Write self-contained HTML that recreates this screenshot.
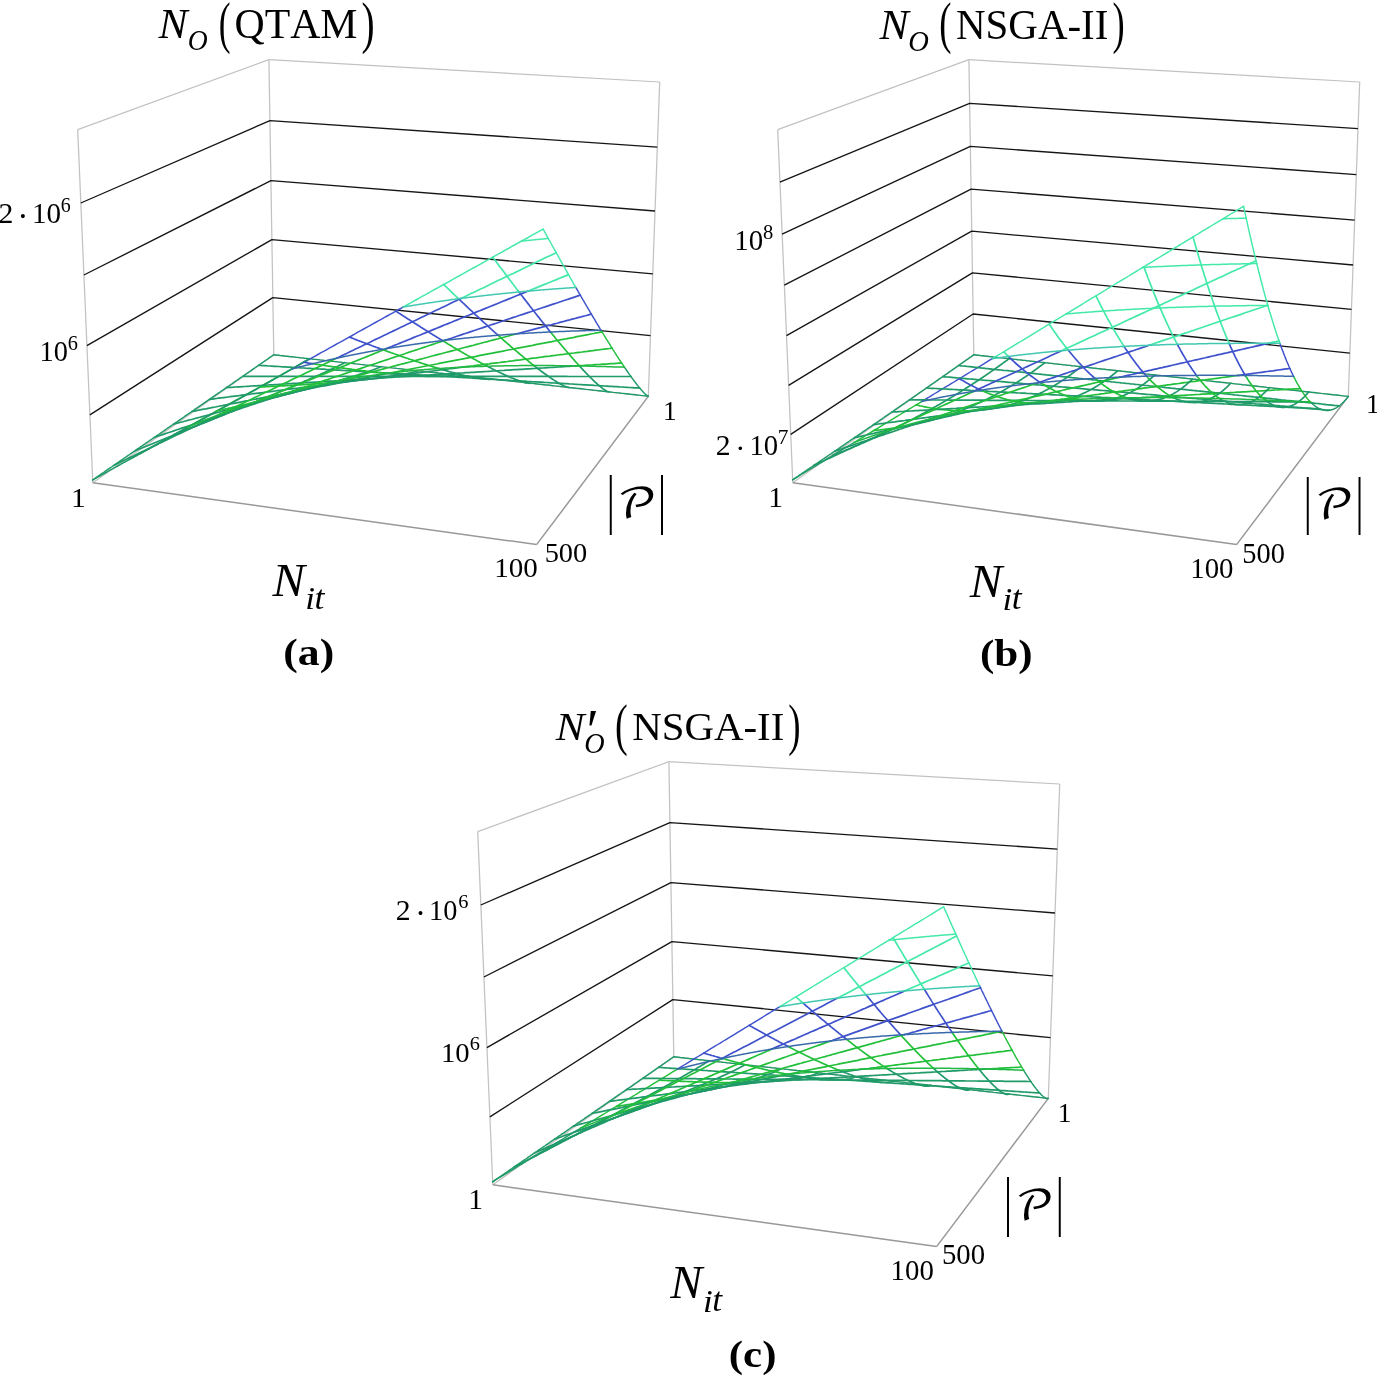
<!DOCTYPE html>
<html><head><meta charset="utf-8"><title>Figure</title><style>html,body{margin:0;padding:0;background:#fff}svg{display:block}text{font-kerning:none}</style></head><body>
<svg width="1377" height="1378" viewBox="0 0 1377 1378">
<rect width="1377" height="1378" fill="#fff"/>
<g id="pa">
<line x1="92.8" y1="482.8" x2="77.7" y2="129.6" stroke="#c2c2c2" stroke-width="1.25"/>
<line x1="273.8" y1="354.8" x2="268.9" y2="59.7" stroke="#c2c2c2" stroke-width="1.25"/>
<line x1="648.3" y1="396.4" x2="659.7" y2="82.0" stroke="#c2c2c2" stroke-width="1.25"/>
<line x1="77.7" y1="129.6" x2="268.9" y2="59.7" stroke="#c2c2c2" stroke-width="1.25"/>
<line x1="268.9" y1="59.7" x2="659.7" y2="82.0" stroke="#c2c2c2" stroke-width="1.25"/>
<line x1="92.8" y1="482.8" x2="273.8" y2="354.8" stroke="#c2c2c2" stroke-width="1.25"/>
<line x1="273.8" y1="354.8" x2="648.3" y2="396.4" stroke="#c2c2c2" stroke-width="1.25"/>
<line x1="92.8" y1="482.8" x2="536.6" y2="544.6" stroke="#989898" stroke-width="1.5"/>
<line x1="536.6" y1="544.6" x2="648.3" y2="396.4" stroke="#989898" stroke-width="1.5"/>
<polyline points="89.9,414.9 272.8,297.6 650.5,335.7" fill="none" stroke="#151515" stroke-width="1.35" stroke-linejoin="round"/>
<polyline points="86.9,345.6 271.9,239.6 652.8,273.9" fill="none" stroke="#151515" stroke-width="1.35" stroke-linejoin="round"/>
<polyline points="83.9,275.0 270.9,180.6 655.0,211.0" fill="none" stroke="#151515" stroke-width="1.35" stroke-linejoin="round"/>
<polyline points="80.8,203.0 269.9,120.6 657.3,147.1" fill="none" stroke="#151515" stroke-width="1.35" stroke-linejoin="round"/>
<polyline points="273.8,354.8 276.0,355.0 278.2,355.2 280.4,355.5 282.6,355.7 284.8,356.0 287.0,356.2 289.2,356.5 291.4,356.7 293.6,356.9 295.8,357.2 298.0,357.4 300.2,357.7 302.4,357.9 304.6,358.2 306.9,358.4 309.1,358.7 311.3,358.9 313.5,359.2 315.7,359.4 318.0,359.6 320.2,359.9 322.4,360.1 324.6,360.4 326.9,360.6 329.1,360.9 331.3,361.1 333.6,361.4 335.8,361.6 338.1,361.9 340.3,362.1 342.6,362.4 344.8,362.6 347.0,362.9 349.3,363.1 351.6,363.4 353.8,363.6 356.1,363.9 358.3,364.1 360.6,364.4 362.8,364.6 365.1,364.9 367.4,365.1 369.6,365.4 371.9,365.6 374.2,365.9 376.5,366.1 378.7,366.4 381.0,366.6 383.3,366.9 385.6,367.1 387.8,367.4 390.1,367.6 392.4,367.9 394.7,368.1 397.0,368.4 399.3,368.6 401.6,368.9 403.9,369.2 406.2,369.4 408.5,369.7 410.8,369.9 413.1,370.2 415.4,370.4 417.7,370.7 420.0,370.9 422.3,371.2 424.6,371.4 426.9,371.7 429.2,372.0 431.6,372.2 433.9,372.5 436.2,372.7 438.5,373.0 440.9,373.2 443.2,373.5 445.5,373.8 447.8,374.0 450.2,374.3 452.5,374.5 454.8,374.8 457.2,375.0 459.5,375.3 461.9,375.6 464.2,375.8 466.6,376.1 468.9,376.3 471.3,376.6 473.6,376.9 476.0,377.1 478.3,377.4 480.7,377.7 483.1,377.9 485.4,378.2 487.8,378.4 490.1,378.7 492.5,379.0 494.9,379.2 497.3,379.5 499.6,379.7 502.0,380.0 504.4,380.3 506.8,380.5 509.2,380.8 511.5,381.1 513.9,381.3 516.3,381.6 518.7,381.9 521.1,382.1 523.5,382.4 525.9,382.7 528.3,382.9 530.7,383.2 533.1,383.4 535.5,383.7 537.9,384.0 540.3,384.2 542.7,384.5 545.1,384.8 547.5,385.0 550.0,385.3 552.4,385.6 554.8,385.9 557.2,386.1 559.7,386.4 562.1,386.7 564.5,386.9 566.9,387.2 569.4,387.5 571.8,387.7 574.3,388.0 576.7,388.3 579.1,388.5 581.6,388.8 584.0,389.1 586.5,389.4 588.9,389.6 591.4,389.9 593.8,390.2 596.3,390.4 598.7,390.7 601.2,391.0 603.7,391.3 606.1,391.5 608.6,391.8 611.1,392.1 613.5,392.4 616.0,392.6 618.5,392.9 621.0,393.2 623.4,393.4 625.9,393.7 628.4,394.0 630.9,394.3 633.4,394.5 635.9,394.8 638.4,395.1 640.9,395.4 643.4,395.6 645.9,395.9 648.4,396.2" fill="none" stroke="#1f9a68" stroke-width="1.45" stroke-linecap="round" stroke-linejoin="round"/>
<polyline points="92.6,480.0 95.1,478.6 97.6,477.2 100.1,475.8 102.6,474.4 105.1,473.0 107.6,471.6 110.1,470.2 112.6,468.8 115.2,467.4 117.7,466.0 120.2,464.6 122.7,463.2 125.3,461.8 127.8,460.4 130.3,459.0 132.9,457.6 135.4,456.1 138.0,454.7 140.5,453.3 143.1,451.9 145.6,450.5 148.2,449.0 150.8,447.6 153.4,446.2 155.9,444.7 158.5,443.3 161.1,441.8 163.7,440.4 166.3,439.0 168.9,437.5 171.5,436.1 174.1,434.6 176.7,433.2 179.3,431.7 181.9,430.3 184.5,428.8 187.2,427.3 187.4,427.2" fill="none" stroke="#1f9a68" stroke-width="1.45" stroke-linecap="round" stroke-linejoin="round"/>
<polyline points="187.4,427.2 189.8,425.9 192.4,424.4 195.0,422.9 197.7,421.5 200.3,420.0 203.0,418.5 205.6,417.1 208.3,415.6 210.9,414.1 213.6,412.6 216.3,411.1 219.0,409.6 221.6,408.1 224.3,406.7 227.0,405.2 229.7,403.7 232.4,402.2 235.1,400.7 237.8,399.2 240.5,397.6 243.2,396.1 245.9,394.6 248.6,393.1 251.3,391.6 254.1,390.1 256.8,388.6 259.5,387.0 262.3,385.5 265.0,384.0 267.7,382.5 270.5,380.9 273.3,379.4 276.0,377.9 278.8,376.3 281.5,374.8 284.3,373.2 287.1,371.7 289.9,370.1 292.1,368.9" fill="none" stroke="#22c03a" stroke-width="1.45" stroke-linecap="round" stroke-linejoin="round"/>
<polyline points="292.1,368.9 292.7,368.6 295.4,367.0 298.2,365.5 301.0,363.9 303.8,362.4 306.6,360.8 309.5,359.2 312.3,357.7 315.1,356.1 317.9,354.5 320.7,352.9 323.6,351.4 326.4,349.8 329.3,348.2 332.1,346.6 335.0,345.0 337.8,343.4 340.7,341.9 343.5,340.3 346.4,338.7 349.3,337.1 352.2,335.5 355.0,333.9 357.9,332.2 360.8,330.6 363.7,329.0 366.6,327.4 369.5,325.8 372.4,324.2 375.4,322.5 378.3,320.9 381.2,319.3 384.1,317.7 387.1,316.0 390.0,314.4 392.9,312.8 395.9,311.1 398.8,309.5 401.8,307.8 403.2,307.0" fill="none" stroke="#3f52cc" stroke-width="1.45" stroke-linecap="round" stroke-linejoin="round"/>
<polyline points="403.2,307.0 404.8,306.2 407.7,304.5 410.7,302.9 413.7,301.2 416.7,299.5 419.6,297.9 422.6,296.2 425.6,294.6 428.6,292.9 431.6,291.2 434.6,289.5 437.7,287.9 440.7,286.2 443.7,284.5 446.7,282.8 449.8,281.1 452.8,279.4 455.8,277.7 458.9,276.0 461.9,274.3 465.0,272.6 468.1,270.9 471.1,269.2 474.2,267.5 477.3,265.8 480.4,264.1 483.5,262.3 486.6,260.6 489.7,258.9 492.8,257.2 495.9,255.4 499.0,253.7 502.1,252.0 505.2,250.2 508.4,248.5 511.5,246.7 514.6,245.0 517.8,243.2 520.9,241.5 521.5,241.1" fill="none" stroke="#43e9a9" stroke-width="1.45" stroke-linecap="round" stroke-linejoin="round"/>
<polyline points="521.5,241.1 524.1,239.7 527.3,238.0 530.4,236.2 533.6,234.4 536.8,232.7 539.9,230.9 543.1,229.1" fill="none" stroke="#43e9a9" stroke-width="1.45" stroke-linecap="round" stroke-linejoin="round"/>
<polyline points="273.8,354.8 272.9,355.4 271.9,356.1 271.0,356.7 270.0,357.4 269.1,358.0 268.1,358.7 267.2,359.4 266.2,360.0 265.3,360.7 264.3,361.3 263.4,362.0 262.4,362.7 261.4,363.3 260.5,364.0 259.5,364.7 258.5,365.3 257.6,366.0 256.6,366.7 255.6,367.4 254.6,368.0 253.7,368.7 252.7,369.4 251.7,370.1 250.7,370.8 249.7,371.5 248.7,372.1 247.7,372.8 246.8,373.5 245.8,374.2 244.8,374.9 243.8,375.6 242.7,376.3 241.7,377.0 240.7,377.7 239.7,378.4 238.7,379.1 237.7,379.8 236.7,380.5 235.7,381.2 234.6,381.9 233.6,382.6 232.6,383.3 231.6,384.0 230.5,384.7 229.5,385.5 228.5,386.2 227.4,386.9 226.4,387.6 225.3,388.3 224.3,389.1 223.2,389.8 222.2,390.5 221.1,391.2 220.1,392.0 219.0,392.7 218.0,393.4 216.9,394.2 215.8,394.9 214.8,395.6 213.7,396.4 212.6,397.1 211.6,397.9 210.5,398.6 209.4,399.4 208.3,400.1 207.2,400.8 206.1,401.6 205.1,402.4 204.0,403.1 202.9,403.9 201.8,404.6 200.7,405.4 199.6,406.1 198.5,406.9 197.4,407.7 196.2,408.4 195.1,409.2 194.0,410.0 192.9,410.8 191.8,411.5 190.7,412.3 189.5,413.1 188.4,413.9 187.3,414.6 186.1,415.4 185.0,416.2 183.9,417.0 182.7,417.8 181.6,418.6 180.4,419.4 179.3,420.2 178.1,421.0 177.0,421.8 175.8,422.6 174.6,423.4 173.5,424.2 172.3,425.0 171.1,425.8 170.0,426.6 168.8,427.4 167.6,428.2 166.4,429.0 165.3,429.8 164.1,430.7 162.9,431.5 161.7,432.3 160.5,433.1 159.3,434.0 158.1,434.8 156.9,435.6 155.7,436.5 154.5,437.3 153.2,438.1 152.0,439.0 150.8,439.8 149.6,440.7 148.4,441.5 147.1,442.4 145.9,443.2 144.7,444.1 143.4,444.9 142.2,445.8 140.9,446.6 139.7,447.5 138.5,448.4 137.2,449.2 135.9,450.1 134.7,451.0 133.4,451.8 132.2,452.7 130.9,453.6 129.6,454.5 128.3,455.3 127.1,456.2 125.8,457.1 124.5,458.0 123.2,458.9 121.9,459.8 120.6,460.7 119.3,461.6 118.0,462.5 116.7,463.4 115.4,464.3 114.1,465.2 112.8,466.1 111.5,467.0 110.1,467.9 108.8,468.8 107.5,469.7 106.2,470.6 104.8,471.6 103.5,472.5 102.1,473.4 100.8,474.3 99.4,475.3 98.1,476.2 96.7,477.1 95.4,478.1 94.0,479.0 92.6,480.0" fill="none" stroke="#1f9a68" stroke-width="1.45" stroke-linecap="round" stroke-linejoin="round"/>
<polyline points="648.4,396.2 647.8,396.0 647.3,395.7 646.8,395.3 646.2,394.9 645.7,394.4 645.2,394.0 644.6,393.4 644.1,392.9 643.6,392.4 643.0,391.8 642.5,391.2 641.9,390.6 641.4,390.0 640.9,389.4 640.3,388.7 639.8,388.1 639.2,387.4 638.7,386.8 638.1,386.1 637.6,385.4 637.0,384.7 636.5,384.0 635.9,383.3 635.4,382.5 634.8,381.8 634.3,381.1 633.7,380.3 633.2,379.6 632.6,378.8 632.0,378.0 631.5,377.3 630.9,376.5 630.4,375.7 629.8,374.9 629.2,374.1 628.7,373.3 628.1,372.5 627.5,371.6 626.9,370.8 626.4,370.0 625.8,369.1 625.2,368.3 624.6,367.4 624.5,367.2" fill="none" stroke="#1f9a68" stroke-width="1.45" stroke-linecap="round" stroke-linejoin="round"/>
<polyline points="624.5,367.2 624.0,366.6 623.5,365.7 622.9,364.8 622.3,363.9 621.7,363.1 621.1,362.2 620.5,361.3 619.9,360.4 619.3,359.5 618.7,358.6 618.1,357.6 617.5,356.7 616.9,355.8 616.3,354.8 615.7,353.9 615.1,353.0 614.5,352.0 613.9,351.0 613.3,350.1 612.7,349.1 612.1,348.1 611.4,347.2 610.8,346.2 610.2,345.2 609.6,344.2 609.0,343.2 608.3,342.2 607.7,341.2 607.1,340.2 606.4,339.1 605.8,338.1 605.2,337.1 604.5,336.0 603.9,335.0 603.3,333.9 602.6,332.9 602.0,331.8 601.3,330.8 601.0,330.2" fill="none" stroke="#22c03a" stroke-width="1.45" stroke-linecap="round" stroke-linejoin="round"/>
<polyline points="601.0,330.2 600.7,329.7 600.0,328.6 599.4,327.5 598.7,326.5 598.1,325.4 597.4,324.3 596.7,323.2 596.1,322.1 595.4,321.0 594.8,319.8 594.1,318.7 593.4,317.6 592.7,316.5 592.1,315.3 591.4,314.2 590.7,313.0 590.0,311.9 589.3,310.7 588.7,309.5 588.0,308.4 587.3,307.2 586.6,306.0 585.9,304.8 585.2,303.6 584.5,302.4 583.8,301.2 583.1,300.0 582.4,298.8 581.7,297.6 581.0,296.4 580.3,295.1 579.5,293.9 578.8,292.6 578.1,291.4 577.4,290.1 576.7,288.9 575.9,287.6 575.8,287.4" fill="none" stroke="#3f52cc" stroke-width="1.45" stroke-linecap="round" stroke-linejoin="round"/>
<polyline points="575.8,287.4 575.2,286.3 574.5,285.1 573.7,283.8 573.0,282.5 572.3,281.2 571.5,279.9 570.8,278.6 570.0,277.3 569.3,276.0 568.5,274.6 567.8,273.3 567.0,272.0 566.3,270.6 565.5,269.3 564.8,267.9 564.0,266.6 563.2,265.2 562.4,263.9 561.7,262.5 560.9,261.1 560.1,259.7 559.3,258.3 558.6,256.9 557.8,255.5 557.0,254.1 556.2,252.7 555.4,251.2 554.6,249.8 553.8,248.4 553.0,246.9 552.2,245.5 551.4,244.0 550.6,242.6 549.8,241.1 548.9,239.6 548.3,238.4" fill="none" stroke="#43e9a9" stroke-width="1.45" stroke-linecap="round" stroke-linejoin="round"/>
<polyline points="548.3,238.4 548.1,238.1 547.3,236.7 546.5,235.2 545.6,233.7 544.8,232.2 544.0,230.6 543.1,229.1" fill="none" stroke="#43e9a9" stroke-width="1.45" stroke-linecap="round" stroke-linejoin="round"/>
<polyline points="258.5,365.3 260.8,365.5 263.0,365.6 265.2,365.7 267.4,365.9 269.7,366.0 271.9,366.1 274.1,366.3 276.4,366.4 278.6,366.5 280.8,366.7 283.1,366.8 285.3,366.9 287.6,367.1 289.8,367.2 292.1,367.3 294.3,367.5 296.6,367.6 298.8,367.7 301.1,367.9 303.3,368.0 305.6,368.2 307.9,368.3 310.1,368.4 312.4,368.6 314.7,368.7 316.9,368.8 319.2,369.0 321.5,369.1 323.7,369.2 326.0,369.4 328.3,369.5 330.6,369.6 332.9,369.8 335.1,369.9 337.4,370.1 339.7,370.2 342.0,370.3 344.3,370.5 346.6,370.6 348.9,370.7 351.2,370.9 353.5,371.0 355.8,371.1 358.1,371.3 360.4,371.4 362.7,371.6 365.0,371.7 367.3,371.8 369.7,372.0 372.0,372.1 374.3,372.3 376.6,372.4 378.9,372.5 381.3,372.7 383.6,372.8 385.9,372.9 388.3,373.1 390.6,373.2 392.9,373.4 395.3,373.5 397.6,373.6 399.9,373.8 402.3,373.9 404.6,374.1 407.0,374.2 409.3,374.3 411.7,374.5 414.0,374.6 416.4,374.8 418.7,374.9 421.1,375.0 423.5,375.2 425.8,375.3 428.2,375.5 430.6,375.6 432.9,375.7 435.3,375.9 437.7,376.0 440.1,376.2 442.4,376.3 444.8,376.5 447.2,376.6 449.6,376.7 452.0,376.9 454.4,377.0 456.8,377.2 459.1,377.3 461.5,377.5 463.9,377.6 466.3,377.7 468.7,377.9 471.1,378.0 473.6,378.2 476.0,378.3 478.4,378.5 480.8,378.6 483.2,378.7 485.6,378.9 488.0,379.0 490.5,379.2 492.9,379.3 495.3,379.5 497.7,379.6 500.2,379.8 502.6,379.9 505.0,380.1 507.5,380.2 509.9,380.3 512.3,380.5 514.8,380.6 517.2,380.8 519.7,380.9 522.1,381.1 524.6,381.2 527.0,381.4 529.5,381.5 531.9,381.7 534.4,381.8 536.9,381.9 539.3,382.1 541.8,382.2 544.3,382.4 546.7,382.5 549.2,382.7 551.7,382.8 554.2,383.0 556.7,383.1 559.1,383.3 561.6,383.4 564.1,383.6 566.6,383.7 569.1,383.9 571.6,384.0 574.1,384.2 576.6,384.3 579.1,384.5 581.6,384.6 584.1,384.8 586.6,384.9 589.1,385.1 591.6,385.2 594.1,385.4 596.6,385.5 599.2,385.7 601.7,385.8 604.2,386.0 606.7,386.1 609.3,386.3 611.8,386.4 614.3,386.6 616.9,386.7 619.4,386.9 621.9,387.0 624.5,387.2 627.0,387.3 629.6,387.5 632.1,387.6 634.7,387.8 637.2,387.9 639.8,388.1" fill="none" stroke="#1f9a68" stroke-width="1.7" stroke-linecap="round" stroke-linejoin="round"/>
<polyline points="309.1,358.7 308.2,359.2 307.3,359.8 306.3,360.4 305.4,360.9 304.5,361.5 303.6,362.0 302.7,362.6 301.8,363.1 300.8,363.7 299.9,364.2 299.0,364.7 298.1,365.3 297.1,365.8 296.2,366.4 295.3,366.9 294.3,367.5 293.4,368.0 292.4,368.6 291.5,369.1 290.5,369.7 289.6,370.2 288.6,370.8 287.7,371.3 286.7,371.9 285.8,372.4 284.8,373.0 283.9,373.5 282.9,374.1 281.9,374.6 281.0,375.2 280.0,375.7 279.0,376.3 278.0,376.9 277.1,377.4 276.1,378.0 275.1,378.5 274.1,379.1 273.1,379.7 272.1,380.2 271.2,380.8 270.2,381.4 269.2,381.9 268.2,382.5 267.2,383.1 266.2,383.6 265.2,384.2 264.2,384.8 263.1,385.3 262.1,385.9 261.1,386.5 260.1,387.0 259.1,387.6 258.1,388.2 257.0,388.8 256.0,389.4 255.0,389.9 254.0,390.5 252.9,391.1 251.9,391.7 250.8,392.3 249.8,392.8 248.8,393.4 247.7,394.0 246.7,394.6 245.6,395.2 244.6,395.8 243.5,396.4 242.5,397.0 241.4,397.6 240.3,398.2 239.3,398.8 238.2,399.4 237.1,400.0 236.0,400.6 235.0,401.2 233.9,401.8 232.8,402.4 231.7,403.0 230.6,403.6 229.5,404.2 228.5,404.8 227.4,405.4 226.3,406.0 225.2,406.6 224.1,407.2 223.0,407.9 221.8,408.5 220.7,409.1 219.6,409.7 218.5,410.3 217.4,411.0 216.3,411.6 215.1,412.2 214.0,412.8 212.9,413.5 211.8,414.1 210.6,414.7 209.5,415.4 208.3,416.0 207.2,416.6 206.0,417.3 204.9,417.9 203.7,418.5 202.6,419.2 201.4,419.8 200.3,420.5 199.1,421.1 197.9,421.8 196.8,422.4 195.6,423.1 194.4,423.7 193.2,424.4 192.0,425.0 190.9,425.7 189.7,426.3 188.5,427.0 187.3,427.6 186.1,428.3 184.9,429.0 183.7,429.6 182.5,430.3 181.3,431.0 180.1,431.6 178.8,432.3 177.6,433.0 176.4,433.6 175.2,434.3 173.9,435.0 172.7,435.7 171.5,436.4 170.2,437.0 169.0,437.7 167.8,438.4 166.5,439.1 165.3,439.8 164.0,440.5 162.7,441.2 161.5,441.9 160.2,442.6 158.9,443.3 157.7,444.0 156.4,444.7 155.1,445.4 153.8,446.1 152.6,446.8 151.3,447.5 150.0,448.2 148.7,448.9 147.4,449.6 146.1,450.3 144.8,451.0 143.5,451.8 142.2,452.5 140.8,453.2 139.5,453.9 138.2,454.6 136.9,455.4 135.5,456.1 134.2,456.8 132.9,457.6" fill="none" stroke="#1f9a68" stroke-width="1.7" stroke-linecap="round" stroke-linejoin="round"/>
<polyline points="242.7,376.3 245.0,376.3 247.3,376.3 249.5,376.3 251.8,376.3 254.0,376.3 256.3,376.3 258.6,376.3 260.8,376.3 263.1,376.3 265.4,376.3 267.6,376.3 269.9,376.3 272.2,376.3 274.5,376.3 276.7,376.3 279.0,376.3 281.3,376.3 283.6,376.3 285.9,376.3 288.2,376.3 290.5,376.3 292.8,376.3 295.1,376.3 297.3,376.3 299.7,376.3 302.0,376.3 304.3,376.3 306.6,376.3 308.9,376.3 311.2,376.3 313.5,376.3 315.8,376.3 318.1,376.3 320.5,376.3 322.8,376.3 325.1,376.3 327.4,376.3 329.8,376.3 332.1,376.3 334.4,376.3 336.8,376.3 339.1,376.3 341.4,376.3 343.8,376.3 346.1,376.3 348.5,376.3 350.8,376.3 353.2,376.3 355.5,376.3 357.9,376.3 360.2,376.3 362.6,376.3 364.9,376.3 367.3,376.3 369.7,376.4 372.0,376.4 374.4,376.4 376.8,376.4 379.2,376.4 381.5,376.4 383.9,376.4 386.3,376.4 388.7,376.4 391.1,376.4 393.5,376.4 395.8,376.4 398.2,376.4 400.6,376.4 403.0,376.4 405.4,376.4 407.8,376.4 410.2,376.4 412.6,376.4 415.0,376.4 417.5,376.4 419.9,376.4 422.3,376.4 424.7,376.4 427.1,376.4 429.5,376.4 432.0,376.4 434.4,376.4 436.8,376.4 439.2,376.4 441.7,376.4 444.1,376.4 446.6,376.4 449.0,376.4 451.4,376.4 453.9,376.4 456.3,376.4 458.8,376.4 461.2,376.4 463.7,376.4 466.1,376.4 468.6,376.4 471.1,376.4 473.5,376.4 476.0,376.4 478.5,376.4 480.9,376.4 483.4,376.4 485.9,376.4 488.3,376.4 490.8,376.4 493.3,376.4 495.8,376.4 498.3,376.4 500.8,376.4 503.3,376.4 505.8,376.4 508.2,376.4 510.7,376.4 513.2,376.4 515.8,376.4 518.3,376.4 520.8,376.4 523.3,376.4 525.8,376.4 528.3,376.4 530.8,376.4 533.3,376.4 535.9,376.4 538.4,376.4 540.9,376.4 543.4,376.4 546.0,376.4 548.5,376.4 551.0,376.4 553.6,376.4 556.1,376.4 558.7,376.4 561.2,376.4 563.8,376.4 566.3,376.4 568.9,376.5 571.4,376.5 574.0,376.5 576.6,376.5 579.1,376.5 581.7,376.5 584.3,376.5 586.8,376.5 589.4,376.5 592.0,376.5 594.6,376.5 597.1,376.5 599.7,376.5 602.3,376.5 604.9,376.5 607.5,376.5 610.1,376.5 612.7,376.5 615.3,376.5 617.9,376.5 620.5,376.5 623.1,376.5 625.7,376.5 628.3,376.5 630.9,376.5" fill="none" stroke="#1f9a68" stroke-width="1.7" stroke-linecap="round" stroke-linejoin="round"/>
<polyline points="344.8,362.6 343.9,363.1 343.1,363.6 342.2,364.0 341.3,364.5 340.4,364.9 339.5,365.4 338.6,365.8 337.8,366.2 336.9,366.7 336.0,367.1 335.1,367.5 334.2,368.0 333.3,368.4 332.4,368.8 331.5,369.2 330.6,369.6 329.7,370.1 328.8,370.5 327.9,370.9 326.9,371.3 326.0,371.7 325.1,372.2 324.2,372.6 323.3,373.0 322.3,373.4 321.4,373.8 320.5,374.2 319.6,374.7 318.6,375.1 317.7,375.5 316.8,375.9 315.8,376.3 314.9,376.7 313.9,377.2 313.0,377.6 312.0,378.0 311.1,378.4 310.1,378.8 309.2,379.2 308.2,379.7 307.3,380.1 306.3,380.5 305.3,380.9 304.4,381.3 303.4,381.8 302.4,382.2 301.5,382.6 300.5,383.0 299.5,383.4 298.5,383.9 297.5,384.3 296.6,384.7 295.6,385.1 294.6,385.5 293.6,386.0 292.6,386.4 291.6,386.8 290.6,387.2 289.6,387.7 288.6,388.1 287.6,388.5 286.6,388.9 285.6,389.4 284.6,389.8 283.5,390.2 282.5,390.6 281.5,391.1 280.5,391.5 279.5,391.9 278.4,392.4 277.4,392.8 276.4,393.2 275.3,393.7 274.3,394.1 273.2,394.5 272.2,395.0 271.1,395.4 270.1,395.8 269.0,396.3 268.0,396.7 266.9,397.2 265.9,397.6 264.8,398.0 263.7,398.5 262.7,398.9 261.6,399.4 260.5,399.8 259.5,400.3 258.4,400.7 257.3,401.1 256.2,401.6 255.1,402.0 254.0,402.5 252.9,402.9 251.8,403.4 250.7,403.8 249.6,404.3 248.5,404.7 247.4,405.2 246.3,405.6 245.2,406.1 244.1,406.5 243.0,407.0 241.9,407.5 240.7,407.9 239.6,408.4 238.5,408.8 237.3,409.3 236.2,409.8 235.1,410.2 233.9,410.7 232.8,411.1 231.6,411.6 230.5,412.1 229.3,412.5 228.2,413.0 227.0,413.5 225.8,414.0 224.7,414.4 223.5,414.9 222.3,415.4 221.2,415.8 220.0,416.3 218.8,416.8 217.6,417.3 216.4,417.7 215.2,418.2 214.0,418.7 212.8,419.2 211.6,419.7 210.4,420.1 209.2,420.6 208.0,421.1 206.8,421.6 205.6,422.1 204.4,422.6 203.2,423.1 201.9,423.6 200.7,424.0 199.5,424.5 198.2,425.0 197.0,425.5 195.7,426.0 194.5,426.5 193.2,427.0 192.0,427.5 190.7,428.0 189.5,428.5 188.2,429.0 186.9,429.5 185.7,430.0 184.4,430.5 183.1,431.0 181.8,431.5 180.6,432.1 179.3,432.6 178.0,433.1 176.7,433.6 175.4,434.1 174.1,434.6" fill="none" stroke="#1f9a68" stroke-width="1.7" stroke-linecap="round" stroke-linejoin="round"/>
<polyline points="226.4,387.6 228.7,387.5 230.9,387.3 233.2,387.2 235.5,387.0 237.8,386.9 240.1,386.8 242.4,386.6 244.7,386.5 247.0,386.3 249.3,386.2 251.6,386.0 253.9,385.9 256.2,385.8 258.5,385.6 260.8,385.5 263.1,385.3 265.5,385.2 267.8,385.0 270.1,384.9 272.4,384.8 274.8,384.6 277.1,384.5 279.4,384.3 281.7,384.2 284.1,384.0 286.4,383.9 288.8,383.7 291.1,383.6 293.4,383.4 295.8,383.3 298.1,383.2 300.5,383.0 302.8,382.9 305.2,382.7 307.6,382.6 309.9,382.4 312.3,382.3 314.6,382.1 317.0,382.0 319.4,381.8 321.8,381.7 324.1,381.5 326.5,381.4 328.9,381.2 331.3,381.1 333.6,381.0 336.0,380.8 338.4,380.7 340.8,380.5 343.2,380.4 345.6,380.2 348.0,380.1 350.4,379.9 352.8,379.8 355.2,379.6 357.6,379.5 360.0,379.3 362.4,379.2 364.8,379.0 367.3,378.9 369.7,378.7 372.1,378.6 374.5,378.4 377.0,378.3 379.4,378.1 381.8,378.0 384.3,377.8 386.7,377.7 389.1,377.5 391.6,377.4 394.0,377.2 396.5,377.0 398.9,376.9 401.4,376.7 403.8,376.6 406.3,376.4 408.7,376.3 411.2,376.1 413.6,376.0 416.1,375.8 418.6,375.7 421.1,375.5 423.5,375.4 426.0,375.2 428.5,375.1 431.0,374.9 433.4,374.8 435.9,374.6 438.4,374.4 440.9,374.3 443.4,374.1 445.9,374.0 448.4,373.8 450.9,373.7 453.4,373.5 455.9,373.4 458.4,373.2 460.9,373.0 463.4,372.9 465.9,372.7 468.5,372.6 471.0,372.4 473.5,372.3 476.0,372.1 478.6,371.9 481.1,371.8 483.6,371.6 486.2,371.5 488.7,371.3 491.2,371.2 493.8,371.0 496.3,370.8 498.9,370.7 501.4,370.5 504.0,370.4 506.5,370.2 509.1,370.1 511.7,369.9 514.2,369.7 516.8,369.6 519.4,369.4 521.9,369.3 524.5,369.1 527.1,368.9 529.7,368.8 532.3,368.6 534.8,368.5 537.4,368.3 540.0,368.1 542.6,368.0 545.2,367.8 547.8,367.6 550.4,367.5 553.0,367.3 555.6,367.2 558.2,367.0 560.9,366.8 563.5,366.7 566.1,366.5 568.7,366.4 571.3,366.2 574.0,366.0 575.6,365.9" fill="none" stroke="#1f9a68" stroke-width="1.7" stroke-linecap="round" stroke-linejoin="round"/>
<polyline points="575.6,365.9 576.6,365.9 579.2,365.7 581.9,365.5 584.5,365.4 587.1,365.2 589.8,365.0 592.4,364.9 595.1,364.7 597.7,364.5 600.4,364.4 603.0,364.2 605.7,364.1 608.4,363.9 611.0,363.7 613.7,363.6 616.4,363.4 619.0,363.2 621.7,363.1" fill="none" stroke="#22c03a" stroke-width="1.7" stroke-linecap="round" stroke-linejoin="round"/>
<polyline points="381.0,366.6 380.2,367.0 379.3,367.4 378.5,367.8 377.6,368.1 376.8,368.4 375.9,368.8 375.1,369.1 374.2,369.4 373.4,369.7 372.5,370.0 371.7,370.3 370.8,370.6 369.9,370.9 369.1,371.2 368.2,371.5 367.3,371.8 366.5,372.1 365.6,372.4 364.7,372.7 363.9,373.0 363.0,373.3 362.1,373.6 361.2,373.8 360.3,374.1 359.4,374.4 358.5,374.7 357.7,375.0 356.8,375.2 355.9,375.5 355.0,375.8 354.1,376.1 353.2,376.3 352.3,376.6 351.4,376.9 350.4,377.2 349.5,377.4 348.6,377.7 347.7,378.0 346.8,378.2 345.9,378.5 344.9,378.8 344.0,379.0 343.1,379.3 342.2,379.6 341.2,379.9 340.3,380.1 339.4,380.4 338.4,380.7 337.5,380.9 336.5,381.2 335.6,381.5 334.6,381.7 333.7,382.0 332.7,382.2 331.8,382.5 330.8,382.8 329.9,383.0 328.9,383.3 327.9,383.6 327.0,383.8 326.0,384.1 325.0,384.4 324.1,384.6 323.1,384.9 322.1,385.2 321.1,385.4 320.1,385.7 319.2,385.9 318.2,386.2 317.2,386.5 316.2,386.7 315.2,387.0 314.2,387.3 313.2,387.5 312.2,387.8 311.2,388.1 310.2,388.3 309.2,388.6 308.1,388.9 307.1,389.1 306.1,389.4 305.1,389.6 304.1,389.9 303.0,390.2 302.0,390.4 301.0,390.7 299.9,391.0 298.9,391.2 297.8,391.5 296.8,391.8 295.8,392.0 294.7,392.3 293.7,392.6 292.6,392.8 291.5,393.1 290.5,393.4 289.4,393.6 288.4,393.9 287.3,394.2 286.2,394.4 285.1,394.7 284.1,395.0 283.0,395.2 281.9,395.5 280.8,395.8 279.7,396.1 278.6,396.3 277.5,396.6 276.4,396.9 275.3,397.1 274.2,397.4 273.1,397.7 272.0,397.9 270.9,398.2 269.8,398.5 268.7,398.8 267.6,399.0 266.4,399.3 265.3,399.6 264.2,399.9 263.0,400.1 261.9,400.4 260.8,400.7 259.6,401.0 258.5,401.2 257.3,401.5 256.2,401.8 255.7,401.9" fill="none" stroke="#1f9a68" stroke-width="1.7" stroke-linecap="round" stroke-linejoin="round"/>
<polyline points="255.7,401.9 255.0,402.1 253.9,402.3 252.7,402.6 251.5,402.9 250.4,403.2 249.2,403.4 248.0,403.7 246.8,404.0 245.7,404.3 244.5,404.6 243.3,404.8 242.1,405.1 240.9,405.4 239.7,405.7 238.5,406.0 237.3,406.2 236.1,406.5 234.9,406.8 233.7,407.1 232.4,407.4 231.2,407.7 230.0,408.0 228.8,408.2 227.5,408.5 226.3,408.8 225.1,409.1 223.8,409.4 222.6,409.7 221.3,410.0 220.1,410.3 218.8,410.5 217.5,410.8 216.3,411.1" fill="none" stroke="#22c03a" stroke-width="1.7" stroke-linecap="round" stroke-linejoin="round"/>
<polyline points="209.4,399.4 211.7,399.1 214.0,398.8 216.3,398.5 218.7,398.2 221.0,397.9 223.3,397.6 225.6,397.3 228.0,397.0 230.3,396.7 232.6,396.4 235.0,396.1 237.3,395.8 239.6,395.5 242.0,395.2 244.3,394.9 246.7,394.6 249.0,394.3 251.4,394.0 253.7,393.7 256.1,393.4 258.4,393.1 260.8,392.8 263.2,392.5 265.5,392.2 267.9,391.9 270.3,391.6 272.6,391.3 275.0,391.0 277.4,390.7 279.8,390.4 282.2,390.1 284.6,389.8 286.9,389.5 289.3,389.2 291.7,388.9 294.1,388.6 296.5,388.3 298.9,388.0 301.3,387.7 303.7,387.4 306.2,387.0 308.6,386.7 311.0,386.4 313.4,386.1 315.8,385.8 318.2,385.5 320.7,385.2 323.1,384.9 325.5,384.6 327.9,384.3 330.4,384.0 332.8,383.7 335.3,383.3 337.7,383.0 340.1,382.7 342.6,382.4 345.0,382.1 347.5,381.8 350.0,381.5 352.4,381.2 354.9,380.9 357.3,380.5 359.8,380.2 362.3,379.9 364.7,379.6 367.2,379.3 369.7,379.0 372.2,378.7 374.6,378.3 377.1,378.0 379.6,377.7 382.1,377.4 384.6,377.1 387.1,376.8 389.6,376.4 392.1,376.1 394.6,375.8 397.1,375.5 399.6,375.2 402.1,374.8 404.6,374.5 407.1,374.2 409.7,373.9 412.2,373.6 414.7,373.2 417.2,372.9 419.8,372.6 422.3,372.3 424.8,372.0 427.4,371.6 429.9,371.3 432.5,371.0 435.0,370.7 437.6,370.3 440.1,370.0 442.7,369.7 445.2,369.4 447.8,369.0 450.3,368.7 452.9,368.4 455.5,368.1 458.0,367.7 460.6,367.4 462.3,367.2" fill="none" stroke="#1f9a68" stroke-width="1.7" stroke-linecap="round" stroke-linejoin="round"/>
<polyline points="462.3,367.2 463.2,367.1 465.8,366.7 468.4,366.4 470.9,366.1 473.5,365.8 476.1,365.4 478.7,365.1 481.3,364.8 483.9,364.4 486.5,364.1 489.1,363.8 491.7,363.4 494.3,363.1 496.9,362.8 499.6,362.5 502.2,362.1 504.8,361.8 507.4,361.5 510.0,361.1 512.7,360.8 515.3,360.4 517.9,360.1 520.6,359.8 523.2,359.4 525.9,359.1 528.5,358.8 531.2,358.4 533.8,358.1 536.5,357.8 539.1,357.4 541.8,357.1 544.5,356.7 547.1,356.4 549.8,356.1 552.5,355.7 555.2,355.4 557.8,355.0 560.5,354.7 563.2,354.4 565.9,354.0 568.6,353.7 571.3,353.3 574.0,353.0 576.7,352.6 579.4,352.3 582.1,352.0 584.8,351.6 587.5,351.3 590.2,350.9 592.9,350.6 595.7,350.2 598.4,349.9 601.1,349.5 603.9,349.2 606.6,348.8 609.3,348.5 612.1,348.1" fill="none" stroke="#22c03a" stroke-width="1.7" stroke-linecap="round" stroke-linejoin="round"/>
<polyline points="417.7,370.7 416.9,371.0 416.1,371.3 415.3,371.5 414.5,371.8 413.7,372.0 412.8,372.2 412.0,372.4 411.2,372.6 410.4,372.8 409.6,373.0 408.8,373.2 407.9,373.4 407.1,373.6 406.3,373.7 405.5,373.9 404.6,374.1 403.8,374.2 403.0,374.4 402.1,374.5 401.3,374.7 400.4,374.8 399.6,375.0 398.8,375.1 397.9,375.3 397.1,375.4 396.2,375.6 395.4,375.7 394.5,375.8 393.6,376.0 392.8,376.1 391.9,376.2 391.1,376.4 390.2,376.5 389.3,376.6 388.5,376.7 387.6,376.9 386.7,377.0 385.8,377.1 385.0,377.2 384.1,377.3 383.2,377.5 382.3,377.6 381.4,377.7 380.5,377.8 379.6,377.9 378.8,378.0 377.9,378.2 377.0,378.3 376.1,378.4 375.2,378.5 374.2,378.6 373.3,378.7 372.4,378.8 371.5,378.9 370.6,379.0 369.7,379.1 368.8,379.2 367.8,379.3 366.9,379.4 366.0,379.5 365.1,379.6 364.1,379.7 363.2,379.8 362.3,379.9 361.3,380.0 360.4,380.1 359.4,380.2 358.5,380.3 357.6,380.4 356.6,380.5 355.6,380.6 354.7,380.7 353.7,380.8 352.8,380.8 351.8,380.9 350.8,381.0 349.9,381.1 348.9,381.2 347.9,381.3 347.0,381.4 346.0,381.5 345.0,381.6 344.0,381.6 343.0,381.7 342.0,381.8 341.0,381.9 340.1,382.0 339.1,382.1 338.1,382.1 337.1,382.2 336.0,382.3 335.0,382.4 334.0,382.5 333.0,382.6 332.0,382.6 331.0,382.7 330.0,382.8 328.9,382.9 328.3,382.9" fill="none" stroke="#1f9a68" stroke-width="1.7" stroke-linecap="round" stroke-linejoin="round"/>
<polyline points="328.3,382.9 327.9,382.9 326.9,383.0 325.8,383.1 324.8,383.2 323.8,383.3 322.7,383.3 321.7,383.4 320.6,383.5 319.6,383.6 318.5,383.6 317.5,383.7 316.4,383.8 315.4,383.9 314.3,383.9 313.2,384.0 312.2,384.1 311.1,384.1 310.0,384.2 308.9,384.3 307.9,384.4 306.8,384.4 305.7,384.5 304.6,384.6 303.5,384.6 302.4,384.7 301.3,384.8 300.2,384.8 299.1,384.9 298.0,385.0 296.9,385.0 295.8,385.1 294.6,385.2 293.5,385.2 292.4,385.3 291.3,385.4 290.1,385.4 289.0,385.5 287.9,385.6 286.7,385.6 285.6,385.7 284.4,385.8 283.3,385.8 282.1,385.9 281.0,386.0 279.8,386.0 278.6,386.1 277.5,386.1 276.3,386.2 275.1,386.3 273.9,386.3 272.8,386.4 271.6,386.5 270.4,386.5 269.2,386.6 268.0,386.6 266.8,386.7 265.6,386.7 264.4,386.8 263.2,386.9 262.0,386.9 260.7,387.0 259.5,387.0" fill="none" stroke="#22c03a" stroke-width="1.7" stroke-linecap="round" stroke-linejoin="round"/>
<polyline points="191.8,411.5 194.1,411.1 196.5,410.6 198.8,410.2 201.2,409.7 203.5,409.2 205.9,408.8 208.2,408.3 210.6,407.9 212.9,407.4 215.3,407.0 217.7,406.5 220.0,406.0 222.4,405.6 224.8,405.1 227.2,404.7 229.5,404.2 231.9,403.7 234.3,403.3 236.7,402.8 239.1,402.3 241.5,401.9 243.9,401.4 246.3,400.9 248.7,400.5 251.1,400.0 253.5,399.5 255.9,399.1 258.3,398.6 260.7,398.1 263.1,397.7 265.6,397.2 268.0,396.7 270.4,396.2 272.8,395.8 275.3,395.3 277.7,394.8 280.1,394.4 282.6,393.9 285.0,393.4 287.5,392.9 289.9,392.5 292.4,392.0 294.8,391.5 297.3,391.0 299.7,390.6 302.2,390.1 304.7,389.6 307.1,389.1 309.6,388.6 312.1,388.2 314.5,387.7 317.0,387.2 319.5,386.7 322.0,386.2 324.5,385.8 326.9,385.3 329.4,384.8 331.9,384.3 334.4,383.8 336.9,383.3 339.4,382.8 341.9,382.4 344.4,381.9 347.0,381.4 349.5,380.9 352.0,380.4 354.5,379.9 357.0,379.4 359.6,378.9 362.1,378.4 364.6,377.9 367.1,377.5 369.7,377.0 372.2,376.5 374.8,376.0 377.3,375.5 379.9,375.0 382.4,374.5 385.0,374.0 387.5,373.5 389.7,373.1" fill="none" stroke="#1f9a68" stroke-width="1.7" stroke-linecap="round" stroke-linejoin="round"/>
<polyline points="389.7,373.1 390.1,373.0 392.6,372.5 395.2,372.0 397.8,371.5 400.3,371.0 402.9,370.5 405.5,370.0 408.1,369.5 410.7,369.0 413.3,368.5 415.8,368.0 418.4,367.5 421.0,367.0 423.6,366.5 426.2,366.0 428.8,365.5 431.4,365.0 434.0,364.5 436.7,364.0 439.3,363.4 441.9,362.9 444.5,362.4 447.1,361.9 449.8,361.4 452.4,360.9 455.0,360.4 457.7,359.9 460.3,359.4 463.0,358.8 465.6,358.3 468.3,357.8 470.9,357.3 473.6,356.8 476.2,356.3 478.9,355.7 481.6,355.2 484.2,354.7 486.9,354.2 489.6,353.7 492.2,353.2 494.9,352.6 497.6,352.1 500.3,351.6 503.0,351.1 505.7,350.5 508.4,350.0 511.1,349.5 513.8,349.0 516.5,348.4 519.2,347.9 521.9,347.4 524.6,346.9 527.3,346.3 530.1,345.8 532.8,345.3 535.5,344.7 538.2,344.2 541.0,343.7 543.7,343.2 546.5,342.6 549.2,342.1 552.0,341.6 554.7,341.0 557.5,340.5 560.2,339.9 563.0,339.4 565.7,338.9 568.5,338.3 571.3,337.8 574.1,337.3 576.8,336.7 579.6,336.2 582.4,335.6 585.2,335.1 588.0,334.6 590.8,334.0 593.6,333.5 596.4,332.9 599.2,332.4 602.0,331.8" fill="none" stroke="#22c03a" stroke-width="1.7" stroke-linecap="round" stroke-linejoin="round"/>
<polyline points="454.8,374.8 454.1,375.0 453.3,375.2 452.6,375.4 451.8,375.5 451.0,375.6 450.2,375.7 449.5,375.8 448.7,375.9 447.9,376.0 447.1,376.0 446.4,376.1 445.6,376.2 444.8,376.2 444.0,376.2 443.2,376.3 442.4,376.3 441.6,376.3 440.9,376.4 440.1,376.4 439.3,376.4 438.5,376.4 437.7,376.4 436.9,376.4 436.1,376.4 435.2,376.4 434.4,376.4 433.6,376.4 432.8,376.4 432.0,376.4 431.2,376.4 430.4,376.4 429.5,376.4 428.7,376.4 427.9,376.3 427.1,376.3 426.2,376.3 425.4,376.3 424.6,376.2 423.7,376.2 422.9,376.2 422.1,376.1 421.2,376.1 420.4,376.1 419.5,376.0 418.7,376.0 417.8,375.9 417.0,375.9 416.1,375.8 415.3,375.8 414.4,375.7 413.5,375.7 412.7,375.6 411.8,375.6 410.9,375.5 410.1,375.4 409.2,375.4 408.3,375.3 407.4,375.3 406.6,375.2 405.7,375.1 404.8,375.1 403.9,375.0 403.0,374.9 402.1,374.8 401.2,374.8 400.3,374.7 399.4,374.6 398.5,374.5 397.6,374.5 396.7,374.4 395.8,374.3 394.9,374.2 394.0,374.1 393.1,374.0 392.1,374.0 391.2,373.9 390.3,373.8 389.4,373.7 388.5,373.6 387.5,373.5 386.8,373.4" fill="none" stroke="#1f9a68" stroke-width="1.7" stroke-linecap="round" stroke-linejoin="round"/>
<polyline points="386.8,373.4 386.6,373.4 385.7,373.3 384.7,373.2 383.8,373.1 382.8,373.0 381.9,372.9 380.9,372.8 380.0,372.7 379.0,372.6 378.1,372.5 377.1,372.4 376.1,372.3 375.2,372.2 374.2,372.1 373.2,372.0 372.3,371.8 371.3,371.7 370.3,371.6 369.3,371.5 368.4,371.4 367.4,371.3 366.4,371.1 365.4,371.0 364.4,370.9 363.4,370.8 362.4,370.7 361.4,370.5 360.4,370.4 359.4,370.3 358.4,370.2 357.4,370.0 356.3,369.9 355.3,369.8 354.3,369.6 353.3,369.5 352.2,369.4 351.2,369.2 350.2,369.1 349.1,368.9 348.1,368.8 347.0,368.7 346.0,368.5 344.9,368.4 343.9,368.2 342.8,368.1 341.8,368.0 340.7,367.8 339.7,367.7 338.6,367.5 337.5,367.4 336.4,367.2 335.4,367.1 334.3,366.9 333.2,366.8 332.1,366.6 331.0,366.4 329.9,366.3 328.8,366.1 327.7,366.0 326.6,365.8 325.5,365.6 324.4,365.5 323.3,365.3 322.2,365.2 321.1,365.0 319.9,364.8 318.8,364.6 317.7,364.5 316.5,364.3 315.4,364.1 314.3,364.0 313.1,363.8 312.7,363.7" fill="none" stroke="#22c03a" stroke-width="1.7" stroke-linecap="round" stroke-linejoin="round"/>
<polyline points="312.7,363.7 312.0,363.6 310.8,363.4 309.7,363.3 308.5,363.1 307.3,362.9 306.2,362.7 305.0,362.5 303.8,362.4" fill="none" stroke="#3f52cc" stroke-width="1.7" stroke-linecap="round" stroke-linejoin="round"/>
<polyline points="173.5,424.2 175.9,423.5 178.2,422.9 180.6,422.3 183.0,421.7 185.4,421.0 187.7,420.4 190.1,419.8 192.5,419.2 194.9,418.5 197.3,417.9 199.7,417.3 202.1,416.6 204.5,416.0 206.9,415.4 209.3,414.7 211.8,414.1 214.2,413.5 216.6,412.8 219.0,412.2 221.4,411.5 223.9,410.9 226.3,410.3 228.7,409.6 231.2,409.0 233.6,408.3 236.0,407.7 238.5,407.1 240.9,406.4 243.4,405.8 245.8,405.1 248.3,404.5 250.7,403.8 253.2,403.2 255.7,402.5 258.1,401.9 260.6,401.2 263.1,400.6 265.6,399.9 268.0,399.3 270.5,398.6 273.0,398.0 275.5,397.3 278.0,396.7 280.5,396.0 283.0,395.3 285.5,394.7 288.0,394.0 290.5,393.4 293.0,392.7 295.5,392.0 298.0,391.4 300.5,390.7 303.1,390.1 305.6,389.4 308.1,388.7 310.6,388.1 313.2,387.4 315.7,386.7 318.2,386.1 320.8,385.4 323.3,384.7 325.9,384.1 328.4,383.4 331.0,382.7 333.5,382.0 336.0,381.4" fill="none" stroke="#1f9a68" stroke-width="1.7" stroke-linecap="round" stroke-linejoin="round"/>
<polyline points="336.0,381.4 336.1,381.4 338.7,380.7 341.2,380.0 343.8,379.3 346.4,378.7 348.9,378.0 351.5,377.3 354.1,376.6 356.7,375.9 359.3,375.3 361.9,374.6 364.5,373.9 367.1,373.2 369.7,372.5 372.3,371.8 374.9,371.2 377.5,370.5 380.1,369.8 382.7,369.1 385.3,368.4 388.0,367.7 390.6,367.0 393.2,366.3 395.9,365.6 398.5,364.9 401.1,364.2 403.8,363.6 406.4,362.9 409.1,362.2 411.7,361.5 414.4,360.8 417.0,360.1 419.7,359.4 422.4,358.7 425.0,358.0 427.7,357.3 430.4,356.5 433.1,355.8 435.7,355.1 438.4,354.4 441.1,353.7 443.8,353.0 446.5,352.3 449.2,351.6 451.9,350.9 454.6,350.2 457.3,349.5 460.0,348.7 462.7,348.0 465.5,347.3 468.2,346.6 470.9,345.9 473.6,345.2 476.4,344.4 479.1,343.7 481.8,343.0 484.6,342.3 487.3,341.6 490.1,340.8 492.8,340.1 495.6,339.4 498.3,338.7 501.1,337.9 503.9,337.2 506.6,336.5 509.4,335.7 512.2,335.0 515.0,334.3 516.4,333.9" fill="none" stroke="#22c03a" stroke-width="1.7" stroke-linecap="round" stroke-linejoin="round"/>
<polyline points="516.4,333.9 517.8,333.5 520.5,332.8 523.3,332.1 526.1,331.3 528.9,330.6 531.7,329.9 534.5,329.1 537.3,328.4 540.2,327.7 543.0,326.9 545.8,326.2 548.6,325.4 551.4,324.7 554.3,323.9 557.1,323.2 559.9,322.4 562.8,321.7 565.6,320.9 568.5,320.2 571.3,319.4 574.2,318.7 577.0,317.9 579.9,317.2 582.8,316.4 585.6,315.7 588.5,314.9 591.4,314.2" fill="none" stroke="#3f52cc" stroke-width="1.7" stroke-linecap="round" stroke-linejoin="round"/>
<polyline points="492.5,379.0 491.8,379.1 491.1,379.2 490.3,379.3 489.6,379.3 488.9,379.3 488.2,379.3 487.4,379.2 486.7,379.2 486.0,379.2 485.2,379.1 484.5,379.0 483.8,379.0 483.0,378.9 482.3,378.8 481.5,378.7 480.8,378.6 480.0,378.5 479.3,378.4 478.5,378.3 477.8,378.2 477.0,378.0 476.3,377.9 475.5,377.8 474.8,377.6 474.0,377.5 473.2,377.3 472.5,377.2 471.7,377.0 470.9,376.9 470.1,376.7 469.4,376.6 468.6,376.4 467.8,376.2 467.0,376.1 466.3,375.9 465.5,375.7 464.7,375.5 463.9,375.3 463.1,375.2 462.3,375.0 461.5,374.8 460.7,374.6 459.9,374.4 459.1,374.2 458.3,374.0 457.5,373.8 456.7,373.6 455.9,373.4 455.1,373.1 454.3,372.9 453.5,372.7 452.6,372.5 451.8,372.3 451.0,372.0 450.2,371.8 449.3,371.6 448.5,371.4 447.7,371.1 446.9,370.9 446.0,370.7 445.2,370.4 444.3,370.2 443.5,369.9 442.7,369.7 441.8,369.4 441.0,369.2 440.1,368.9 439.3,368.7 438.8,368.5" fill="none" stroke="#1f9a68" stroke-width="1.7" stroke-linecap="round" stroke-linejoin="round"/>
<polyline points="438.8,368.5 438.4,368.4 437.5,368.2 436.7,367.9 435.8,367.6 435.0,367.4 434.1,367.1 433.2,366.8 432.3,366.6 431.5,366.3 430.6,366.0 429.7,365.8 428.8,365.5 427.9,365.2 427.1,364.9 426.2,364.6 425.3,364.3 424.4,364.1 423.5,363.8 422.6,363.5 421.7,363.2 420.8,362.9 419.9,362.6 419.0,362.3 418.1,362.0 417.1,361.7 416.2,361.4 415.3,361.1 414.4,360.8 413.4,360.4 412.5,360.1 411.6,359.8 410.7,359.5 409.7,359.2 408.8,358.9 407.8,358.5 406.9,358.2 406.0,357.9 405.0,357.6 404.0,357.2 403.1,356.9 402.1,356.6 401.2,356.2 400.2,355.9 399.2,355.6 398.3,355.2 397.3,354.9 396.3,354.5 395.4,354.2 394.4,353.8 393.4,353.5 392.4,353.1 391.4,352.8 390.4,352.4 389.4,352.1 388.4,351.7 387.4,351.4 386.4,351.0 385.4,350.6 384.4,350.3 383.4,349.9 382.4,349.5 382.0,349.4" fill="none" stroke="#22c03a" stroke-width="1.7" stroke-linecap="round" stroke-linejoin="round"/>
<polyline points="382.0,349.4 381.4,349.1 380.3,348.8 379.3,348.4 378.3,348.0 377.2,347.6 376.2,347.3 375.2,346.9 374.1,346.5 373.1,346.1 372.0,345.7 371.0,345.3 369.9,344.9 368.9,344.5 367.8,344.1 366.8,343.7 365.7,343.3 364.6,342.9 363.5,342.5 362.5,342.1 361.4,341.7 360.3,341.3 359.2,340.9 358.1,340.5 357.0,340.0 355.9,339.6 354.8,339.2 353.7,338.8 352.6,338.3 351.5,337.9 350.4,337.5 349.3,337.1" fill="none" stroke="#3f52cc" stroke-width="1.7" stroke-linecap="round" stroke-linejoin="round"/>
<polyline points="154.5,437.3 156.9,436.5 159.3,435.7 161.7,434.9 164.1,434.1 166.5,433.3 168.9,432.5 171.3,431.7 173.8,430.9 176.2,430.0 178.6,429.2 181.0,428.4 183.5,427.6 185.9,426.8 188.3,426.0 190.8,425.2 193.2,424.4 195.7,423.5 198.1,422.7 200.6,421.9 203.0,421.1 205.5,420.3 208.0,419.4 210.4,418.6 212.9,417.8 215.4,417.0 217.9,416.1 220.3,415.3 222.8,414.5 225.3,413.6 227.8,412.8 230.3,412.0 232.8,411.1 235.3,410.3 237.8,409.5 240.3,408.6 242.8,407.8 245.3,407.0 247.8,406.1 250.3,405.3 252.9,404.4 255.4,403.6 257.9,402.8 260.4,401.9 263.0,401.1 265.5,400.2 268.0,399.4 270.6,398.5 273.1,397.7 275.7,396.8 278.2,396.0 280.8,395.1 283.3,394.3 285.9,393.4 288.5,392.6 291.0,391.7 292.3,391.3" fill="none" stroke="#1f9a68" stroke-width="1.7" stroke-linecap="round" stroke-linejoin="round"/>
<polyline points="292.3,391.3 293.6,390.8 296.2,390.0 298.8,389.1 301.3,388.3 303.9,387.4 306.5,386.5 309.1,385.7 311.7,384.8 314.3,383.9 316.9,383.1 319.5,382.2 322.1,381.3 324.7,380.4 327.3,379.6 330.0,378.7 332.6,377.8 335.2,376.9 337.8,376.1 340.5,375.2 343.1,374.3 345.7,373.4 348.4,372.5 351.0,371.7 353.7,370.8 356.3,369.9 359.0,369.0 361.7,368.1 364.3,367.2 367.0,366.3 369.6,365.4 372.3,364.6 375.0,363.7 377.7,362.8 380.4,361.9 383.0,361.0 385.7,360.1 388.4,359.2 391.1,358.3 393.8,357.4 396.5,356.5 399.2,355.6 402.0,354.7 404.7,353.8 407.4,352.8 410.1,351.9 412.8,351.0 415.6,350.1 418.3,349.2 421.0,348.3 423.8,347.4 426.5,346.5 429.3,345.5 432.0,344.6 434.8,343.7 437.5,342.8 440.3,341.9 443.1,340.9 444.7,340.4" fill="none" stroke="#22c03a" stroke-width="1.7" stroke-linecap="round" stroke-linejoin="round"/>
<polyline points="444.7,340.4 445.8,340.0 448.6,339.1 451.4,338.2 454.2,337.2 456.9,336.3 459.7,335.4 462.5,334.4 465.3,333.5 468.1,332.6 470.9,331.6 473.7,330.7 476.5,329.8 479.4,328.8 482.2,327.9 485.0,326.9 487.8,326.0 490.6,325.0 493.5,324.1 496.3,323.2 499.2,322.2 502.0,321.3 504.8,320.3 507.7,319.3 510.6,318.4 513.4,317.4 516.3,316.5 519.1,315.5 522.0,314.6 524.9,313.6 527.8,312.6 530.7,311.7 533.5,310.7 536.4,309.8 539.3,308.8 542.2,307.8 545.1,306.9 548.0,305.9 550.9,304.9 553.9,303.9 556.8,303.0 559.7,302.0 562.6,301.0 565.5,300.0 568.5,299.1 571.4,298.1 574.4,297.1 577.3,296.1 580.3,295.1" fill="none" stroke="#3f52cc" stroke-width="1.7" stroke-linecap="round" stroke-linejoin="round"/>
<polyline points="530.7,383.2 530.0,383.3 529.3,383.2 528.6,383.2 528.0,383.1 527.3,383.0 526.6,382.9 525.9,382.7 525.2,382.6 524.5,382.4 523.9,382.2 523.2,382.0 522.5,381.8 521.8,381.6 521.1,381.4 520.4,381.2 519.7,380.9 519.0,380.7 518.3,380.4 517.6,380.2 516.9,379.9 516.2,379.7 515.4,379.4 514.7,379.1 514.0,378.8 513.3,378.5 512.6,378.3 511.9,378.0 511.1,377.7 510.4,377.4 509.7,377.0 509.0,376.7 508.2,376.4 507.5,376.1 506.8,375.8 506.1,375.4 505.3,375.1 504.6,374.8 503.8,374.4 503.1,374.1 502.4,373.7 501.6,373.4 500.9,373.0 500.1,372.7 499.4,372.3 498.6,372.0 497.9,371.6 497.1,371.2 496.3,370.8 495.6,370.5 494.8,370.1 494.0,369.7 493.3,369.3 492.5,368.9 491.7,368.5 491.0,368.1 490.2,367.7 489.4,367.3 488.6,366.9 487.8,366.5 487.3,366.2" fill="none" stroke="#1f9a68" stroke-width="1.7" stroke-linecap="round" stroke-linejoin="round"/>
<polyline points="487.3,366.2 487.1,366.1 486.3,365.7 485.5,365.3 484.7,364.9 483.9,364.4 483.1,364.0 482.3,363.6 481.5,363.2 480.7,362.7 479.9,362.3 479.1,361.8 478.3,361.4 477.5,361.0 476.7,360.5 475.9,360.1 475.0,359.6 474.2,359.2 473.4,358.7 472.6,358.2 471.7,357.8 470.9,357.3 470.1,356.8 469.2,356.4 468.4,355.9 467.6,355.4 466.7,354.9 465.9,354.4 465.0,354.0 464.2,353.5 463.3,353.0 462.5,352.5 461.6,352.0 460.8,351.5 459.9,351.0 459.0,350.5 458.2,350.0 457.3,349.5 456.4,348.9 455.6,348.4 454.7,347.9 453.8,347.4 452.9,346.9 452.0,346.3 451.2,345.8 450.3,345.3 449.4,344.7 448.5,344.2 447.6,343.7 446.7,343.1 445.8,342.6 444.9,342.0 444.0,341.5 443.1,340.9 442.6,340.6" fill="none" stroke="#22c03a" stroke-width="1.7" stroke-linecap="round" stroke-linejoin="round"/>
<polyline points="442.6,340.6 442.1,340.4 441.2,339.8 440.3,339.3 439.4,338.7 438.5,338.1 437.5,337.6 436.6,337.0 435.7,336.4 434.7,335.8 433.8,335.3 432.9,334.7 431.9,334.1 431.0,333.5 430.0,332.9 429.1,332.3 428.1,331.7 427.2,331.1 426.2,330.5 425.2,329.9 424.3,329.3 423.3,328.7 422.3,328.1 421.3,327.5 420.4,326.8 419.4,326.2 418.4,325.6 417.4,325.0 416.4,324.3 415.4,323.7 414.4,323.1 413.4,322.4 412.4,321.8 411.4,321.1 410.4,320.5 409.4,319.8 408.4,319.2 407.3,318.5 406.3,317.9 405.3,317.2 404.3,316.5 403.2,315.9 402.2,315.2 401.1,314.5 400.1,313.8 399.0,313.2 398.0,312.5 396.9,311.8 395.9,311.1" fill="none" stroke="#3f52cc" stroke-width="1.7" stroke-linecap="round" stroke-linejoin="round"/>
<polyline points="134.7,451.0 137.1,450.0 139.5,449.0 142.0,448.0 144.4,447.0 146.9,446.0 149.3,445.0 151.8,444.0 154.2,443.0 156.7,442.0 159.1,441.0 161.6,440.0 164.1,439.0 166.5,438.0 169.0,437.0 171.5,436.0 173.9,435.0 176.4,434.0 178.9,433.0 181.4,432.0 183.9,431.0 186.4,429.9 188.9,428.9 191.4,427.9 193.9,426.9 196.4,425.9 198.9,424.9 201.4,423.8 203.9,422.8 206.5,421.8 209.0,420.8 211.5,419.7 214.0,418.7 216.6,417.7 219.1,416.6 221.7,415.6 224.2,414.6 226.8,413.5 229.3,412.5 231.9,411.5 234.4,410.4 237.0,409.4 239.5,408.3 242.1,407.3 244.7,406.3 247.3,405.2 249.8,404.2 252.4,403.1 254.3,402.3" fill="none" stroke="#1f9a68" stroke-width="1.7" stroke-linecap="round" stroke-linejoin="round"/>
<polyline points="254.3,402.3 255.0,402.1 257.6,401.0 260.2,399.9 262.8,398.9 265.4,397.8 268.0,396.8 270.6,395.7 273.2,394.7 275.8,393.6 278.4,392.5 281.1,391.5 283.7,390.4 286.3,389.3 289.0,388.3 291.6,387.2 294.2,386.1 296.9,385.0 299.5,384.0 302.2,382.9 304.8,381.8 307.5,380.7 310.1,379.7 312.8,378.6 315.5,377.5 318.1,376.4 320.8,375.3 323.5,374.2 326.2,373.1 328.9,372.0 331.6,370.9 334.3,369.9 337.0,368.8 339.7,367.7 342.4,366.6 345.1,365.5 347.8,364.4 350.5,363.3 353.2,362.1 355.9,361.0 358.7,359.9 361.4,358.8 364.1,357.7 366.9,356.6 369.6,355.5 372.4,354.4 375.1,353.2 377.9,352.1 380.6,351.0 383.4,349.9 386.2,348.8 386.4,348.6" fill="none" stroke="#22c03a" stroke-width="1.7" stroke-linecap="round" stroke-linejoin="round"/>
<polyline points="386.4,348.6 388.9,347.6 391.7,346.5 394.5,345.4 397.3,344.3 400.0,343.1 402.8,342.0 405.6,340.9 408.4,339.7 411.2,338.6 414.0,337.4 416.8,336.3 419.7,335.2 422.5,334.0 425.3,332.9 428.1,331.7 430.9,330.6 433.8,329.4 436.6,328.3 439.5,327.1 442.3,325.9 445.1,324.8 448.0,323.6 450.9,322.5 453.7,321.3 456.6,320.1 459.4,319.0 462.3,317.8 465.2,316.6 468.1,315.5 471.0,314.3 473.9,313.1 476.7,311.9 479.6,310.8 482.5,309.6 485.5,308.4 488.4,307.2 491.3,306.0 494.2,304.9 497.1,303.7 500.0,302.5 503.0,301.3 505.9,300.1 508.9,298.9 511.8,297.7 514.7,296.5 517.7,295.3 520.7,294.1 523.6,292.9 526.6,291.7 527.9,291.1" fill="none" stroke="#3f52cc" stroke-width="1.7" stroke-linecap="round" stroke-linejoin="round"/>
<polyline points="527.9,291.1 529.5,290.5 532.5,289.3 535.5,288.1 538.5,286.9 541.5,285.6 544.5,284.4 547.5,283.2 550.5,282.0 553.5,280.8 556.5,279.6 559.5,278.3 562.5,277.1 565.5,275.9 568.5,274.6" fill="none" stroke="#43e9a9" stroke-width="1.7" stroke-linecap="round" stroke-linejoin="round"/>
<polyline points="569.4,387.5 568.7,387.5 568.1,387.3 567.5,387.2 566.8,387.0 566.2,386.8 565.6,386.5 564.9,386.2 564.3,386.0 563.7,385.7 563.0,385.4 562.4,385.0 561.7,384.7 561.1,384.4 560.4,384.0 559.8,383.6 559.1,383.3 558.5,382.9 557.8,382.5 557.2,382.1 556.5,381.7 555.9,381.3 555.2,380.9 554.5,380.5 553.9,380.1 553.2,379.6 552.5,379.2 551.9,378.7 551.2,378.3 550.5,377.8 549.9,377.4 549.2,376.9 548.5,376.4 547.8,376.0 547.2,375.5 546.5,375.0 545.8,374.5 545.1,374.0 544.4,373.5 543.7,373.0 543.0,372.5 542.3,372.0 541.6,371.5 540.9,371.0 540.3,370.4 539.6,369.9 538.8,369.4 538.1,368.8 537.4,368.3 536.7,367.7 536.0,367.2 535.3,366.6 534.6,366.1 533.9,365.6" fill="none" stroke="#1f9a68" stroke-width="1.7" stroke-linecap="round" stroke-linejoin="round"/>
<polyline points="533.9,365.6 533.9,365.5 533.2,365.0 532.4,364.4 531.7,363.8 531.0,363.2 530.3,362.7 529.5,362.1 528.8,361.5 528.1,360.9 527.3,360.3 526.6,359.7 525.9,359.1 525.1,358.5 524.4,357.9 523.6,357.3 522.9,356.7 522.2,356.0 521.4,355.4 520.6,354.8 519.9,354.2 519.1,353.5 518.4,352.9 517.6,352.2 516.9,351.6 516.1,350.9 515.3,350.3 514.6,349.6 513.8,349.0 513.0,348.3 512.2,347.6 511.4,347.0 510.7,346.3 509.9,345.6 509.1,344.9 508.3,344.3 507.5,343.6 506.7,342.9 505.9,342.2 505.1,341.5 504.3,340.8 503.5,340.1 502.7,339.4 501.9,338.6 501.1,337.9 500.3,337.2 499.5,336.5 498.7,335.8 498.1,335.2" fill="none" stroke="#22c03a" stroke-width="1.7" stroke-linecap="round" stroke-linejoin="round"/>
<polyline points="498.1,335.2 497.8,335.0 497.0,334.3 496.2,333.6 495.4,332.8 494.5,332.1 493.7,331.3 492.9,330.6 492.0,329.8 491.2,329.1 490.4,328.3 489.5,327.5 488.7,326.8 487.8,326.0 487.0,325.2 486.1,324.4 485.3,323.6 484.4,322.9 483.5,322.1 482.7,321.3 481.8,320.5 480.9,319.7 480.0,318.9 479.2,318.1 478.3,317.2 477.4,316.4 476.5,315.6 475.6,314.8 474.7,314.0 473.9,313.1 473.0,312.3 472.1,311.4 471.2,310.6 470.3,309.8 469.3,308.9 468.4,308.1 467.5,307.2 466.6,306.3 465.7,305.5 464.8,304.6 463.8,303.7 462.9,302.9 462.0,302.0 461.0,301.1 460.1,300.2 459.2,299.3 458.6,298.7" fill="none" stroke="#3f52cc" stroke-width="1.7" stroke-linecap="round" stroke-linejoin="round"/>
<polyline points="458.6,298.7 458.2,298.4 457.3,297.5 456.3,296.6 455.4,295.7 454.4,294.8 453.5,293.9 452.5,292.9 451.5,292.0 450.6,291.1 449.6,290.2 448.6,289.2 447.6,288.3 446.7,287.3 445.7,286.4 444.7,285.4 443.7,284.5" fill="none" stroke="#43e9a9" stroke-width="1.7" stroke-linecap="round" stroke-linejoin="round"/>
<polyline points="114.1,465.2 116.6,464.0 119.0,462.8 121.5,461.6 123.9,460.4 126.4,459.2 128.9,458.0 131.4,456.9 133.9,455.7 136.3,454.5 138.8,453.3 141.3,452.1 143.8,450.9 146.3,449.7 148.8,448.5 151.3,447.3 153.8,446.1 156.4,444.9 158.9,443.6 161.4,442.4 163.9,441.2 166.5,440.0 169.0,438.8 171.5,437.6 174.1,436.3 176.6,435.1 179.1,433.9 181.7,432.7 184.2,431.4 186.8,430.2 189.4,429.0 191.9,427.8 194.5,426.5 197.1,425.3 199.6,424.0 202.2,422.8 204.8,421.6 207.4,420.3 210.0,419.1 212.6,417.8 215.2,416.6 217.8,415.3 219.8,414.3" fill="none" stroke="#1f9a68" stroke-width="1.7" stroke-linecap="round" stroke-linejoin="round"/>
<polyline points="219.8,414.3 220.4,414.1 223.0,412.8 225.6,411.6 228.2,410.3 230.8,409.1 233.5,407.8 236.1,406.5 238.7,405.3 241.3,404.0 244.0,402.7 246.6,401.5 249.3,400.2 251.9,398.9 254.6,397.6 257.2,396.4 259.9,395.1 262.6,393.8 265.2,392.5 267.9,391.2 270.6,390.0 273.3,388.7 275.9,387.4 278.6,386.1 281.3,384.8 284.0,383.5 286.7,382.2 289.4,380.9 292.1,379.6 294.8,378.3 297.6,377.0 300.3,375.7 303.0,374.4 305.7,373.1 308.5,371.7 311.2,370.4 313.9,369.1 316.7,367.8 319.4,366.5 322.2,365.2 324.9,363.8 327.7,362.5 330.5,361.2 333.2,359.8 336.0,358.5 336.6,358.2" fill="none" stroke="#22c03a" stroke-width="1.7" stroke-linecap="round" stroke-linejoin="round"/>
<polyline points="336.6,358.2 338.8,357.2 341.6,355.8 344.3,354.5 347.1,353.2 349.9,351.8 352.7,350.5 355.5,349.1 358.3,347.8 361.1,346.4 363.9,345.1 366.8,343.7 369.6,342.4 372.4,341.0 375.2,339.6 378.1,338.3 380.9,336.9 383.7,335.6 386.6,334.2 389.4,332.8 392.3,331.4 395.2,330.1 398.0,328.7 400.9,327.3 403.8,325.9 406.6,324.6 409.5,323.2 412.4,321.8 415.3,320.4 418.2,319.0 421.1,317.6 424.0,316.2 426.9,314.8 429.8,313.4 432.7,312.0 435.6,310.6 438.6,309.2 441.5,307.8 444.4,306.4 447.4,305.0 450.3,303.6 453.3,302.1 456.2,300.7 459.2,299.3 461.0,298.4" fill="none" stroke="#3f52cc" stroke-width="1.7" stroke-linecap="round" stroke-linejoin="round"/>
<polyline points="461.0,298.4 462.1,297.9 465.1,296.5 468.1,295.0 471.0,293.6 474.0,292.2 477.0,290.7 480.0,289.3 483.0,287.9 486.0,286.4 489.0,285.0 492.0,283.5 495.0,282.1 498.0,280.6 501.0,279.2 504.1,277.7 507.1,276.3 510.1,274.8 513.2,273.4 516.2,271.9 519.2,270.4 522.3,269.0 525.4,267.5 528.4,266.0 531.5,264.5 534.6,263.1 537.6,261.6 540.7,260.1 543.8,258.6 546.9,257.1 550.0,255.7 553.1,254.2 556.2,252.7" fill="none" stroke="#43e9a9" stroke-width="1.7" stroke-linecap="round" stroke-linejoin="round"/>
<polyline points="608.6,391.8 608.0,391.7 607.4,391.5 606.8,391.2 606.3,390.9 605.7,390.6 605.1,390.2 604.5,389.8 603.9,389.4 603.3,389.0 602.7,388.6 602.1,388.1 601.5,387.6 601.0,387.2 600.4,386.7 599.8,386.2 599.2,385.7 598.6,385.1 598.0,384.6 597.4,384.1 596.8,383.5 596.2,383.0 595.5,382.4 594.9,381.9 594.3,381.3 593.7,380.7 593.1,380.1 592.5,379.5 591.9,378.9 591.3,378.3 590.6,377.7 590.0,377.1 589.4,376.5 588.8,375.8 588.1,375.2 587.5,374.5 586.9,373.9 586.3,373.2 585.6,372.6 585.0,371.9 584.4,371.2 583.7,370.6 583.1,369.9 582.4,369.2 581.8,368.5 581.2,367.8 580.5,367.1 579.9,366.4 579.5,366.0" fill="none" stroke="#1f9a68" stroke-width="1.7" stroke-linecap="round" stroke-linejoin="round"/>
<polyline points="579.5,366.0 579.2,365.7 578.6,365.0 577.9,364.3 577.3,363.5 576.6,362.8 575.9,362.1 575.3,361.3 574.6,360.6 574.0,359.8 573.3,359.1 572.6,358.3 572.0,357.6 571.3,356.8 570.6,356.0 569.9,355.2 569.3,354.5 568.6,353.7 567.9,352.9 567.2,352.1 566.5,351.3 565.9,350.5 565.2,349.7 564.5,348.9 563.8,348.0 563.1,347.2 562.4,346.4 561.7,345.6 561.0,344.7 560.3,343.9 559.6,343.0 558.9,342.2 558.2,341.3 557.5,340.5 556.7,339.6 556.0,338.8 555.3,337.9 554.6,337.0 553.9,336.1 553.1,335.2 552.4,334.4 551.7,333.5 551.0,332.6 550.5,332.0" fill="none" stroke="#22c03a" stroke-width="1.7" stroke-linecap="round" stroke-linejoin="round"/>
<polyline points="550.5,332.0 550.2,331.7 549.5,330.8 548.8,329.9 548.0,328.9 547.3,328.0 546.5,327.1 545.8,326.2 545.0,325.2 544.3,324.3 543.5,323.4 542.8,322.4 542.0,321.5 541.3,320.5 540.5,319.6 539.7,318.6 539.0,317.6 538.2,316.6 537.4,315.7 536.7,314.7 535.9,313.7 535.1,312.7 534.3,311.7 533.5,310.7 532.8,309.7 532.0,308.7 531.2,307.7 530.4,306.7 529.6,305.7 528.8,304.6 528.0,303.6 527.2,302.6 526.4,301.5 525.6,300.5 524.7,299.4 523.9,298.4 523.1,297.3 522.3,296.2 521.5,295.2 520.7,294.1 519.8,293.0 519.0,292.0" fill="none" stroke="#3f52cc" stroke-width="1.7" stroke-linecap="round" stroke-linejoin="round"/>
<polyline points="519.0,292.0 519.0,291.9 518.2,290.9 517.3,289.8 516.5,288.7 515.6,287.6 514.8,286.5 514.0,285.3 513.1,284.2 512.3,283.1 511.4,282.0 510.5,280.9 509.7,279.7 508.8,278.6 507.9,277.4 507.1,276.3 506.2,275.1 505.3,274.0 504.5,272.8 503.6,271.6 502.7,270.4 501.8,269.3 500.9,268.1 500.0,266.9 499.1,265.7 498.2,264.5 497.3,263.3 496.4,262.1 495.5,260.8 494.6,259.6 493.7,258.4 492.8,257.2" fill="none" stroke="#43e9a9" stroke-width="1.7" stroke-linecap="round" stroke-linejoin="round"/>
<polyline points="624.5,367.2 623.0,367.1 620.7,367.1 618.4,367.0 616.2,366.9 614.0,366.9 611.8,366.8 609.7,366.7 607.5,366.7 605.4,366.6 603.3,366.5 601.2,366.5 599.1,366.4 597.1,366.4 595.0,366.3 593.0,366.3 591.0,366.2 589.0,366.2 587.1,366.1 585.1,366.1 583.2,366.1 581.3,366.0 579.4,366.0 577.5,366.0 575.6,365.9 573.8,365.9 571.9,365.9 570.1,365.8 568.3,365.8 566.5,365.8 564.7,365.8 562.9,365.7 561.2,365.7 559.4,365.7 557.7,365.7 556.0,365.7 554.3,365.6 552.6,365.6 550.9,365.6 549.3,365.6 547.6,365.6 546.0,365.6 544.4,365.6 542.8,365.6 541.2,365.6 539.6,365.6 538.0,365.6 536.4,365.6 534.9,365.6 533.3,365.6 531.8,365.6 530.3,365.6 528.8,365.6 527.3,365.6 525.8,365.6 524.3,365.6 522.8,365.6 521.4,365.6 519.9,365.6 518.5,365.7 517.1,365.7 515.6,365.7 514.2,365.7 512.8,365.7 511.4,365.7 510.1,365.8 508.7,365.8 507.3,365.8 506.0,365.8 504.6,365.8 503.3,365.9 501.9,365.9 500.6,365.9 499.3,365.9 498.0,366.0 496.7,366.0 495.4,366.0 494.1,366.1 492.9,366.1 491.6,366.1 490.3,366.2 489.1,366.2 487.9,366.2 486.6,366.3 485.4,366.3 484.2,366.3 483.0,366.4 481.8,366.4 480.6,366.5 479.4,366.5 478.2,366.5 477.0,366.6 475.8,366.6 474.7,366.7 473.5,366.7 472.4,366.8 471.2,366.8 470.1,366.8 469.0,366.9 467.8,366.9 466.7,367.0 465.6,367.0 464.5,367.1 463.4,367.1 462.3,367.2 461.2,367.2 460.1,367.3 459.0,367.3 458.0,367.4 456.9,367.5 455.8,367.5 454.8,367.6 453.7,367.6 452.7,367.7 451.7,367.7 450.6,367.8 449.6,367.9 448.6,367.9 447.6,368.0 446.5,368.0 445.5,368.1 444.5,368.2 443.5,368.2 442.5,368.3 441.6,368.4 440.6,368.4 439.6,368.5 438.6,368.5 437.7,368.6 436.7,368.7 435.7,368.7 434.8,368.8 433.8,368.9 432.9,369.0 431.9,369.0 431.0,369.1 430.1,369.2 429.1,369.2 428.2,369.3 427.3,369.4 426.4,369.4 425.5,369.5 424.6,369.6 423.7,369.7 422.8,369.7 421.9,369.8 421.0,369.9 420.1,370.0 419.2,370.0 418.3,370.1 417.4,370.2 416.6,370.3 415.7,370.4 414.8,370.4 414.0,370.5 413.1,370.6 412.3,370.7 411.4,370.8 410.6,370.8 409.7,370.9 408.9,371.0 408.0,371.1 407.2,371.2 406.4,371.2 405.6,371.3 404.7,371.4 403.9,371.5 403.1,371.6 402.3,371.7 401.5,371.7 400.7,371.8 399.9,371.9 399.1,372.0 398.3,372.1 397.5,372.2 396.7,372.3 395.9,372.4 395.1,372.4 394.3,372.5 393.6,372.6 392.8,372.7 392.0,372.8 391.2,372.9 390.5,373.0 389.7,373.1 388.9,373.2 388.2,373.3 387.4,373.4 386.7,373.4 385.9,373.5 385.2,373.6 384.4,373.7 383.7,373.8 382.9,373.9 382.2,374.0 381.5,374.1 380.7,374.2 380.0,374.3 379.3,374.4 378.6,374.5 377.8,374.6 377.1,374.7 376.4,374.8 375.7,374.9 375.0,375.0 374.3,375.1 373.5,375.2 372.8,375.3 372.1,375.4 371.4,375.5 370.7,375.6 370.0,375.7 369.4,375.8 368.7,375.9 368.0,376.0 367.3,376.1 366.6,376.2 365.9,376.3 365.2,376.4 364.6,376.5 363.9,376.6 363.2,376.7 362.5,376.8 361.9,376.9 361.2,377.0 360.5,377.1 359.9,377.2 359.2,377.3 358.5,377.4 357.9,377.5 357.2,377.6 356.6,377.7 355.9,377.8 355.3,378.0 354.6,378.1 354.0,378.2 353.3,378.3 352.7,378.4 352.0,378.5 351.4,378.6 350.8,378.7 350.1,378.8 349.5,378.9 348.9,379.0 348.2,379.1 347.6,379.3 347.0,379.4 346.4,379.5 345.7,379.6 345.1,379.7 344.5,379.8 343.9,379.9 343.3,380.0 342.6,380.1 342.0,380.3 341.4,380.4 340.8,380.5 340.2,380.6 339.6,380.7 339.0,380.8 338.4,380.9 337.8,381.1 337.2,381.2 336.6,381.3 336.0,381.4 335.4,381.5 334.8,381.6 334.2,381.7 333.6,381.9 333.0,382.0 332.4,382.1 331.8,382.2 331.3,382.3 330.7,382.4 330.1,382.6 329.5,382.7 328.9,382.8 328.3,382.9 327.8,383.0 327.2,383.1 326.6,383.3 326.0,383.4 325.5,383.5 324.9,383.6 324.3,383.7 323.8,383.9 323.2,384.0 322.6,384.1 322.1,384.2 321.5,384.3 320.9,384.5 320.4,384.6 319.8,384.7 319.3,384.8 318.7,384.9 318.2,385.1 317.6,385.2 317.0,385.3 316.5,385.4 315.9,385.6 315.4,385.7 314.8,385.8 314.3,385.9 313.8,386.0 313.2,386.2 312.7,386.3 312.1,386.4 311.6,386.5 311.0,386.7 310.5,386.8 310.0,386.9 309.4,387.0 308.9,387.2 308.4,387.3 307.8,387.4 307.3,387.5 306.8,387.7 306.2,387.8 305.7,387.9 305.2,388.1 304.6,388.2 304.1,388.3 303.6,388.4 303.1,388.6 302.5,388.7 302.0,388.8 301.5,388.9 301.0,389.1 300.5,389.2 299.9,389.3 299.4,389.5 298.9,389.6 298.4,389.7 297.9,389.8 297.4,390.0 296.9,390.1 296.3,390.2 295.8,390.4 295.3,390.5 294.8,390.6 294.3,390.8 293.8,390.9 293.3,391.0 292.8,391.1 292.3,391.3 291.8,391.4 291.3,391.5 290.8,391.7 290.3,391.8 289.8,391.9 289.3,392.1 288.8,392.2 288.3,392.3 287.8,392.5 287.3,392.6 286.8,392.7 286.3,392.9 285.8,393.0 285.3,393.1 284.8,393.3 284.3,393.4 283.8,393.5 283.4,393.7 282.9,393.8 282.4,393.9 281.9,394.1 281.4,394.2 280.9,394.3 280.4,394.5 279.9,394.6 279.5,394.8 279.0,394.9 278.5,395.0 278.0,395.2 277.5,395.3 277.1,395.4 276.6,395.6 276.1,395.7 275.6,395.8 275.1,396.0 274.7,396.1 274.2,396.3 273.7,396.4 273.2,396.5 272.8,396.7 272.3,396.8 271.8,396.9 271.4,397.1 270.9,397.2 270.4,397.4 269.9,397.5 269.5,397.6 269.0,397.8 268.5,397.9 268.1,398.1 267.6,398.2 267.1,398.3 266.7,398.5 266.2,398.6 265.7,398.8 265.3,398.9 264.8,399.0 264.4,399.2 263.9,399.3 263.4,399.5 263.0,399.6 262.5,399.8 262.1,399.9 261.6,400.0 261.1,400.2 260.7,400.3 260.2,400.5 259.8,400.6 259.3,400.7 258.9,400.9 258.4,401.0 258.0,401.2 257.5,401.3 257.1,401.5 256.6,401.6 256.1,401.7 255.7,401.9 255.2,402.0 254.8,402.2 254.3,402.3 253.9,402.5 253.4,402.6 253.0,402.8 252.6,402.9 252.1,403.0 251.7,403.2 251.2,403.3 250.8,403.5 250.3,403.6 249.9,403.8 249.4,403.9 249.0,404.1 248.6,404.2 248.1,404.4 247.7,404.5 247.2,404.7 246.8,404.8 246.3,404.9 245.9,405.1 245.5,405.2 245.0,405.4 244.6,405.5 244.1,405.7 243.7,405.8 243.3,406.0 242.8,406.1 242.4,406.3 242.0,406.4 241.5,406.6 241.1,406.7 240.7,406.9 240.2,407.0 239.8,407.2 239.4,407.3 238.9,407.5 238.5,407.6 238.1,407.8 237.6,407.9 237.2,408.1 236.8,408.2 236.3,408.4 235.9,408.5 235.5,408.7 235.0,408.8 234.6,409.0 234.2,409.1 233.8,409.3 233.3,409.4 232.9,409.6 232.5,409.7 232.1,409.9 231.6,410.0 231.2,410.2 230.8,410.3 230.4,410.5 229.9,410.6 229.5,410.8 229.1,410.9 228.7,411.1 228.2,411.3 227.8,411.4 227.4,411.6 227.0,411.7 226.5,411.9 226.1,412.0 225.7,412.2 225.3,412.3 224.9,412.5 224.4,412.6 224.0,412.8 223.6,412.9 223.2,413.1 222.8,413.3 222.3,413.4 221.9,413.6 221.5,413.7 221.1,413.9 220.7,414.0 220.3,414.2 219.8,414.3 219.4,414.5 219.0,414.6 218.6,414.8 218.2,415.0 217.8,415.1 217.3,415.3 216.9,415.4 216.5,415.6 216.1,415.7 215.7,415.9 215.3,416.1 214.9,416.2 214.5,416.4 214.0,416.5 213.6,416.7 213.2,416.8 212.8,417.0 212.4,417.2 212.0,417.3 211.6,417.5 211.2,417.6 210.8,417.8 210.3,418.0 209.9,418.1 209.5,418.3 209.1,418.4 208.7,418.6 208.3,418.7 207.9,418.9 207.5,419.1 207.1,419.2 206.7,419.4 206.3,419.5 205.9,419.7 205.4,419.9 205.0,420.0 204.6,420.2 204.2,420.4 203.8,420.5 203.4,420.7 203.0,420.8 202.6,421.0 202.2,421.2 201.8,421.3 201.4,421.5 201.0,421.6 200.6,421.8 200.2,422.0 199.8,422.1 199.4,422.3 199.0,422.5 198.6,422.6 198.2,422.8 197.8,422.9 197.4,423.1 197.0,423.3 196.6,423.4 196.2,423.6 195.8,423.8 195.4,423.9 195.0,424.1 194.6,424.2 194.2,424.4 193.8,424.6 193.4,424.7 193.0,424.9 192.6,425.1 192.2,425.2 191.8,425.4 191.4,425.6 191.0,425.7 190.6,425.9 190.2,426.1 189.8,426.2 189.4,426.4 189.0,426.6 188.6,426.7 188.2,426.9 187.8,427.0 187.4,427.2" fill="none" stroke="#21b744" stroke-width="1.5" stroke-linecap="round" stroke-linejoin="round"/>
<polyline points="601.0,330.2 600.3,330.3 599.0,330.3 597.7,330.3 596.3,330.3 595.0,330.4 593.7,330.4 592.4,330.5 591.0,330.5 589.7,330.5 588.4,330.6 587.2,330.6 585.9,330.6 584.6,330.7 583.3,330.7 582.0,330.8 580.8,330.8 579.5,330.8 578.3,330.9 577.0,330.9 575.8,331.0 574.5,331.0 573.3,331.0 572.1,331.1 570.9,331.1 569.6,331.2 568.4,331.2 567.2,331.3 566.0,331.3 564.8,331.4 563.6,331.4 562.4,331.5 561.3,331.5 560.1,331.6 558.9,331.6 557.7,331.7 556.6,331.7 555.4,331.8 554.2,331.8 553.1,331.9 552.0,331.9 550.8,332.0 549.7,332.0 548.5,332.1 547.4,332.1 546.3,332.2 545.2,332.2 544.0,332.3 542.9,332.3 541.8,332.4 540.7,332.5 539.6,332.5 538.5,332.6 537.4,332.6 536.4,332.7 535.3,332.8 534.2,332.8 533.1,332.9 532.0,332.9 531.0,333.0 529.9,333.1 528.9,333.1 527.8,333.2 526.7,333.2 525.7,333.3 524.7,333.4 523.6,333.4 522.6,333.5 521.5,333.6 520.5,333.6 519.5,333.7 518.5,333.8 517.4,333.8 516.4,333.9 515.4,334.0 514.4,334.0 513.4,334.1 512.4,334.2 511.4,334.2 510.4,334.3 509.4,334.4 508.4,334.4 507.4,334.5 506.5,334.6 505.5,334.7 504.5,334.7 503.5,334.8 502.6,334.9 501.6,335.0 500.6,335.0 499.7,335.1 498.7,335.2 497.8,335.2 496.8,335.3 495.9,335.4 494.9,335.5 494.0,335.5 493.0,335.6 492.1,335.7 491.2,335.8 490.2,335.9 489.3,335.9 488.4,336.0 487.5,336.1 486.6,336.2 485.6,336.2 484.7,336.3 483.8,336.4 482.9,336.5 482.0,336.6 481.1,336.6 480.2,336.7 479.3,336.8 478.4,336.9 477.5,337.0 476.6,337.0 475.8,337.1 474.9,337.2 474.0,337.3 473.1,337.4 472.2,337.5 471.4,337.5 470.5,337.6 469.6,337.7 468.8,337.8 467.9,337.9 467.0,338.0 466.2,338.1 465.3,338.1 464.5,338.2 463.6,338.3 462.8,338.4 461.9,338.5 461.1,338.6 460.2,338.7 459.4,338.8 458.6,338.8 457.7,338.9 456.9,339.0 456.1,339.1 455.2,339.2 454.4,339.3 453.6,339.4 452.8,339.5 452.0,339.6 451.1,339.7 450.3,339.7 449.5,339.8 448.7,339.9 447.9,340.0 447.1,340.1 446.3,340.2 445.5,340.3 444.7,340.4 443.9,340.5 443.1,340.6 442.3,340.7 441.5,340.8 440.7,340.9 439.9,341.0 439.1,341.1 438.4,341.1 437.6,341.2 436.8,341.3 436.0,341.4 435.2,341.5 434.5,341.6 433.7,341.7 432.9,341.8 432.2,341.9 431.4,342.0 430.6,342.1 429.9,342.2 429.1,342.3 428.4,342.4 427.6,342.5 426.8,342.6 426.1,342.7 425.3,342.8 424.6,342.9 423.8,343.0 423.1,343.1 422.3,343.2 421.6,343.3 420.9,343.4 420.1,343.5 419.4,343.6 418.6,343.7 417.9,343.8 417.2,343.9 416.4,344.0 415.7,344.1 415.0,344.2 414.3,344.3 413.5,344.4 412.8,344.5 412.1,344.6 411.4,344.7 410.7,344.9 409.9,345.0 409.2,345.1 408.5,345.2 407.8,345.3 407.1,345.4 406.4,345.5 405.7,345.6 405.0,345.7 404.3,345.8 403.6,345.9 402.9,346.0 402.2,346.1 401.5,346.2 400.8,346.3 400.1,346.4 399.4,346.6 398.7,346.7 398.0,346.8 397.3,346.9 396.6,347.0 395.9,347.1 395.2,347.2 394.5,347.3 393.9,347.4 393.2,347.5 392.5,347.6 391.8,347.8 391.1,347.9 390.5,348.0 389.8,348.1 389.1,348.2 388.4,348.3 387.8,348.4 387.1,348.5 386.4,348.6 385.8,348.8 385.1,348.9 384.4,349.0 383.8,349.1 383.1,349.2 382.5,349.3 381.8,349.4 381.1,349.6 380.5,349.7 379.8,349.8 379.2,349.9 378.5,350.0 377.9,350.1 377.2,350.2 376.6,350.4 375.9,350.5 375.3,350.6 374.6,350.7 374.0,350.8 373.3,350.9 372.7,351.0 372.0,351.2 371.4,351.3 370.8,351.4 370.1,351.5 369.5,351.6 368.8,351.7 368.2,351.9 367.6,352.0 366.9,352.1 366.3,352.2 365.7,352.3 365.1,352.5 364.4,352.6 363.8,352.7 363.2,352.8 362.5,352.9 361.9,353.1 361.3,353.2 360.7,353.3 360.1,353.4 359.4,353.5 358.8,353.7 358.2,353.8 357.6,353.9 357.0,354.0 356.3,354.1 355.7,354.3 355.1,354.4 354.5,354.5 353.9,354.6 353.3,354.7 352.7,354.9 352.1,355.0 351.5,355.1 350.9,355.2 350.2,355.4 349.6,355.5 349.0,355.6 348.4,355.7 347.8,355.9 347.2,356.0 346.6,356.1 346.0,356.2 345.4,356.3 344.8,356.5 344.2,356.6 343.6,356.7 343.0,356.8 342.5,357.0 341.9,357.1 341.3,357.2 340.7,357.4 340.1,357.5 339.5,357.6 338.9,357.7 338.3,357.9 337.7,358.0 337.1,358.1 336.6,358.2 336.0,358.4 335.4,358.5 334.8,358.6 334.2,358.7 333.6,358.9 333.1,359.0 332.5,359.1 331.9,359.3 331.3,359.4 330.8,359.5 330.2,359.6 329.6,359.8 329.0,359.9 328.4,360.0 327.9,360.2 327.3,360.3 326.7,360.4 326.2,360.6 325.6,360.7 325.0,360.8 324.5,360.9 323.9,361.1 323.3,361.2 322.7,361.3 322.2,361.5 321.6,361.6 321.1,361.7 320.5,361.9 319.9,362.0 319.4,362.1 318.8,362.3 318.2,362.4 317.7,362.5 317.1,362.7 316.6,362.8 316.0,362.9 315.4,363.1 314.9,363.2 314.3,363.3 313.8,363.5 313.2,363.6 312.7,363.7 312.1,363.9 311.6,364.0 311.0,364.1 310.5,364.3 309.9,364.4 309.4,364.5 308.8,364.7 308.3,364.8 307.7,364.9 307.2,365.1 306.6,365.2 306.1,365.3 305.5,365.5 305.0,365.6 304.4,365.7 303.9,365.9 303.3,366.0 302.8,366.2 302.3,366.3 301.7,366.4 301.2,366.6 300.6,366.7 300.1,366.8 299.6,367.0 299.0,367.1 298.5,367.3 297.9,367.4 297.4,367.5 296.9,367.7 296.3,367.8 295.8,367.9 295.3,368.1 294.7,368.2 294.2,368.4 293.7,368.5 293.1,368.6 292.6,368.8 292.1,368.9" fill="none" stroke="#386aab" stroke-width="1.5" stroke-linecap="round" stroke-linejoin="round"/>
<polyline points="575.8,287.4 575.5,287.5 574.5,287.5 573.4,287.6 572.4,287.7 571.4,287.7 570.4,287.8 569.3,287.9 568.3,287.9 567.3,288.0 566.3,288.1 565.3,288.2 564.3,288.2 563.3,288.3 562.3,288.4 561.3,288.4 560.3,288.5 559.3,288.6 558.3,288.7 557.3,288.7 556.3,288.8 555.4,288.9 554.4,289.0 553.4,289.0 552.4,289.1 551.5,289.2 550.5,289.3 549.5,289.3 548.6,289.4 547.6,289.5 546.6,289.6 545.7,289.6 544.7,289.7 543.8,289.8 542.8,289.9 541.9,289.9 540.9,290.0 540.0,290.1 539.1,290.2 538.1,290.3 537.2,290.3 536.2,290.4 535.3,290.5 534.4,290.6 533.5,290.7 532.5,290.7 531.6,290.8 530.7,290.9 529.8,291.0 528.9,291.1 527.9,291.1 527.0,291.2 526.1,291.3 525.2,291.4 524.3,291.5 523.4,291.6 522.5,291.6 521.6,291.7 520.7,291.8 519.8,291.9 518.9,292.0 518.0,292.1 517.2,292.1 516.3,292.2 515.4,292.3 514.5,292.4 513.6,292.5 512.7,292.6 511.9,292.7 511.0,292.7 510.1,292.8 509.2,292.9 508.4,293.0 507.5,293.1 506.6,293.2 505.8,293.3 504.9,293.4 504.1,293.4 503.2,293.5 502.4,293.6 501.5,293.7 500.6,293.8 499.8,293.9 499.0,294.0 498.1,294.1 497.3,294.2 496.4,294.2 495.6,294.3 494.7,294.4 493.9,294.5 493.1,294.6 492.2,294.7 491.4,294.8 490.6,294.9 489.7,295.0 488.9,295.1 488.1,295.2 487.3,295.3 486.4,295.3 485.6,295.4 484.8,295.5 484.0,295.6 483.2,295.7 482.4,295.8 481.5,295.9 480.7,296.0 479.9,296.1 479.1,296.2 478.3,296.3 477.5,296.4 476.7,296.5 475.9,296.6 475.1,296.7 474.3,296.8 473.5,296.9 472.7,297.0 471.9,297.1 471.1,297.2 470.4,297.2 469.6,297.3 468.8,297.4 468.0,297.5 467.2,297.6 466.4,297.7 465.6,297.8 464.9,297.9 464.1,298.0 463.3,298.1 462.5,298.2 461.8,298.3 461.0,298.4 460.2,298.5 459.4,298.6 458.7,298.7 457.9,298.8 457.1,298.9 456.4,299.0 455.6,299.1 454.9,299.2 454.1,299.3 453.3,299.4 452.6,299.5 451.8,299.6 451.1,299.7 450.3,299.8 449.6,299.9 448.8,300.1 448.1,300.2 447.3,300.3 446.6,300.4 445.8,300.5 445.1,300.6 444.3,300.7 443.6,300.8 442.9,300.9 442.1,301.0 441.4,301.1 440.6,301.2 439.9,301.3 439.2,301.4 438.4,301.5 437.7,301.6 437.0,301.7 436.3,301.8 435.5,301.9 434.8,302.0 434.1,302.1 433.4,302.3 432.6,302.4 431.9,302.5 431.2,302.6 430.5,302.7 429.7,302.8 429.0,302.9 428.3,303.0 427.6,303.1 426.9,303.2 426.2,303.3 425.5,303.4 424.7,303.5 424.0,303.7 423.3,303.8 422.6,303.9 421.9,304.0 421.2,304.1 420.5,304.2 419.8,304.3 419.1,304.4 418.4,304.5 417.7,304.6 417.0,304.8 416.3,304.9 415.6,305.0 414.9,305.1 414.2,305.2 413.5,305.3 412.8,305.4 412.1,305.5 411.5,305.7 410.8,305.8 410.1,305.9 409.4,306.0 408.7,306.1 408.0,306.2 407.3,306.3 406.6,306.4 406.0,306.6 405.3,306.7 404.6,306.8 403.9,306.9 403.2,307.0" fill="none" stroke="#42c7b0" stroke-width="1.5" stroke-linecap="round" stroke-linejoin="round"/>
<polyline points="548.3,238.4 547.4,238.5 546.5,238.6 545.6,238.7 544.8,238.8 543.9,238.9 543.0,238.9 542.1,239.0 541.2,239.1 540.4,239.2 539.5,239.3 538.6,239.4 537.8,239.5 536.9,239.5 536.0,239.6 535.2,239.7 534.3,239.8 533.4,239.9 532.6,240.0 531.7,240.1 530.9,240.2 530.0,240.2 529.2,240.3 528.3,240.4 527.4,240.5 526.6,240.6 525.8,240.7 524.9,240.8 524.1,240.9 523.2,241.0 522.4,241.1 521.5,241.1" fill="none" stroke="#43e9a9" stroke-width="1.5" stroke-linecap="round" stroke-linejoin="round"/>
<text transform="translate(158.62,38.10) scale(1.0488,1)" font-size="41.54" font-family="'Liberation Serif','DejaVu Serif',serif" font-style="italic">N</text>
<text transform="translate(187.81,50.21) scale(0.9273,1)" font-size="29.77" font-family="'Liberation Serif','DejaVu Serif',serif" font-style="italic">O</text>
<text transform="translate(218.64,41.69) scale(0.6178,1)" font-size="57.35" font-family="'Liberation Serif','DejaVu Serif',serif">(</text>
<text transform="translate(234.59,38.10) scale(1.0051,1)" font-size="41.54" font-family="'Liberation Serif','DejaVu Serif',serif">QTAM</text>
<text transform="translate(361.53,41.69) scale(0.6857,1)" font-size="57.35" font-family="'Liberation Serif','DejaVu Serif',serif">)</text>
<text transform="translate(-1.60,223.20) scale(1.0237,1)" font-size="29.00" font-family="'Liberation Serif','DejaVu Serif',serif">2</text>
<text transform="translate(17.36,227.11) scale(1.0000,1)" font-size="33.85" font-family="'Liberation Serif','DejaVu Serif',serif">·</text>
<text transform="translate(31.95,223.32) scale(1.0005,1)" font-size="29.05" font-family="'Liberation Serif','DejaVu Serif',serif">10</text>
<text transform="translate(60.75,212.49) scale(0.9219,1)" font-size="21.58" font-family="'Liberation Serif','DejaVu Serif',serif">6</text>
<text transform="translate(39.51,360.51) scale(0.9719,1)" font-size="29.19" font-family="'Liberation Serif','DejaVu Serif',serif">10</text>
<text transform="translate(67.73,349.59) scale(0.9635,1)" font-size="21.13" font-family="'Liberation Serif','DejaVu Serif',serif">6</text>
<text transform="translate(70.90,506.50) scale(1.0657,1)" font-size="27.72" font-family="'Liberation Serif','DejaVu Serif',serif">1</text>
<text transform="translate(494.25,577.03) scale(1.0479,1)" font-size="27.71" font-family="'Liberation Serif','DejaVu Serif',serif">100</text>
<text transform="translate(544.65,561.82) scale(1.0042,1)" font-size="28.30" font-family="'Liberation Serif','DejaVu Serif',serif">500</text>
<text transform="translate(662.90,419.60) scale(1.0001,1)" font-size="27.27" font-family="'Liberation Serif','DejaVu Serif',serif">1</text>
<text transform="translate(606.68,520.98) scale(0.6181,1)" font-size="64.97" font-family="'Liberation Serif','DejaVu Serif',serif">|</text>
<text transform="translate(658.08,520.98) scale(0.6181,1)" font-size="64.97" font-family="'Liberation Serif','DejaVu Serif',serif">|</text>
<text transform="translate(616.78,518.17) scale(1.1471,1)" font-size="41.68" font-family="'DejaVu Math TeX Gyre','Liberation Serif',serif">𝒫</text>
<text transform="translate(272.56,596.00) scale(1.0564,1)" font-size="45.97" font-family="'Liberation Serif','DejaVu Serif',serif" font-style="italic">N</text>
<text transform="translate(305.29,609.40) scale(1.1200,1)" font-size="31.26" font-family="'Liberation Serif','DejaVu Serif',serif" font-style="italic">i</text>
<text transform="translate(314.54,609.07) scale(1.0411,1)" font-size="34.05" font-family="'Liberation Serif','DejaVu Serif',serif" font-style="italic">t</text>
<text transform="translate(283.28,665.02) scale(1.1651,1)" font-size="37.50" font-family="'Liberation Serif','DejaVu Serif',serif" font-weight="bold">(a)</text>
</g>
<g id="pb">
<line x1="792.8" y1="482.8" x2="777.7" y2="129.6" stroke="#c2c2c2" stroke-width="1.25"/>
<line x1="973.8" y1="354.8" x2="968.9" y2="59.7" stroke="#c2c2c2" stroke-width="1.25"/>
<line x1="1348.3" y1="396.4" x2="1359.7" y2="82.0" stroke="#c2c2c2" stroke-width="1.25"/>
<line x1="777.7" y1="129.6" x2="968.9" y2="59.7" stroke="#c2c2c2" stroke-width="1.25"/>
<line x1="968.9" y1="59.7" x2="1359.7" y2="82.0" stroke="#c2c2c2" stroke-width="1.25"/>
<line x1="792.8" y1="482.8" x2="973.8" y2="354.8" stroke="#c2c2c2" stroke-width="1.25"/>
<line x1="973.8" y1="354.8" x2="1348.3" y2="396.4" stroke="#c2c2c2" stroke-width="1.25"/>
<line x1="792.8" y1="482.8" x2="1236.6" y2="544.6" stroke="#989898" stroke-width="1.5"/>
<line x1="1236.6" y1="544.6" x2="1348.3" y2="396.4" stroke="#989898" stroke-width="1.5"/>
<polyline points="790.7,434.4 973.1,314.0 1349.9,353.1" fill="none" stroke="#151515" stroke-width="1.35" stroke-linejoin="round"/>
<polyline points="788.6,385.4 972.4,272.9 1351.5,309.3" fill="none" stroke="#151515" stroke-width="1.35" stroke-linejoin="round"/>
<polyline points="786.5,335.6 971.7,231.2 1353.1,265.0" fill="none" stroke="#151515" stroke-width="1.35" stroke-linejoin="round"/>
<polyline points="784.3,285.2 971.0,189.1 1354.7,220.1" fill="none" stroke="#151515" stroke-width="1.35" stroke-linejoin="round"/>
<polyline points="782.1,234.1 970.3,146.4 1356.3,174.6" fill="none" stroke="#151515" stroke-width="1.35" stroke-linejoin="round"/>
<polyline points="779.9,182.2 969.6,103.3 1358.0,128.6" fill="none" stroke="#151515" stroke-width="1.35" stroke-linejoin="round"/>
<polyline points="973.8,354.8 976.0,355.0 978.2,355.2 980.4,355.5 982.6,355.7 984.8,356.0 987.0,356.2 989.2,356.5 991.4,356.7 993.6,357.0 995.8,357.2 998.0,357.5 1000.2,357.7 1002.4,357.9 1004.6,358.2 1006.9,358.4 1009.1,358.7 1011.3,358.9 1013.5,359.2 1015.7,359.4 1018.0,359.7 1020.2,359.9 1022.4,360.2 1024.6,360.4 1026.9,360.7 1029.1,360.9 1031.3,361.2 1033.6,361.4 1035.8,361.7 1038.1,361.9 1040.3,362.2 1042.6,362.4 1044.8,362.7 1047.0,362.9 1049.3,363.2 1051.6,363.4 1053.8,363.7 1056.1,363.9 1058.3,364.2 1060.6,364.4 1062.8,364.7 1065.1,364.9 1067.4,365.2 1069.6,365.4 1071.9,365.7 1074.2,365.9 1076.5,366.2 1078.7,366.4 1081.0,366.7 1083.3,366.9 1085.6,367.2 1087.8,367.4 1090.1,367.7 1092.4,368.0 1094.7,368.2 1097.0,368.5 1099.3,368.7 1101.6,369.0 1103.9,369.2 1106.2,369.5 1108.5,369.7 1110.8,370.0 1113.1,370.2 1115.4,370.5 1117.7,370.8 1120.0,371.0 1122.3,371.3 1124.6,371.5 1126.9,371.8 1129.2,372.0 1131.6,372.3 1133.9,372.6 1136.2,372.8 1138.5,373.1 1140.9,373.3 1143.2,373.6 1145.5,373.9 1147.8,374.1 1150.2,374.4 1152.5,374.6 1154.8,374.9 1157.2,375.2 1159.5,375.4 1161.9,375.7 1164.2,375.9 1166.6,376.2 1168.9,376.5 1171.3,376.7 1173.6,377.0 1176.0,377.2 1178.3,377.5 1180.7,377.8 1183.0,378.0 1185.4,378.3 1187.8,378.6 1190.1,378.8 1192.5,379.1 1194.9,379.3 1197.3,379.6 1199.6,379.9 1202.0,380.1 1204.4,380.4 1206.8,380.7 1209.1,380.9 1211.5,381.2 1213.9,381.5 1216.3,381.7 1218.7,382.0 1221.1,382.3 1223.5,382.5 1225.9,382.8 1228.3,383.1 1230.7,383.3 1233.1,383.6 1235.5,383.9 1237.9,384.1 1240.3,384.4 1242.7,384.7 1245.1,384.9 1247.5,385.2 1250.0,385.5 1252.4,385.7 1254.8,386.0 1257.2,386.3 1259.7,386.6 1262.1,386.8 1264.5,387.1 1266.9,387.4 1269.4,387.6 1271.8,387.9 1274.2,388.2 1276.7,388.4 1279.1,388.7 1281.6,389.0 1284.0,389.3 1286.5,389.5 1288.9,389.8 1291.4,390.1 1293.8,390.4 1296.3,390.6 1298.7,390.9 1301.2,391.2 1303.7,391.4 1306.1,391.7 1308.6,392.0 1311.1,392.3 1313.5,392.5 1316.0,392.8 1318.5,393.1 1321.0,393.4 1323.4,393.6 1325.9,393.9 1328.4,394.2 1330.9,394.5 1333.4,394.8 1335.9,395.0 1338.4,395.3 1340.9,395.6 1343.3,395.9 1345.8,396.1 1348.3,396.4" fill="none" stroke="#1f9a68" stroke-width="1.45" stroke-linecap="round" stroke-linejoin="round"/>
<polyline points="792.6,479.8 795.1,478.3 797.6,476.8 800.1,475.2 802.6,473.7 805.1,472.2 807.6,470.7 810.1,469.2 812.6,467.7 815.1,466.1 817.6,464.6 820.1,463.1 822.7,461.6 825.2,460.0 827.7,458.5 830.3,457.0 832.8,455.4 835.3,453.9 837.9,452.3 840.4,450.8 843.0,449.2 845.5,447.7 848.1,446.1 850.7,444.6 853.2,443.0 853.9,442.6" fill="none" stroke="#1f9a68" stroke-width="1.45" stroke-linecap="round" stroke-linejoin="round"/>
<polyline points="853.9,442.6 855.8,441.5 858.4,439.9 861.0,438.3 863.6,436.8 866.2,435.2 868.7,433.6 871.3,432.0 873.9,430.5 876.6,428.9 879.2,427.3 881.8,425.7 884.4,424.1 887.0,422.5 889.6,420.9 892.3,419.3 894.9,417.7 897.5,416.1 900.2,414.5 902.8,412.9 905.5,411.3 908.1,409.7 910.8,408.1 913.5,406.5 916.1,404.9 918.8,403.3 921.5,401.6 921.7,401.5" fill="none" stroke="#22c03a" stroke-width="1.45" stroke-linecap="round" stroke-linejoin="round"/>
<polyline points="921.7,401.5 924.1,400.0 926.8,398.4 929.5,396.8 932.2,395.1 934.9,393.5 937.6,391.9 940.3,390.2 943.0,388.6 945.7,386.9 948.5,385.3 951.2,383.6 953.9,382.0 956.6,380.3 959.4,378.7 962.1,377.0 964.8,375.3 967.6,373.7 970.3,372.0 973.1,370.3 975.9,368.7 978.6,367.0 981.4,365.3 984.2,363.6 986.9,361.9 989.7,360.2 992.4,358.6" fill="none" stroke="#3f52cc" stroke-width="1.45" stroke-linecap="round" stroke-linejoin="round"/>
<polyline points="992.4,358.6 992.5,358.5 995.3,356.9 998.1,355.2 1000.9,353.5 1003.7,351.8 1006.5,350.1 1009.3,348.4 1012.2,346.6 1015.0,344.9 1017.8,343.2 1020.6,341.5 1023.5,339.8 1026.3,338.1 1029.2,336.3 1032.0,334.6 1034.9,332.9 1037.7,331.1 1040.6,329.4 1043.5,327.7 1046.3,325.9 1049.2,324.2 1052.1,322.4 1055.0,320.7 1057.9,318.9 1060.8,317.2 1063.7,315.4 1066.0,314.0" fill="none" stroke="#43e9a9" stroke-width="1.45" stroke-linecap="round" stroke-linejoin="round"/>
<polyline points="1066.0,314.0 1066.6,313.6 1069.5,311.9 1072.4,310.1 1075.3,308.3 1078.2,306.6 1081.2,304.8 1084.1,303.0 1087.0,301.2 1090.0,299.4 1092.9,297.6 1095.9,295.9 1098.9,294.1 1101.8,292.3 1104.8,290.5 1107.8,288.7 1110.7,286.9 1113.7,285.0 1116.7,283.2 1119.7,281.4 1122.7,279.6 1125.7,277.8 1128.7,276.0 1131.7,274.1 1134.7,272.3 1137.8,270.5 1140.8,268.6 1142.8,267.4" fill="none" stroke="#43e9a9" stroke-width="1.45" stroke-linecap="round" stroke-linejoin="round"/>
<polyline points="1142.8,267.4 1143.8,266.8 1146.9,264.9 1149.9,263.1 1153.0,261.3 1156.0,259.4 1159.1,257.5 1162.1,255.7 1165.2,253.8 1168.3,252.0 1171.3,250.1 1174.4,248.2 1177.5,246.3 1180.6,244.5 1183.7,242.6 1186.8,240.7 1189.9,238.8 1193.0,236.9 1196.2,235.0 1199.3,233.1 1202.4,231.2 1205.6,229.3 1208.7,227.4 1211.8,225.5 1215.0,223.6 1218.2,221.7 1221.3,219.8 1223.0,218.8" fill="none" stroke="#43e9a9" stroke-width="1.45" stroke-linecap="round" stroke-linejoin="round"/>
<polyline points="1223.0,218.8 1224.5,217.9 1227.7,215.9 1230.8,214.0 1234.0,212.1 1237.2,210.1 1240.4,208.2 1243.6,206.3" fill="none" stroke="#43e9a9" stroke-width="1.45" stroke-linecap="round" stroke-linejoin="round"/>
<polyline points="973.8,354.8 972.9,355.4 971.9,356.1 971.0,356.8 970.0,357.4 969.1,358.1 968.1,358.8 967.2,359.4 966.2,360.1 965.3,360.8 964.3,361.4 963.4,362.1 962.4,362.8 961.4,363.5 960.5,364.2 959.5,364.8 958.5,365.5 957.6,366.2 956.6,366.9 955.6,367.6 954.7,368.3 953.7,368.9 952.7,369.6 951.7,370.3 950.7,371.0 949.7,371.7 948.7,372.4 947.8,373.1 946.8,373.8 945.8,374.5 944.8,375.2 943.8,375.9 942.8,376.6 941.8,377.3 940.7,378.0 939.7,378.7 938.7,379.4 937.7,380.1 936.7,380.8 935.7,381.6 934.6,382.3 933.6,383.0 932.6,383.7 931.6,384.4 930.5,385.1 929.5,385.9 928.5,386.6 927.4,387.3 926.4,388.0 925.3,388.8 924.3,389.5 923.3,390.2 922.2,391.0 921.2,391.7 920.1,392.4 919.0,393.2 918.0,393.9 916.9,394.6 915.9,395.4 914.8,396.1 913.7,396.9 912.6,397.6 911.6,398.3 910.5,399.1 909.4,399.8 908.3,400.6 907.2,401.3 906.2,402.1 905.1,402.9 904.0,403.6 902.9,404.4 901.8,405.1 900.7,405.9 899.6,406.7 898.5,407.4 897.4,408.2 896.3,409.0 895.1,409.7 894.0,410.5 892.9,411.3 891.8,412.0 890.7,412.8 889.5,413.6 888.4,414.4 887.3,415.2 886.2,415.9 885.0,416.7 883.9,417.5 882.7,418.3 881.6,419.1 880.4,419.9 879.3,420.7 878.1,421.5 877.0,422.3 875.8,423.1 874.7,423.9 873.5,424.7 872.3,425.5 871.2,426.3 870.0,427.1 868.8,427.9 867.6,428.7 866.5,429.5 865.3,430.3 864.1,431.1 862.9,431.9 861.7,432.8 860.5,433.6 859.3,434.4 858.1,435.2 856.9,436.1 855.7,436.9 854.5,437.7 853.3,438.5 852.0,439.4 850.8,440.2 849.6,441.0 848.4,441.9 847.1,442.7 845.9,443.6 844.7,444.4 843.4,445.3 842.2,446.1 841.0,446.9 839.7,447.8 838.5,448.7 837.2,449.5 836.0,450.4 834.7,451.2 833.4,452.1 832.2,452.9 830.9,453.8 829.6,454.7 828.3,455.5 827.1,456.4 825.8,457.3 824.5,458.2 823.2,459.0 821.9,459.9 820.6,460.8 819.3,461.7 818.0,462.6 816.7,463.5 815.4,464.3 814.1,465.2 812.8,466.1 811.5,467.0 810.1,467.9 808.8,468.8 807.5,469.7 806.2,470.6 804.8,471.5 803.5,472.4 802.1,473.3 800.8,474.3 799.4,475.2 798.1,476.1 796.7,477.0 795.4,477.9 794.0,478.8 792.6,479.8" fill="none" stroke="#1f9a68" stroke-width="1.45" stroke-linecap="round" stroke-linejoin="round"/>
<polyline points="1348.3,396.4 1347.8,397.2 1347.2,397.9 1346.6,398.6 1346.1,399.3 1345.5,399.9 1344.9,400.6 1344.3,401.2 1343.8,401.8 1343.2,402.4 1342.6,402.9 1342.0,403.5 1341.5,404.0 1340.9,404.5 1340.3,405.0 1339.7,405.5 1339.2,405.9 1338.6,406.3 1338.0,406.7 1337.4,407.1 1336.8,407.5 1336.3,407.8 1335.7,408.1 1335.1,408.4 1334.5,408.7 1333.9,409.0 1333.3,409.2 1332.7,409.4 1332.2,409.6 1331.6,409.8 1331.0,410.0 1330.4,410.1 1329.8,410.2 1329.2,410.3 1328.6,410.4 1328.0,410.4 1327.4,410.4 1326.8,410.4 1326.2,410.4 1325.6,410.4 1325.0,410.3 1324.4,410.2 1323.8,410.1 1323.2,410.0 1322.6,409.8 1322.0,409.7 1321.4,409.5 1320.8,409.3 1320.2,409.0 1319.6,408.7 1319.0,408.5 1318.4,408.1 1317.8,407.8 1317.2,407.5 1316.6,407.1 1316.0,406.7 1315.4,406.2 1314.7,405.8 1314.1,405.3 1313.5,404.8 1312.9,404.3 1312.3,403.7 1311.7,403.2 1311.0,402.6 1310.5,402.1" fill="none" stroke="#1f9a68" stroke-width="1.45" stroke-linecap="round" stroke-linejoin="round"/>
<polyline points="1310.5,402.1 1310.4,402.0 1309.8,401.3 1309.2,400.6 1308.5,399.9 1307.9,399.2 1307.3,398.5 1306.7,397.7 1306.0,396.9 1305.4,396.1 1304.8,395.2 1304.1,394.4 1303.5,393.5 1302.9,392.6 1302.2,391.6 1301.6,390.6 1301.0,389.6 1300.3,388.6 1299.7,387.5 1299.0,386.5 1298.4,385.4 1297.7,384.2 1297.1,383.1 1296.4,381.9 1295.8,380.7 1295.1,379.4 1294.5,378.1 1293.8,376.8 1293.6,376.4" fill="none" stroke="#22c03a" stroke-width="1.45" stroke-linecap="round" stroke-linejoin="round"/>
<polyline points="1293.6,376.4 1293.2,375.5 1292.5,374.2 1291.9,372.8 1291.2,371.4 1290.5,369.9 1289.9,368.5 1289.2,367.0 1288.6,365.4 1287.9,363.9 1287.2,362.3 1286.5,360.7 1285.9,359.0 1285.2,357.4 1284.5,355.6 1283.8,353.9 1283.2,352.1 1282.5,350.4 1281.8,348.5 1281.1,346.7 1280.4,344.8 1279.9,343.3" fill="none" stroke="#3f52cc" stroke-width="1.45" stroke-linecap="round" stroke-linejoin="round"/>
<polyline points="1279.9,343.3 1279.8,342.9 1279.1,340.9 1278.4,338.9 1277.7,336.9 1277.0,334.9 1276.3,332.8 1275.6,330.7 1274.9,328.5 1274.2,326.4 1273.5,324.2 1272.8,321.9 1272.1,319.6 1271.4,317.3 1270.7,315.0 1269.9,312.6 1269.2,310.2 1268.5,307.8 1267.8,305.4" fill="none" stroke="#43e9a9" stroke-width="1.45" stroke-linecap="round" stroke-linejoin="round"/>
<polyline points="1267.8,305.4 1267.8,305.3 1267.1,302.8 1266.4,300.2 1265.6,297.6 1264.9,295.0 1264.2,292.4 1263.4,289.7 1262.7,286.9 1262.0,284.2 1261.2,281.4 1260.5,278.5 1259.8,275.7 1259.0,272.8 1258.3,269.8 1257.5,266.8 1256.8,263.8 1256.7,263.6" fill="none" stroke="#43e9a9" stroke-width="1.45" stroke-linecap="round" stroke-linejoin="round"/>
<polyline points="1256.7,263.6 1256.0,260.7 1255.2,257.6 1254.5,254.5 1253.7,251.3 1253.0,248.1 1252.2,244.8 1251.4,241.5 1250.7,238.2 1249.9,234.8 1249.1,231.4 1248.3,227.9 1247.6,224.4 1246.8,220.9 1246.2,218.1" fill="none" stroke="#43e9a9" stroke-width="1.45" stroke-linecap="round" stroke-linejoin="round"/>
<polyline points="1246.2,218.1 1246.0,217.3 1245.2,213.7 1244.4,210.0 1243.6,206.3" fill="none" stroke="#43e9a9" stroke-width="1.45" stroke-linecap="round" stroke-linejoin="round"/>
<polyline points="958.5,365.5 960.8,365.8 963.0,366.0 965.2,366.2 967.5,366.5 969.7,366.7 971.9,366.9 974.1,367.2 976.4,367.4 978.6,367.6 980.9,367.9 983.1,368.1 985.3,368.4 987.6,368.6 989.8,368.8 992.1,369.1 994.3,369.3 996.6,369.6 998.8,369.8 1001.1,370.0 1003.4,370.3 1005.6,370.5 1007.9,370.7 1010.1,371.0 1012.4,371.2 1014.7,371.5 1017.0,371.7 1019.2,372.0 1021.5,372.2 1023.8,372.4 1026.0,372.7 1028.3,372.9 1030.6,373.2 1032.9,373.4 1035.2,373.6 1037.5,373.9 1039.8,374.1 1042.0,374.4 1044.3,374.6 1046.6,374.9 1048.9,375.1 1051.2,375.3 1053.5,375.6 1055.8,375.8 1058.1,376.1 1060.4,376.3 1062.7,376.6 1065.1,376.8 1067.4,377.1 1069.7,377.3 1072.0,377.6 1074.3,377.8 1076.6,378.0 1079.0,378.3 1081.3,378.5 1083.6,378.8 1085.9,379.0 1088.3,379.3 1090.6,379.5 1092.9,379.8 1095.3,380.0 1097.6,380.3 1099.9,380.5 1102.3,380.8 1104.6,381.0 1107.0,381.3 1109.3,381.5 1111.7,381.8 1114.0,382.0 1116.4,382.3 1118.7,382.5 1121.1,382.8 1123.4,383.0 1125.8,383.3 1128.2,383.5 1130.5,383.8 1132.9,384.0 1135.3,384.3 1137.6,384.5 1140.0,384.8 1142.4,385.0 1144.8,385.3 1147.1,385.5 1149.5,385.8 1151.9,386.0 1154.3,386.3 1156.7,386.5 1159.1,386.8 1161.5,387.0 1163.8,387.3 1166.2,387.6 1168.6,387.8 1171.0,388.1 1173.4,388.3 1175.8,388.6 1178.2,388.8 1180.7,389.1 1183.1,389.3 1185.5,389.6 1187.9,389.9 1190.3,390.1 1192.7,390.4 1195.1,390.6 1197.6,390.9 1200.0,391.1 1202.4,391.4 1204.8,391.7 1207.3,391.9 1209.7,392.2 1212.1,392.4 1214.6,392.7 1217.0,392.9 1219.5,393.2 1221.9,393.5 1224.3,393.7 1226.8,394.0 1229.2,394.2 1231.7,394.5 1234.2,394.8 1236.6,395.0 1239.1,395.3 1241.5,395.5 1244.0,395.8 1246.5,396.1 1248.9,396.3 1251.4,396.6 1253.9,396.9 1256.3,397.1 1258.8,397.4 1261.3,397.6 1263.8,397.9 1266.2,398.2 1268.7,398.4 1271.2,398.7 1273.7,399.0 1276.2,399.2 1278.7,399.5 1281.2,399.8 1283.7,400.0 1286.2,400.3 1288.7,400.5 1291.2,400.8 1293.7,401.1 1296.2,401.3 1298.7,401.6 1301.2,401.9 1303.7,402.1 1306.2,402.4 1308.8,402.7 1311.3,402.9 1313.8,403.2 1316.3,403.5 1318.9,403.7 1321.4,404.0 1323.9,404.3 1326.5,404.6 1329.0,404.8 1331.5,405.1 1334.1,405.4 1336.6,405.6 1339.2,405.9" fill="none" stroke="#1f9a68" stroke-width="1.7" stroke-linecap="round" stroke-linejoin="round"/>
<polyline points="1009.1,358.7 1008.2,359.4 1007.3,360.0 1006.3,360.7 1005.4,361.4 1004.5,362.0 1003.6,362.7 1002.7,363.4 1001.8,364.0 1000.8,364.7 999.9,365.3 999.0,366.0 998.1,366.7 997.1,367.3 996.2,368.0 995.3,368.7 994.3,369.3 993.4,370.0 992.5,370.6 991.5,371.3 990.6,371.9 989.6,372.6 988.7,373.3 987.7,373.9 986.8,374.6 985.8,375.2 984.9,375.9 983.9,376.5 982.9,377.2 982.0,377.8 981.0,378.5 980.0,379.1 979.1,379.8 978.1,380.4 977.1,381.0 976.1,381.7 975.2,382.3 974.2,383.0 973.2,383.6 972.2,384.3 971.2,384.9 970.2,385.5 969.2,386.2 968.2,386.8 967.2,387.5 966.2,388.1 965.2,388.7 964.2,389.4 963.2,390.0 962.2,390.6 961.2,391.3 960.2,391.9 959.2,392.5 958.2,393.2 957.1,393.8 956.1,394.4 955.1,395.0 954.1,395.7 953.0,396.3 952.0,396.9 951.0,397.6 949.9,398.2 948.9,398.8 947.8,399.4 946.8,400.0 945.7,400.7 944.7,401.3 943.6,401.9 942.6,402.5 941.5,403.1 940.4,403.8 939.4,404.4 938.3,405.0 937.2,405.6 936.2,406.2 935.1,406.8 934.0,407.4 932.9,408.0 931.9,408.7 930.8,409.3 929.7,409.9 928.6,410.5 927.5,411.1 926.4,411.7 925.3,412.3 924.2,412.9 923.1,413.5 922.0,414.1 920.9,414.7 919.8,415.3 918.6,415.9 917.5,416.5 916.4,417.1 915.3,417.7 914.2,418.3 913.0,418.9 911.9,419.5 910.8,420.1 909.6,420.7 908.5,421.2 907.3,421.8 906.2,422.4 905.0,423.0 903.9,423.6 902.7,424.2 901.6,424.8 900.4,425.4 899.2,425.9 898.1,426.5 896.9,427.1 895.7,427.7 894.5,428.3 893.4,428.8 892.2,429.4 891.0,430.0 889.8,430.6 888.6,431.1 887.4,431.7 886.2,432.3 885.0,432.9 883.8,433.4 882.6,434.0 881.4,434.6 880.2,435.1 878.9,435.7 877.7,436.3 876.5,436.8 875.3,437.4 874.0,438.0 872.8,438.5 871.6,439.1 870.3,439.6 869.1,440.2 867.8,440.8 866.6,441.3 865.3,441.9 864.1,442.4 862.8,443.0 861.5,443.5 860.3,444.1 859.0,444.6 857.7,445.2 856.4,445.7 855.2,446.3 853.9,446.8 852.6,447.4 851.3,447.9 850.0,448.5 848.7,449.0 847.4,449.5 846.1,450.1 844.8,450.6 843.5,451.2 842.1,451.7 840.8,452.2 839.5,452.8 838.2,453.3 836.8,453.8 835.5,454.4 834.1,454.9 832.8,455.4" fill="none" stroke="#1f9a68" stroke-width="1.7" stroke-linecap="round" stroke-linejoin="round"/>
<polyline points="942.8,376.6 945.0,376.8 947.3,377.0 949.5,377.2 951.8,377.4 954.1,377.6 956.3,377.8 958.6,378.0 960.9,378.2 963.1,378.4 965.4,378.6 967.7,378.8 969.9,379.0 972.2,379.2 974.5,379.4 976.8,379.6 979.1,379.8 981.4,380.0 983.6,380.2 985.9,380.3 988.2,380.5 990.5,380.7 992.8,380.9 995.1,381.1 997.4,381.3 999.7,381.5 1002.0,381.7 1004.3,381.9 1006.6,382.1 1008.9,382.3 1011.3,382.5 1013.6,382.7 1015.9,383.0 1018.2,383.2 1020.5,383.4 1022.8,383.6 1025.2,383.8 1027.5,384.0 1029.8,384.2 1032.2,384.4 1034.5,384.6 1036.8,384.8 1039.2,385.0 1041.5,385.2 1043.8,385.4 1046.2,385.6 1048.5,385.8 1050.9,386.0 1053.2,386.2 1055.6,386.4 1057.9,386.6 1060.3,386.8 1062.6,387.0 1065.0,387.2 1067.4,387.4 1069.7,387.6 1072.1,387.8 1074.4,388.0 1076.8,388.2 1079.2,388.4 1081.6,388.7 1083.9,388.9 1086.3,389.1 1088.7,389.3 1091.1,389.5 1093.5,389.7 1095.8,389.9 1098.2,390.1 1100.6,390.3 1103.0,390.5 1105.4,390.7 1107.8,390.9 1110.2,391.1 1112.6,391.3 1115.0,391.6 1117.4,391.8 1119.8,392.0 1122.2,392.2 1124.6,392.4 1127.0,392.6 1129.5,392.8 1131.9,393.0 1134.3,393.2 1136.7,393.4 1139.1,393.7 1141.6,393.9 1144.0,394.1 1146.4,394.3 1148.9,394.5 1151.3,394.7 1153.7,394.9 1156.2,395.1 1158.6,395.3 1161.0,395.6 1163.5,395.8 1165.9,396.0 1168.4,396.2 1170.8,396.4 1173.3,396.6 1175.7,396.8 1178.2,397.0 1180.7,397.3 1183.1,397.5 1185.6,397.7 1188.1,397.9 1190.5,398.1 1193.0,398.3 1195.5,398.5 1197.9,398.8 1200.4,399.0 1202.9,399.2 1205.4,399.4 1207.9,399.6 1210.4,399.8 1212.8,400.1 1215.3,400.3 1217.8,400.5 1220.3,400.7 1222.8,400.9 1225.3,401.1 1227.8,401.4 1230.3,401.6 1232.8,401.8 1235.3,402.0 1237.9,402.2 1240.4,402.4 1242.9,402.7 1245.4,402.9 1247.9,403.1 1250.5,403.3 1253.0,403.5 1255.5,403.8 1258.0,404.0 1260.6,404.2 1263.1,404.4 1265.6,404.6 1268.2,404.9 1270.7,405.1 1273.3,405.3 1275.8,405.5 1278.4,405.7 1280.9,406.0 1283.5,406.2 1286.0,406.4 1288.6,406.6 1291.1,406.8 1293.7,407.1 1296.3,407.3 1298.8,407.5 1301.4,407.7 1304.0,408.0 1306.5,408.2 1309.1,408.4 1311.7,408.6 1314.3,408.9 1316.8,409.1 1319.4,409.3 1322.0,409.5 1324.6,409.8 1327.2,410.0 1329.8,410.2" fill="none" stroke="#1f9a68" stroke-width="1.7" stroke-linecap="round" stroke-linejoin="round"/>
<polyline points="1044.8,362.7 1043.9,363.3 1043.1,364.0 1042.2,364.7 1041.3,365.3 1040.4,366.0 1039.5,366.7 1038.7,367.3 1037.8,368.0 1036.9,368.7 1036.0,369.3 1035.1,370.0 1034.2,370.6 1033.3,371.2 1032.4,371.9 1031.5,372.5 1030.6,373.2 1029.7,373.8 1028.8,374.4 1027.9,375.1 1027.0,375.7 1026.1,376.3 1025.2,376.9 1024.2,377.5 1023.3,378.1 1022.4,378.8 1021.5,379.4 1020.5,380.0 1019.6,380.6 1018.7,381.2 1017.8,381.8 1016.8,382.4 1015.9,383.0 1015.0,383.5 1014.0,384.1 1013.1,384.7 1012.1,385.3 1011.2,385.9 1010.2,386.4 1009.3,387.0 1008.3,387.6 1007.4,388.1 1006.4,388.7 1005.4,389.2 1004.5,389.8 1003.5,390.4 1002.5,390.9 1001.6,391.4 1000.6,392.0 999.6,392.5 998.7,393.1 997.7,393.6 996.7,394.1 995.7,394.7 994.7,395.2 993.7,395.7 992.7,396.2 991.7,396.7 990.7,397.2 989.7,397.7 988.7,398.3 987.7,398.8 986.7,399.3 985.7,399.7 984.7,400.2 983.7,400.7 982.7,401.2 981.7,401.7 980.6,402.2 979.6,402.7 978.6,403.1 977.6,403.6 976.5,404.1 975.5,404.5 974.5,405.0 973.4,405.4 972.4,405.9 971.3,406.3 970.3,406.8 969.2,407.2 968.2,407.7 967.1,408.1 966.1,408.5 965.0,409.0 963.9,409.4 962.9,409.8 961.8,410.2 960.7,410.6 959.7,411.0 958.6,411.5 957.5,411.9 956.4,412.3 955.3,412.7 954.2,413.0 953.1,413.4 952.1,413.8 951.0,414.2 949.9,414.6 948.7,415.0 947.6,415.3 946.5,415.7 945.4,416.1 944.3,416.4 943.2,416.8 942.1,417.1 940.9,417.5 939.8,417.8 938.7,418.2 937.5,418.5 936.4,418.8 935.3,419.2 934.1,419.5 933.0,419.8 931.8,420.1 930.7,420.4 929.5,420.8 928.4,421.1 927.2,421.4 926.0,421.7 924.9,422.0 923.7,422.3 922.5,422.5 921.3,422.8 920.2,423.1 919.0,423.4 917.8,423.6 916.6,423.9 915.4,424.2 914.2,424.4 913.0,424.7 911.8,424.9 910.6,425.2 909.4,425.4 908.1,425.7 906.9,425.9 905.7,426.1 904.5,426.4 903.2,426.6 902.0,426.8 900.8,427.0 899.5,427.2 899.2,427.3" fill="none" stroke="#1f9a68" stroke-width="1.7" stroke-linecap="round" stroke-linejoin="round"/>
<polyline points="899.2,427.3 898.3,427.4 897.0,427.6 895.8,427.8 894.5,428.0 893.3,428.2 892.0,428.4 890.8,428.6 889.5,428.7 888.2,428.9 886.9,429.1 885.7,429.2 884.4,429.4 883.1,429.5 881.8,429.7 880.5,429.8 879.2,430.0 877.9,430.1 876.6,430.2 875.3,430.3 873.9,430.5" fill="none" stroke="#22c03a" stroke-width="1.7" stroke-linecap="round" stroke-linejoin="round"/>
<polyline points="926.4,388.0 928.7,388.2 931.0,388.3 933.3,388.4 935.5,388.5 937.8,388.6 940.1,388.8 942.4,388.9 944.7,389.0 947.0,389.1 949.4,389.3 951.7,389.4 954.0,389.5 956.3,389.6 958.6,389.8 960.9,389.9 963.2,390.0 965.6,390.1 967.9,390.2 970.2,390.4 972.5,390.5 974.9,390.6 977.2,390.7 979.5,390.9 981.9,391.0 984.2,391.1 986.5,391.2 988.9,391.4 991.2,391.5 993.6,391.6 995.9,391.7 998.3,391.9 1000.6,392.0 1003.0,392.1 1005.3,392.2 1007.7,392.4 1010.0,392.5 1012.4,392.6 1014.8,392.7 1017.1,392.9 1019.5,393.0 1021.9,393.1 1024.2,393.2 1026.6,393.4 1029.0,393.5 1031.4,393.6 1033.8,393.8 1036.1,393.9 1038.5,394.0 1040.9,394.1 1043.3,394.3 1045.7,394.4 1048.1,394.5 1050.5,394.6 1052.9,394.8 1055.3,394.9 1057.7,395.0 1060.1,395.2 1062.5,395.3 1064.9,395.4 1067.3,395.5 1069.7,395.7 1072.2,395.8 1074.6,395.9 1077.0,396.1 1079.4,396.2 1081.8,396.3 1084.3,396.4 1086.7,396.6 1089.1,396.7 1091.6,396.8 1094.0,397.0 1096.4,397.1 1098.9,397.2 1101.3,397.4 1103.8,397.5 1106.2,397.6 1108.7,397.7 1111.1,397.9 1113.6,398.0 1116.0,398.1 1118.5,398.3 1121.0,398.4 1123.4,398.5 1125.9,398.7 1128.4,398.8 1130.8,398.9 1133.3,399.1 1135.8,399.2 1138.3,399.3 1140.7,399.5 1143.2,399.6 1145.7,399.7 1148.2,399.8 1150.7,400.0 1153.2,400.1 1155.7,400.2 1158.2,400.4 1160.7,400.5 1163.2,400.6 1165.7,400.8 1168.2,400.9 1170.7,401.0 1173.2,401.2 1175.7,401.3 1178.2,401.4 1180.7,401.6 1183.2,401.7 1185.8,401.9 1188.3,402.0 1190.8,402.1 1193.3,402.3 1195.9,402.4 1198.4,402.5 1200.9,402.7 1203.5,402.8 1206.0,402.9 1208.6,403.1 1211.1,403.2 1213.7,403.3 1216.2,403.5 1218.8,403.6 1221.3,403.7 1223.9,403.9 1226.4,404.0 1229.0,404.2 1231.6,404.3 1234.1,404.4 1236.7,404.6 1239.3,404.7 1241.8,404.8 1244.4,405.0 1247.0,405.1 1249.6,405.2 1252.2,405.4 1254.8,405.5 1257.3,405.7 1259.9,405.8 1262.5,405.9 1265.1,406.1 1267.7,406.2 1270.3,406.4 1272.9,406.5 1275.5,406.6 1278.1,406.8 1280.8,406.9 1283.4,407.0 1286.0,407.2 1288.6,407.3 1291.2,407.5 1293.9,407.6 1296.5,407.7 1299.1,407.9 1301.7,408.0 1304.4,408.2 1307.0,408.3 1309.6,408.4 1312.3,408.6 1314.9,408.7 1317.6,408.9 1320.2,409.0" fill="none" stroke="#1f9a68" stroke-width="1.7" stroke-linecap="round" stroke-linejoin="round"/>
<polyline points="1081.0,366.7 1080.2,367.4 1079.3,368.0 1078.5,368.7 1077.6,369.4 1076.8,370.1 1075.9,370.7 1075.1,371.4 1074.2,372.0 1073.4,372.7 1072.5,373.3 1071.7,373.9 1070.8,374.6 1070.0,375.2 1069.1,375.8 1068.2,376.4 1067.4,377.1 1066.5,377.7 1065.6,378.3 1064.8,378.9 1063.9,379.5 1063.0,380.1 1062.1,380.6 1061.2,381.2 1060.4,381.8 1059.5,382.4 1058.6,382.9 1057.7,383.5 1056.8,384.0 1055.9,384.6 1055.0,385.1 1054.1,385.7 1053.2,386.2 1052.3,386.7 1051.4,387.2 1050.5,387.8 1049.6,388.3 1048.7,388.8 1047.8,389.3 1046.9,389.8 1045.9,390.3 1045.0,390.8 1044.1,391.2 1043.2,391.7 1042.3,392.2 1041.3,392.6 1040.4,393.1 1039.5,393.6 1038.5,394.0 1037.6,394.5 1036.6,394.9 1035.7,395.3 1034.8,395.8 1033.8,396.2 1032.9,396.6 1031.9,397.0 1031.0,397.4 1030.0,397.8 1029.0,398.2 1028.1,398.6 1027.1,399.0 1026.2,399.3 1025.2,399.7 1024.2,400.1 1023.2,400.4 1022.3,400.8 1021.3,401.1 1020.3,401.5 1019.3,401.8 1018.3,402.2 1017.3,402.5 1016.4,402.8 1015.4,403.1 1014.4,403.4 1013.4,403.7 1012.4,404.0 1011.4,404.3 1010.4,404.6 1009.3,404.9 1008.3,405.1 1007.3,405.4 1006.3,405.7 1005.3,405.9 1004.3,406.2 1003.2,406.4 1002.2,406.7 1001.2,406.9 1000.1,407.1 999.1,407.3 998.1,407.5 997.0,407.7 996.0,407.9 994.9,408.1 993.9,408.3 992.8,408.5 991.8,408.7 990.7,408.8 989.6,409.0 988.6,409.1 987.5,409.3 986.4,409.4 985.4,409.6 984.3,409.7 983.2,409.8 982.1,409.9 981.0,410.0 979.9,410.1 978.9,410.2 977.8,410.3 976.7,410.4 975.6,410.5 974.5,410.5 973.3,410.6 972.2,410.7 971.1,410.7 970.0,410.7 969.5,410.8" fill="none" stroke="#1f9a68" stroke-width="1.7" stroke-linecap="round" stroke-linejoin="round"/>
<polyline points="969.5,410.8 968.9,410.8 967.8,410.8 966.6,410.8 965.5,410.8 964.4,410.8 963.2,410.8 962.1,410.8 960.9,410.8 959.8,410.8 958.6,410.8 957.5,410.7 956.3,410.7 955.2,410.6 954.0,410.6 952.8,410.5 951.7,410.4 950.5,410.3 949.3,410.2 948.1,410.2 947.0,410.0 945.8,409.9 944.6,409.8 943.4,409.7 942.2,409.6 941.0,409.4 939.8,409.3 938.6,409.1 937.3,408.9 936.1,408.8 934.9,408.6 933.7,408.4 932.5,408.2 931.2,408.0 930.0,407.8 928.7,407.5 927.5,407.3 926.3,407.1 925.0,406.8 923.7,406.6 922.5,406.3 921.2,406.0 920.0,405.8 918.7,405.5 917.4,405.2 916.1,404.9" fill="none" stroke="#22c03a" stroke-width="1.7" stroke-linecap="round" stroke-linejoin="round"/>
<polyline points="909.4,399.8 911.7,399.9 914.1,399.9 916.4,399.9 918.7,399.9 921.0,399.9 923.4,399.9 925.7,399.9 928.0,399.9 930.4,400.0 932.7,400.0 935.0,400.0 937.4,400.0 939.7,400.0 942.1,400.0 944.4,400.0 946.8,400.0 949.1,400.1 951.5,400.1 953.8,400.1 956.2,400.1 958.6,400.1 960.9,400.1 963.3,400.1 965.7,400.1 968.0,400.2 970.4,400.2 972.8,400.2 975.2,400.2 977.6,400.2 979.9,400.2 982.3,400.2 984.7,400.2 987.1,400.3 989.5,400.3 991.9,400.3 994.3,400.3 996.7,400.3 999.1,400.3 1001.5,400.3 1003.9,400.3 1006.3,400.4 1008.7,400.4 1011.1,400.4 1013.6,400.4 1016.0,400.4 1018.4,400.4 1020.8,400.4 1023.2,400.4 1025.7,400.5 1028.1,400.5 1030.5,400.5 1033.0,400.5 1035.4,400.5 1037.8,400.5 1040.3,400.5 1042.7,400.5 1045.2,400.6 1047.6,400.6 1050.1,400.6 1052.5,400.6 1055.0,400.6 1057.4,400.6 1059.9,400.6 1062.4,400.6 1064.8,400.7 1067.3,400.7 1069.8,400.7 1072.2,400.7 1074.7,400.7 1077.2,400.7 1079.7,400.7 1082.1,400.8 1084.6,400.8 1087.1,400.8 1089.6,400.8 1092.1,400.8 1094.6,400.8 1097.1,400.8 1099.6,400.8 1102.1,400.9 1104.6,400.9 1107.1,400.9 1109.6,400.9 1112.1,400.9 1114.6,400.9 1117.1,400.9 1119.7,401.0 1122.2,401.0 1124.7,401.0 1127.2,401.0 1129.8,401.0 1132.3,401.0 1134.8,401.0 1137.4,401.0 1139.9,401.1 1142.4,401.1 1145.0,401.1 1147.5,401.1 1150.1,401.1 1152.6,401.1 1155.2,401.1 1157.7,401.2 1160.3,401.2 1162.9,401.2 1165.4,401.2 1168.0,401.2 1170.6,401.2 1173.1,401.2 1175.7,401.2 1178.3,401.3 1180.9,401.3 1183.4,401.3 1186.0,401.3 1188.6,401.3 1191.2,401.3 1193.8,401.3 1196.4,401.4 1199.0,401.4 1201.6,401.4 1204.2,401.4 1206.8,401.4 1209.4,401.4 1212.0,401.4 1214.6,401.4 1217.2,401.5 1219.8,401.5 1222.5,401.5 1225.1,401.5 1227.7,401.5 1230.3,401.5 1233.0,401.5 1235.6,401.6 1238.2,401.6 1240.9,401.6 1243.5,401.6 1246.2,401.6 1248.8,401.6 1251.5,401.6 1254.1,401.7 1256.8,401.7 1259.4,401.7 1262.1,401.7 1264.7,401.7 1267.4,401.7 1270.1,401.7 1272.7,401.8 1275.4,401.8 1278.1,401.8 1280.8,401.8 1283.5,401.8 1286.1,401.8 1288.8,401.8 1291.5,401.9 1294.2,401.9 1296.9,401.9 1299.6,401.9 1302.3,401.9 1305.0,401.9 1307.7,401.9 1307.8,401.9" fill="none" stroke="#1f9a68" stroke-width="1.7" stroke-linecap="round" stroke-linejoin="round"/>
<polyline points="1307.8,401.9 1310.4,402.0" fill="none" stroke="#22c03a" stroke-width="1.7" stroke-linecap="round" stroke-linejoin="round"/>
<polyline points="1117.7,370.8 1116.9,371.5 1116.1,372.1 1115.3,372.8 1114.5,373.5 1113.6,374.2 1112.8,374.8 1112.0,375.5 1111.2,376.1 1110.4,376.7 1109.6,377.4 1108.7,378.0 1107.9,378.6 1107.1,379.2 1106.3,379.8 1105.4,380.4 1104.6,381.0 1103.8,381.6 1103.0,382.2 1102.1,382.7 1101.3,383.3 1100.4,383.9 1099.6,384.4 1098.8,384.9 1097.9,385.5 1097.1,386.0 1096.2,386.5 1095.4,387.0 1094.5,387.5 1093.6,388.0 1092.8,388.5 1091.9,389.0 1091.1,389.5 1090.2,389.9 1089.3,390.4 1088.5,390.9 1087.6,391.3 1086.7,391.7 1085.9,392.2 1085.0,392.6 1084.1,393.0 1083.2,393.4 1082.3,393.8 1081.5,394.2 1080.6,394.6 1079.7,395.0 1078.8,395.3 1077.9,395.7 1077.0,396.1 1076.1,396.4 1075.2,396.7 1074.3,397.1 1073.4,397.4 1072.5,397.7 1071.6,398.0 1070.7,398.3 1069.8,398.6 1068.8,398.9 1067.9,399.2 1067.0,399.4 1066.1,399.7 1065.1,399.9 1064.2,400.2 1063.3,400.4 1062.4,400.6 1061.4,400.9 1060.5,401.1 1059.5,401.3 1058.6,401.5 1057.7,401.7 1056.7,401.8 1055.8,402.0 1054.8,402.2 1053.9,402.3 1052.9,402.5 1051.9,402.6 1051.0,402.7 1050.0,402.8 1049.0,402.9 1048.1,403.0 1047.1,403.1 1046.1,403.2 1045.1,403.3 1044.2,403.4 1043.2,403.4 1042.2,403.5 1041.2,403.5 1040.2,403.5 1039.2,403.5 1038.2,403.6 1037.2,403.6 1036.2,403.5 1035.2,403.5 1034.2,403.5 1033.2,403.5 1032.2,403.4 1031.2,403.4 1030.1,403.3 1029.1,403.2 1028.1,403.2 1027.1,403.1 1026.7,403.0" fill="none" stroke="#1f9a68" stroke-width="1.7" stroke-linecap="round" stroke-linejoin="round"/>
<polyline points="1026.7,403.0 1026.0,403.0 1025.0,402.9 1024.0,402.7 1022.9,402.6 1021.9,402.5 1020.8,402.3 1019.8,402.2 1018.7,402.0 1017.7,401.8 1016.6,401.6 1015.6,401.4 1014.5,401.2 1013.4,401.0 1012.4,400.8 1011.3,400.5 1010.2,400.3 1009.1,400.0 1008.0,399.8 1007.0,399.5 1005.9,399.2 1004.8,398.9 1003.7,398.6 1002.6,398.3 1001.5,397.9 1000.4,397.6 999.3,397.3 998.1,396.9 997.0,396.5 995.9,396.1 994.8,395.7 993.7,395.3 992.5,394.9 991.4,394.5 990.3,394.1 989.1,393.6 988.0,393.2 986.8,392.7 985.7,392.2 984.5,391.7 983.4,391.2 982.2,390.7 981.0,390.2 981.0,390.2" fill="none" stroke="#22c03a" stroke-width="1.7" stroke-linecap="round" stroke-linejoin="round"/>
<polyline points="981.0,390.2 979.9,389.6 978.7,389.1 977.5,388.5 976.3,387.9 975.1,387.3 973.9,386.8 972.7,386.1 971.6,385.5 970.4,384.9 969.1,384.2 967.9,383.6 966.7,382.9 965.5,382.2 964.3,381.5 963.1,380.8 961.8,380.1 960.6,379.4 959.4,378.7" fill="none" stroke="#3f52cc" stroke-width="1.7" stroke-linecap="round" stroke-linejoin="round"/>
<polyline points="891.8,412.0 894.1,411.9 896.5,411.8 898.9,411.6 901.2,411.5 903.6,411.4 905.9,411.2 908.3,411.1 910.7,411.0 913.0,410.8 915.4,410.7 917.8,410.6 920.2,410.4 922.5,410.3 924.9,410.1 927.3,410.0 929.7,409.9 932.1,409.7 934.5,409.6 936.9,409.5 939.2,409.3 941.6,409.2 944.0,409.0 946.4,408.9 948.9,408.8 951.3,408.6 953.7,408.5 956.1,408.4 958.5,408.2 960.9,408.1 963.3,407.9 965.8,407.8 968.2,407.7 970.6,407.5 973.0,407.4 975.5,407.2 977.9,407.1 980.3,407.0 982.8,406.8 985.2,406.7 987.7,406.5 990.1,406.4 992.6,406.3 995.0,406.1 997.5,406.0 999.9,405.8 1002.4,405.7 1004.9,405.6 1007.3,405.4 1009.8,405.3 1012.3,405.1 1014.7,405.0 1017.2,404.8 1019.7,404.7 1022.2,404.6 1024.6,404.4 1027.1,404.3 1029.6,404.1 1032.1,404.0 1034.6,403.8 1037.1,403.7 1039.6,403.6 1042.1,403.4 1044.6,403.3 1047.1,403.1 1049.6,403.0 1052.1,402.8 1054.6,402.7 1057.1,402.6 1059.7,402.4 1062.2,402.3 1064.7,402.1 1067.2,402.0 1069.8,401.8 1072.3,401.7 1074.8,401.5 1077.4,401.4 1079.9,401.2 1082.4,401.1 1085.0,401.0 1087.5,400.8 1090.1,400.7 1092.6,400.5 1095.2,400.4 1097.8,400.2 1100.3,400.1 1102.9,399.9 1105.4,399.8 1108.0,399.6 1110.6,399.5 1113.2,399.3 1115.7,399.2 1118.3,399.0 1120.9,398.9 1123.5,398.7 1126.1,398.6 1128.7,398.5 1131.3,398.3 1133.9,398.2 1136.5,398.0 1139.1,397.9 1141.7,397.7 1142.7,397.6" fill="none" stroke="#1f9a68" stroke-width="1.7" stroke-linecap="round" stroke-linejoin="round"/>
<polyline points="1142.7,397.6 1144.3,397.6 1146.9,397.4 1149.5,397.3 1152.1,397.1 1154.7,397.0 1157.3,396.8 1160.0,396.7 1162.6,396.5 1165.2,396.4 1167.9,396.2 1170.5,396.1 1173.1,395.9 1175.8,395.7 1178.4,395.6 1181.1,395.4 1183.7,395.3 1186.4,395.1 1189.0,395.0 1191.7,394.8 1194.3,394.7 1197.0,394.5 1199.7,394.4 1202.3,394.2 1205.0,394.1 1207.7,393.9 1210.3,393.8 1213.0,393.6 1215.7,393.5 1218.4,393.3 1221.1,393.1 1223.8,393.0 1226.5,392.8 1229.2,392.7 1231.9,392.5 1234.6,392.4 1237.3,392.2 1240.0,392.1 1242.7,391.9 1245.4,391.8 1248.1,391.6 1250.8,391.4 1253.6,391.3 1256.3,391.1 1259.0,391.0 1261.8,390.8 1264.5,390.7 1267.2,390.5 1270.0,390.3 1272.7,390.2 1275.5,390.0 1278.2,389.9 1281.0,389.7 1283.7,389.6 1286.5,389.4 1289.2,389.2 1292.0,389.1 1294.8,388.9 1297.5,388.8 1300.3,388.6" fill="none" stroke="#22c03a" stroke-width="1.7" stroke-linecap="round" stroke-linejoin="round"/>
<polyline points="1154.8,374.9 1154.1,375.6 1153.3,376.3 1152.5,377.0 1151.8,377.6 1151.0,378.3 1150.2,379.0 1149.4,379.6 1148.7,380.2 1147.9,380.9 1147.1,381.5 1146.3,382.1 1145.5,382.7 1144.7,383.3 1144.0,383.9 1143.2,384.5 1142.4,385.0 1141.6,385.6 1140.8,386.1 1140.0,386.7 1139.2,387.2 1138.4,387.7 1137.6,388.2 1136.8,388.7 1136.0,389.2 1135.2,389.7 1134.4,390.2 1133.5,390.6 1132.7,391.1 1131.9,391.5 1131.1,392.0 1130.3,392.4 1129.5,392.8 1128.6,393.2 1127.8,393.6 1127.0,394.0 1126.1,394.4 1125.3,394.7 1124.5,395.1 1123.6,395.5 1122.8,395.8 1122.0,396.1 1121.1,396.4 1120.3,396.7 1119.4,397.0 1118.6,397.3 1117.7,397.6 1116.9,397.9 1116.0,398.1 1115.2,398.4 1114.3,398.6 1113.5,398.9 1112.6,399.1 1111.7,399.3 1110.9,399.5 1110.0,399.7 1109.1,399.8 1108.3,400.0 1107.4,400.2 1106.5,400.3 1105.6,400.4 1104.7,400.6 1103.9,400.7 1103.0,400.8 1102.1,400.9 1101.2,400.9 1100.3,401.0 1099.4,401.1 1098.5,401.1 1097.6,401.1 1096.7,401.2 1095.8,401.2 1094.9,401.2 1094.0,401.2 1093.1,401.2 1092.2,401.1 1091.2,401.1 1090.3,401.0 1089.4,401.0 1088.5,400.9 1087.5,400.8 1086.6,400.7 1085.7,400.6 1084.7,400.5 1083.8,400.3 1082.9,400.2 1081.9,400.0 1081.0,399.9 1080.0,399.7 1079.1,399.5 1078.2,399.3" fill="none" stroke="#1f9a68" stroke-width="1.7" stroke-linecap="round" stroke-linejoin="round"/>
<polyline points="1078.2,399.3 1078.1,399.3 1077.2,399.1 1076.2,398.9 1075.2,398.6 1074.3,398.4 1073.3,398.1 1072.3,397.8 1071.4,397.5 1070.4,397.2 1069.4,396.9 1068.4,396.6 1067.5,396.2 1066.5,395.9 1065.5,395.5 1064.5,395.1 1063.5,394.8 1062.5,394.4 1061.5,393.9 1060.5,393.5 1059.5,393.1 1058.5,392.6 1057.5,392.1 1056.4,391.7 1055.4,391.2 1054.4,390.7 1053.4,390.1 1052.4,389.6 1051.3,389.1 1050.3,388.5 1049.2,387.9 1048.2,387.3 1047.2,386.7 1046.1,386.1 1045.1,385.5 1044.0,384.8 1043.0,384.2 1041.9,383.5 1040.8,382.8 1040.5,382.6" fill="none" stroke="#22c03a" stroke-width="1.7" stroke-linecap="round" stroke-linejoin="round"/>
<polyline points="1040.5,382.6 1039.8,382.1 1038.7,381.4 1037.6,380.7 1036.5,379.9 1035.5,379.2 1034.4,378.4 1033.3,377.6 1032.2,376.8 1031.1,376.0 1030.0,375.2 1028.9,374.3 1027.8,373.5 1026.7,372.6 1025.6,371.7 1024.5,370.8 1023.3,369.9 1022.2,368.9 1021.1,368.0 1020.0,367.0 1018.8,366.0 1017.7,365.0 1016.5,364.0 1015.4,363.0 1014.2,361.9 1013.1,360.9 1011.9,359.8 1010.8,358.7 1009.6,357.6 1008.5,356.5" fill="none" stroke="#3f52cc" stroke-width="1.7" stroke-linecap="round" stroke-linejoin="round"/>
<polyline points="1008.5,356.5 1008.4,356.4 1007.3,355.3 1006.1,354.1 1004.9,353.0 1003.7,351.8" fill="none" stroke="#43e9a9" stroke-width="1.7" stroke-linecap="round" stroke-linejoin="round"/>
<polyline points="873.5,424.7 875.9,424.3 878.3,424.0 880.6,423.7 883.0,423.4 885.4,423.0 887.8,422.7 890.2,422.4 892.6,422.1 895.0,421.8 897.4,421.4 899.8,421.1 902.2,420.8 904.6,420.5 907.1,420.1 909.5,419.8 911.9,419.5 914.3,419.1 916.7,418.8 919.2,418.5 921.6,418.2 924.0,417.8 926.5,417.5 928.9,417.2 931.3,416.8 933.8,416.5 936.2,416.2 938.7,415.9 941.1,415.5 943.6,415.2 946.0,414.9 948.5,414.5 951.0,414.2 953.4,413.9 955.9,413.5 958.4,413.2 960.8,412.9 963.3,412.5 965.8,412.2 968.3,411.9 970.7,411.5 973.2,411.2 975.7,410.9 978.2,410.5 980.7,410.2 983.2,409.8 985.7,409.5 988.2,409.2 990.7,408.8 993.2,408.5 995.7,408.2 998.2,407.8 1000.8,407.5 1003.3,407.1 1005.8,406.8 1008.3,406.5 1010.8,406.1 1013.4,405.8 1015.9,405.4 1018.4,405.1 1021.0,404.7 1023.5,404.4 1026.1,404.1 1028.6,403.7 1031.2,403.4 1033.7,403.0 1036.3,402.7 1038.8,402.3 1041.4,402.0 1044.0,401.6 1046.5,401.3 1046.6,401.3" fill="none" stroke="#1f9a68" stroke-width="1.7" stroke-linecap="round" stroke-linejoin="round"/>
<polyline points="1046.6,401.3 1049.1,401.0 1051.7,400.6 1054.2,400.3 1056.8,399.9 1059.4,399.6 1062.0,399.2 1064.6,398.9 1067.2,398.5 1069.8,398.2 1072.3,397.8 1074.9,397.5 1077.5,397.1 1080.2,396.8 1082.8,396.4 1085.4,396.1 1088.0,395.7 1090.6,395.4 1093.2,395.0 1095.8,394.6 1098.5,394.3 1101.1,393.9 1103.7,393.6 1106.4,393.2 1109.0,392.9 1111.6,392.5 1114.3,392.2 1116.9,391.8 1119.6,391.4 1122.2,391.1 1124.9,390.7 1127.5,390.4 1130.2,390.0 1132.9,389.6 1135.5,389.3 1138.2,388.9 1140.9,388.6 1143.6,388.2 1146.2,387.8 1148.9,387.5 1151.6,387.1 1154.3,386.8 1157.0,386.4 1159.7,386.0 1162.4,385.7 1165.1,385.3 1167.8,384.9 1170.5,384.6 1173.2,384.2 1175.9,383.8 1178.6,383.5 1181.3,383.1 1184.1,382.7 1186.8,382.4 1189.5,382.0 1192.2,381.6 1195.0,381.3 1197.7,380.9 1200.5,380.5 1203.2,380.2 1206.0,379.8 1208.7,379.4 1211.5,379.0 1214.2,378.7 1217.0,378.3 1219.7,377.9 1222.5,377.5 1225.3,377.2 1228.1,376.8 1230.8,376.4 1233.6,376.0 1236.4,375.7 1238.2,375.4" fill="none" stroke="#22c03a" stroke-width="1.7" stroke-linecap="round" stroke-linejoin="round"/>
<polyline points="1238.2,375.4 1239.2,375.3 1242.0,374.9 1244.8,374.5 1247.6,374.2 1250.4,373.8 1253.2,373.4 1256.0,373.0 1258.8,372.7 1261.6,372.3 1264.4,371.9 1267.2,371.5 1270.0,371.1 1272.9,370.8 1275.7,370.4 1278.5,370.0 1281.4,369.6 1284.2,369.2 1287.0,368.8 1289.9,368.5" fill="none" stroke="#3f52cc" stroke-width="1.7" stroke-linecap="round" stroke-linejoin="round"/>
<polyline points="1192.5,379.1 1191.8,379.8 1191.1,380.5 1190.3,381.2 1189.6,381.8 1188.8,382.5 1188.1,383.2 1187.4,383.8 1186.6,384.4 1185.9,385.1 1185.1,385.7 1184.4,386.3 1183.7,386.8 1182.9,387.4 1182.2,388.0 1181.4,388.5 1180.7,389.1 1179.9,389.6 1179.1,390.1 1178.4,390.6 1177.6,391.1 1176.9,391.6 1176.1,392.1 1175.3,392.6 1174.6,393.0 1173.8,393.4 1173.0,393.9 1172.3,394.3 1171.5,394.7 1170.7,395.1 1169.9,395.5 1169.2,395.8 1168.4,396.2 1167.6,396.5 1166.8,396.9 1166.0,397.2 1165.2,397.5 1164.5,397.8 1163.7,398.1 1162.9,398.4 1162.1,398.6 1161.3,398.9 1160.5,399.1 1159.7,399.3 1158.9,399.5 1158.1,399.7 1157.3,399.9 1156.5,400.1 1155.7,400.2 1154.9,400.4 1154.0,400.5 1153.2,400.7 1152.4,400.8 1151.6,400.9 1150.8,400.9 1149.9,401.0 1149.1,401.1 1148.3,401.1 1147.5,401.2 1146.6,401.2 1145.8,401.2 1145.0,401.2 1144.1,401.2 1143.3,401.1 1142.4,401.1 1141.6,401.0 1140.7,400.9 1139.9,400.8 1139.0,400.7 1138.2,400.6 1137.3,400.5 1136.5,400.4 1135.6,400.2 1134.8,400.0 1133.9,399.9 1133.0,399.7 1132.2,399.4 1131.3,399.2 1130.4,399.0 1129.5,398.7 1128.7,398.5 1127.8,398.2 1126.9,397.9 1126.7,397.8" fill="none" stroke="#1f9a68" stroke-width="1.7" stroke-linecap="round" stroke-linejoin="round"/>
<polyline points="1126.7,397.8 1126.0,397.6 1125.1,397.2 1124.2,396.9 1123.3,396.5 1122.4,396.2 1121.6,395.8 1120.7,395.4 1119.7,395.0 1118.8,394.5 1117.9,394.1 1117.0,393.6 1116.1,393.2 1115.2,392.7 1114.3,392.2 1113.4,391.6 1112.4,391.1 1111.5,390.5 1110.6,390.0 1109.6,389.4 1108.7,388.8 1107.8,388.2 1106.8,387.5 1105.9,386.9 1105.0,386.2 1104.0,385.6 1103.1,384.9 1102.1,384.1 1101.1,383.4 1100.2,382.7 1099.2,381.9 1098.3,381.1 1097.3,380.3 1096.3,379.5 1095.3,378.7 1095.0,378.4" fill="none" stroke="#22c03a" stroke-width="1.7" stroke-linecap="round" stroke-linejoin="round"/>
<polyline points="1095.0,378.4 1094.4,377.9 1093.4,377.0 1092.4,376.1 1091.4,375.2 1090.4,374.3 1089.4,373.4 1088.4,372.4 1087.4,371.5 1086.4,370.5 1085.4,369.5 1084.4,368.4 1083.4,367.4 1082.4,366.4 1081.4,365.3 1080.4,364.2 1079.3,363.1 1078.3,362.0 1077.3,360.8 1076.2,359.6 1075.2,358.5 1074.2,357.3 1073.1,356.0 1072.1,354.8 1071.0,353.5 1070.0,352.3 1068.9,351.0 1068.3,350.2" fill="none" stroke="#3f52cc" stroke-width="1.7" stroke-linecap="round" stroke-linejoin="round"/>
<polyline points="1068.3,350.2 1067.8,349.6 1066.8,348.3 1065.7,346.9 1064.6,345.6 1063.6,344.2 1062.5,342.8 1061.4,341.3 1060.3,339.9 1059.2,338.4 1058.1,336.9 1057.0,335.4 1055.9,333.8 1054.8,332.3 1053.7,330.7 1052.6,329.1 1051.5,327.5 1050.3,325.8 1049.2,324.2" fill="none" stroke="#43e9a9" stroke-width="1.7" stroke-linecap="round" stroke-linejoin="round"/>
<polyline points="854.5,437.7 856.9,437.2 859.3,436.6 861.7,436.1 864.1,435.5 866.5,435.0 869.0,434.4 871.4,433.8 873.8,433.3 876.3,432.7 878.7,432.2 881.1,431.6 883.6,431.1 886.0,430.5 888.5,430.0 890.9,429.4 893.4,428.8 895.8,428.3 898.3,427.7 900.7,427.2 903.2,426.6 905.7,426.0 908.1,425.5 910.6,424.9 913.1,424.3 915.6,423.8 918.0,423.2 920.5,422.7 923.0,422.1 925.5,421.5 928.0,420.9 930.5,420.4 933.0,419.8 935.5,419.2 938.0,418.7 940.5,418.1 943.0,417.5 945.5,417.0 948.0,416.4 950.5,415.8 953.1,415.2 955.6,414.7 958.1,414.1 960.6,413.5 963.2,412.9 965.7,412.3 968.3,411.8 970.8,411.2 973.3,410.6 975.9,410.0 978.4,409.4 981.0,408.9 981.2,408.8" fill="none" stroke="#1f9a68" stroke-width="1.7" stroke-linecap="round" stroke-linejoin="round"/>
<polyline points="981.2,408.8 983.6,408.3 986.1,407.7 988.7,407.1 991.3,406.5 993.8,405.9 996.4,405.4 999.0,404.8 1001.6,404.2 1004.1,403.6 1006.7,403.0 1009.3,402.4 1011.9,401.8 1014.5,401.2 1017.1,400.6 1019.7,400.0 1022.3,399.4 1024.9,398.9 1027.5,398.3 1030.1,397.7 1032.7,397.1 1035.4,396.5 1038.0,395.9 1040.6,395.3 1043.2,394.7 1045.9,394.1 1048.5,393.5 1051.2,392.9 1053.8,392.3 1056.4,391.7 1059.1,391.1 1061.7,390.5 1064.4,389.8 1067.1,389.2 1069.7,388.6 1072.4,388.0 1075.1,387.4 1077.7,386.8 1080.4,386.2 1083.1,385.6 1085.8,385.0 1088.4,384.4 1091.1,383.8 1093.8,383.1 1096.5,382.5 1099.2,381.9 1101.9,381.3 1104.6,380.7 1107.3,380.1 1110.0,379.4 1112.8,378.8 1115.5,378.2 1118.2,377.6 1120.2,377.1" fill="none" stroke="#22c03a" stroke-width="1.7" stroke-linecap="round" stroke-linejoin="round"/>
<polyline points="1120.2,377.1 1120.9,377.0 1123.7,376.3 1126.4,375.7 1129.1,375.1 1131.9,374.5 1134.6,373.8 1137.3,373.2 1140.1,372.6 1142.8,372.0 1145.6,371.3 1148.4,370.7 1151.1,370.1 1153.9,369.4 1156.7,368.8 1159.4,368.2 1162.2,367.6 1165.0,366.9 1167.8,366.3 1170.6,365.7 1173.3,365.0 1176.1,364.4 1178.9,363.7 1181.7,363.1 1184.5,362.5 1187.3,361.8 1190.2,361.2 1193.0,360.5 1195.8,359.9 1198.6,359.3 1201.4,358.6 1204.3,358.0 1207.1,357.3 1209.9,356.7 1212.8,356.0 1215.6,355.4 1218.5,354.7 1221.3,354.1 1224.2,353.4 1227.0,352.8 1229.9,352.1 1232.7,351.5 1235.6,350.8 1238.5,350.2 1241.4,349.5 1244.2,348.9 1247.1,348.2 1250.0,347.5 1252.9,346.9 1255.8,346.2 1258.7,345.6 1261.6,344.9 1264.5,344.2 1267.4,343.6 1268.6,343.3" fill="none" stroke="#3f52cc" stroke-width="1.7" stroke-linecap="round" stroke-linejoin="round"/>
<polyline points="1268.6,343.3 1270.3,342.9 1273.2,342.2 1276.1,341.6 1279.1,340.9" fill="none" stroke="#43e9a9" stroke-width="1.7" stroke-linecap="round" stroke-linejoin="round"/>
<polyline points="1230.7,383.3 1230.0,384.0 1229.3,384.7 1228.6,385.4 1227.9,386.1 1227.2,386.8 1226.5,387.4 1225.8,388.1 1225.1,388.7 1224.4,389.3 1223.7,389.9 1223.0,390.5 1222.3,391.1 1221.6,391.6 1220.9,392.2 1220.2,392.7 1219.5,393.2 1218.7,393.7 1218.0,394.2 1217.3,394.7 1216.6,395.1 1215.9,395.6 1215.2,396.0 1214.4,396.4 1213.7,396.9 1213.0,397.2 1212.3,397.6 1211.5,398.0 1210.8,398.3 1210.1,398.7 1209.3,399.0 1208.6,399.3 1207.9,399.6 1207.1,399.9 1206.4,400.2 1205.7,400.4 1204.9,400.7 1204.2,400.9 1203.4,401.1 1202.7,401.3 1201.9,401.5 1201.2,401.6 1200.4,401.8 1199.7,401.9 1198.9,402.0 1198.2,402.2 1197.4,402.2 1196.6,402.3 1195.9,402.4 1195.1,402.4 1194.3,402.5 1193.6,402.5 1192.8,402.5 1192.0,402.5 1191.3,402.4 1190.5,402.4 1189.7,402.3 1188.9,402.3 1188.2,402.2 1187.4,402.1 1186.6,401.9 1185.8,401.8 1185.0,401.6 1184.2,401.5 1183.4,401.3 1182.6,401.1 1181.8,400.9 1181.0,400.6 1180.2,400.4 1179.4,400.1 1178.6,399.8 1177.8,399.5 1177.0,399.2 1176.2,398.9 1175.4,398.5 1174.6,398.1 1173.8,397.8 1173.6,397.7" fill="none" stroke="#1f9a68" stroke-width="1.7" stroke-linecap="round" stroke-linejoin="round"/>
<polyline points="1173.6,397.7 1173.0,397.4 1172.1,396.9 1171.3,396.5 1170.5,396.1 1169.7,395.6 1168.8,395.1 1168.0,394.6 1167.2,394.1 1166.3,393.5 1165.5,393.0 1164.6,392.4 1163.8,391.8 1163.0,391.2 1162.1,390.6 1161.3,389.9 1160.4,389.2 1159.6,388.6 1158.7,387.9 1157.8,387.1 1157.0,386.4 1156.1,385.6 1155.2,384.9 1154.4,384.1 1153.5,383.2 1152.6,382.4 1151.8,381.6 1150.9,380.7 1150.0,379.8 1149.1,378.9 1148.2,378.0 1147.3,377.0 1146.6,376.2" fill="none" stroke="#22c03a" stroke-width="1.7" stroke-linecap="round" stroke-linejoin="round"/>
<polyline points="1146.6,376.2 1146.4,376.0 1145.5,375.1 1144.6,374.0 1143.7,373.0 1142.8,372.0 1141.9,370.9 1141.0,369.8 1140.1,368.7 1139.2,367.6 1138.3,366.4 1137.4,365.3 1136.4,364.1 1135.5,362.8 1134.6,361.6 1133.7,360.4 1132.7,359.1 1131.8,357.8 1130.8,356.5 1129.9,355.1 1129.0,353.8 1128.0,352.4 1127.1,351.0 1126.1,349.6 1125.1,348.1 1124.2,346.6 1124.0,346.4" fill="none" stroke="#3f52cc" stroke-width="1.7" stroke-linecap="round" stroke-linejoin="round"/>
<polyline points="1124.0,346.4 1123.2,345.1 1122.3,343.6 1121.3,342.1 1120.3,340.5 1119.3,338.9 1118.3,337.3 1117.4,335.7 1116.4,334.0 1115.4,332.4 1114.4,330.7 1113.4,328.9 1112.4,327.2 1111.4,325.4 1110.4,323.6 1109.4,321.8 1108.4,320.0 1107.3,318.1 1106.3,316.2 1105.3,314.3 1104.3,312.3 1103.6,311.1" fill="none" stroke="#43e9a9" stroke-width="1.7" stroke-linecap="round" stroke-linejoin="round"/>
<polyline points="1103.6,311.1 1103.2,310.4 1102.2,308.4 1101.1,306.3 1100.1,304.3 1099.1,302.2 1098.0,300.1 1097.0,298.0 1095.9,295.9" fill="none" stroke="#43e9a9" stroke-width="1.7" stroke-linecap="round" stroke-linejoin="round"/>
<polyline points="834.7,451.2 837.1,450.4 839.6,449.6 842.0,448.8 844.5,447.9 846.9,447.1 849.4,446.3 851.8,445.5 854.3,444.6 856.7,443.8 859.2,443.0 861.7,442.1 864.1,441.3 866.6,440.5 869.1,439.6 871.6,438.8 874.0,438.0 876.5,437.1 879.0,436.3 881.5,435.4 884.0,434.6 886.5,433.8 889.0,432.9 891.5,432.1 894.0,431.2 896.5,430.4 899.0,429.5 901.6,428.7 904.1,427.8 906.6,427.0 909.1,426.1 911.7,425.3 914.2,424.4 916.7,423.6 919.3,422.7 921.8,421.9 924.4,421.0 926.9,420.1 929.5,419.3 931.4,418.6" fill="none" stroke="#1f9a68" stroke-width="1.7" stroke-linecap="round" stroke-linejoin="round"/>
<polyline points="931.4,418.6 932.0,418.4 934.6,417.6 937.1,416.7 939.7,415.8 942.3,415.0 944.9,414.1 947.4,413.2 950.0,412.4 952.6,411.5 955.2,410.6 957.8,409.7 960.4,408.9 963.0,408.0 965.6,407.1 968.2,406.2 970.8,405.4 973.4,404.5 976.0,403.6 978.6,402.7 981.2,401.8 983.9,401.0 986.5,400.1 989.1,399.2 991.7,398.3 994.4,397.4 997.0,396.5 999.7,395.6 1002.3,394.7 1005.0,393.8 1007.6,392.9 1010.3,392.1 1012.9,391.2 1015.6,390.3 1018.3,389.4 1021.0,388.5 1023.6,387.6 1026.3,386.7 1029.0,385.7 1031.7,384.8 1034.4,383.9 1037.1,383.0 1037.4,382.9" fill="none" stroke="#22c03a" stroke-width="1.7" stroke-linecap="round" stroke-linejoin="round"/>
<polyline points="1037.4,382.9 1039.8,382.1 1042.5,381.2 1045.2,380.3 1047.9,379.4 1050.6,378.5 1053.3,377.6 1056.0,376.6 1058.7,375.7 1061.5,374.8 1064.2,373.9 1066.9,373.0 1069.7,372.0 1072.4,371.1 1075.2,370.2 1077.9,369.3 1080.7,368.3 1083.4,367.4 1086.2,366.5 1088.9,365.6 1091.7,364.6 1094.5,363.7 1097.2,362.7 1100.0,361.8 1102.8,360.9 1105.6,359.9 1108.4,359.0 1111.2,358.1 1114.0,357.1 1116.8,356.2 1119.6,355.2 1122.4,354.3 1125.2,353.3 1128.0,352.4 1130.8,351.4 1133.7,350.5 1136.5,349.5 1139.3,348.6 1142.1,347.6 1145.0,346.7 1147.8,345.7 1149.2,345.2" fill="none" stroke="#3f52cc" stroke-width="1.7" stroke-linecap="round" stroke-linejoin="round"/>
<polyline points="1149.2,345.2 1150.7,344.7 1153.5,343.8 1156.4,342.8 1159.2,341.9 1162.1,340.9 1165.0,339.9 1167.8,339.0 1170.7,338.0 1173.6,337.0 1176.5,336.1 1179.4,335.1 1182.2,334.1 1185.1,333.1 1188.0,332.2 1190.9,331.2 1193.8,330.2 1196.7,329.2 1199.7,328.2 1202.6,327.3 1205.5,326.3 1208.4,325.3 1211.4,324.3 1214.3,323.3 1217.2,322.3 1220.2,321.3 1223.1,320.3 1226.1,319.3 1229.0,318.3 1232.0,317.3 1234.9,316.4 1237.9,315.4 1240.9,314.4 1243.8,313.3 1246.8,312.3 1249.8,311.3 1252.8,310.3 1255.8,309.3 1258.8,308.3 1261.8,307.3 1264.8,306.3 1267.3,305.4" fill="none" stroke="#43e9a9" stroke-width="1.7" stroke-linecap="round" stroke-linejoin="round"/>
<polyline points="1267.3,305.4 1267.8,305.3" fill="none" stroke="#43e9a9" stroke-width="1.7" stroke-linecap="round" stroke-linejoin="round"/>
<polyline points="1269.4,387.6 1268.7,388.4 1268.1,389.1 1267.4,389.8 1266.8,390.4 1266.1,391.1 1265.4,391.7 1264.8,392.4 1264.1,393.0 1263.5,393.6 1262.8,394.2 1262.1,394.8 1261.5,395.3 1260.8,395.8 1260.1,396.4 1259.5,396.9 1258.8,397.4 1258.1,397.9 1257.5,398.3 1256.8,398.8 1256.1,399.2 1255.4,399.6 1254.8,400.0 1254.1,400.4 1253.4,400.8 1252.7,401.1 1252.0,401.4 1251.4,401.8 1250.7,402.1 1250.0,402.3 1249.3,402.6 1248.6,402.9 1247.9,403.1 1247.2,403.3 1246.5,403.5 1245.9,403.7 1245.2,403.9 1244.5,404.0 1243.8,404.2 1243.1,404.3 1242.4,404.4 1241.7,404.5 1241.0,404.5 1240.3,404.6 1239.5,404.6 1238.8,404.6 1238.1,404.6 1237.4,404.6 1236.7,404.6 1236.0,404.5 1235.3,404.4 1234.6,404.3 1233.8,404.2 1233.1,404.1 1232.4,404.0 1231.7,403.8 1230.9,403.6 1230.2,403.4 1229.5,403.2 1228.8,403.0 1228.0,402.7 1227.3,402.4 1226.6,402.1 1225.8,401.8 1225.1,401.5 1224.3,401.2 1223.6,400.8 1222.9,400.4 1222.1,400.0 1221.4,399.6 1220.6,399.1 1219.9,398.7 1219.6,398.5" fill="none" stroke="#1f9a68" stroke-width="1.7" stroke-linecap="round" stroke-linejoin="round"/>
<polyline points="1219.6,398.5 1219.1,398.2 1218.4,397.7 1217.6,397.2 1216.8,396.6 1216.1,396.1 1215.3,395.5 1214.6,394.9 1213.8,394.3 1213.0,393.6 1212.3,392.9 1211.5,392.3 1210.7,391.6 1209.9,390.8 1209.2,390.1 1208.4,389.3 1207.6,388.5 1206.8,387.7 1206.0,386.9 1205.2,386.1 1204.4,385.2 1203.7,384.3 1202.9,383.4 1202.1,382.5 1201.3,381.5 1200.5,380.5 1199.7,379.5 1198.9,378.5 1198.0,377.5 1197.2,376.4 1196.5,375.4" fill="none" stroke="#22c03a" stroke-width="1.7" stroke-linecap="round" stroke-linejoin="round"/>
<polyline points="1196.5,375.4 1196.4,375.3 1195.6,374.2 1194.8,373.1 1194.0,371.9 1193.2,370.7 1192.3,369.5 1191.5,368.3 1190.7,367.0 1189.8,365.8 1189.0,364.5 1188.2,363.2 1187.3,361.8 1186.5,360.5 1185.7,359.1 1184.8,357.7 1184.0,356.2 1183.1,354.8 1182.3,353.3 1181.4,351.8 1180.5,350.2 1179.7,348.7 1178.8,347.1 1178.0,345.5 1177.3,344.3" fill="none" stroke="#3f52cc" stroke-width="1.7" stroke-linecap="round" stroke-linejoin="round"/>
<polyline points="1177.3,344.3 1177.1,343.8 1176.2,342.2 1175.3,340.5 1174.5,338.8 1173.6,337.0 1172.7,335.3 1171.8,333.5 1170.9,331.7 1170.0,329.8 1169.1,327.9 1168.2,326.0 1167.3,324.1 1166.4,322.2 1165.5,320.2 1164.6,318.2 1163.7,316.2 1162.8,314.1 1161.9,312.0 1161.0,309.9 1160.1,308.0" fill="none" stroke="#43e9a9" stroke-width="1.7" stroke-linecap="round" stroke-linejoin="round"/>
<polyline points="1160.1,308.0 1160.0,307.7 1159.1,305.6 1158.2,303.4 1157.2,301.1 1156.3,298.9 1155.4,296.6 1154.4,294.3 1153.5,291.9 1152.5,289.5 1151.6,287.1 1150.6,284.7 1149.7,282.2 1148.7,279.7 1147.7,277.2 1146.8,274.6 1145.8,272.1 1144.8,269.4 1144.0,267.3" fill="none" stroke="#43e9a9" stroke-width="1.7" stroke-linecap="round" stroke-linejoin="round"/>
<polyline points="1144.0,267.3 1143.8,266.8" fill="none" stroke="#43e9a9" stroke-width="1.7" stroke-linecap="round" stroke-linejoin="round"/>
<polyline points="814.1,465.2 816.6,464.1 819.0,463.0 821.5,461.8 824.0,460.7 826.4,459.5 828.9,458.4 831.4,457.2 833.9,456.1 836.4,454.9 838.9,453.8 841.3,452.6 843.8,451.5 846.3,450.3 848.9,449.2 851.4,448.0 853.9,446.8 856.4,445.7 858.9,444.5 861.4,443.3 864.0,442.2 866.5,441.0 869.0,439.8 871.6,438.6 874.1,437.5 876.6,436.3 879.2,435.1 881.7,433.9 884.3,432.8 886.8,431.6 889.4,430.4 890.2,430.0" fill="none" stroke="#1f9a68" stroke-width="1.7" stroke-linecap="round" stroke-linejoin="round"/>
<polyline points="890.2,430.0 892.0,429.2 894.5,428.0 897.1,426.8 899.7,425.6 902.3,424.4 904.8,423.2 907.4,422.0 910.0,420.8 912.6,419.6 915.2,418.4 917.8,417.2 920.4,416.0 923.0,414.8 925.6,413.6 928.3,412.4 930.9,411.2 933.5,410.0 936.1,408.8 938.8,407.5 941.4,406.3 944.0,405.1 946.7,403.9 949.3,402.7 952.0,401.4 954.6,400.2 957.3,399.0 959.9,397.7 962.6,396.5 965.3,395.3 967.9,394.0 970.6,392.8 973.3,391.6 973.9,391.3" fill="none" stroke="#22c03a" stroke-width="1.7" stroke-linecap="round" stroke-linejoin="round"/>
<polyline points="973.9,391.3 976.0,390.3 978.7,389.1 981.4,387.8 984.1,386.6 986.8,385.3 989.5,384.1 992.2,382.8 994.9,381.6 997.6,380.3 1000.3,379.1 1003.0,377.8 1005.8,376.5 1008.5,375.3 1011.2,374.0 1014.0,372.7 1016.7,371.5 1019.5,370.2 1022.2,368.9 1025.0,367.6 1027.7,366.4 1030.5,365.1 1033.3,363.8 1036.0,362.5 1038.8,361.2 1041.6,360.0 1044.4,358.7 1047.1,357.4 1049.9,356.1 1052.7,354.8 1055.5,353.5 1058.3,352.2 1061.1,350.9 1061.5,350.8" fill="none" stroke="#3f52cc" stroke-width="1.7" stroke-linecap="round" stroke-linejoin="round"/>
<polyline points="1061.5,350.8 1064.0,349.6 1066.8,348.3 1069.6,347.0 1072.4,345.7 1075.2,344.4 1078.1,343.1 1080.9,341.8 1083.8,340.4 1086.6,339.1 1089.4,337.8 1092.3,336.5 1095.2,335.2 1098.0,333.8 1100.9,332.5 1103.8,331.2 1106.6,329.9 1109.5,328.5 1112.4,327.2 1115.3,325.9 1118.2,324.5 1121.1,323.2 1124.0,321.8 1126.9,320.5 1129.8,319.1 1132.7,317.8 1135.6,316.4 1138.5,315.1 1141.5,313.7 1144.4,312.4 1147.3,311.0 1150.3,309.7 1153.2,308.3 1153.3,308.3" fill="none" stroke="#43e9a9" stroke-width="1.7" stroke-linecap="round" stroke-linejoin="round"/>
<polyline points="1153.3,308.3 1156.2,306.9 1159.1,305.6 1162.1,304.2 1165.0,302.8 1168.0,301.5 1171.0,300.1 1173.9,298.7 1176.9,297.3 1179.9,295.9 1182.9,294.6 1185.9,293.2 1188.9,291.8 1191.9,290.4 1194.9,289.0 1197.9,287.6 1200.9,286.2 1203.9,284.8 1207.0,283.4 1210.0,282.0 1213.0,280.6 1216.1,279.2 1219.1,277.8 1222.2,276.4 1225.2,275.0 1228.3,273.6 1231.3,272.1 1234.4,270.7 1237.5,269.3 1240.6,267.9 1243.6,266.5 1246.7,265.0 1249.6,263.7" fill="none" stroke="#43e9a9" stroke-width="1.7" stroke-linecap="round" stroke-linejoin="round"/>
<polyline points="1249.6,263.7 1249.8,263.6 1252.9,262.2 1256.0,260.7" fill="none" stroke="#43e9a9" stroke-width="1.7" stroke-linecap="round" stroke-linejoin="round"/>
<polyline points="1308.6,392.0 1308.0,392.7 1307.4,393.4 1306.8,394.1 1306.1,394.8 1305.5,395.5 1304.9,396.1 1304.3,396.8 1303.7,397.4 1303.1,398.0 1302.4,398.5 1301.8,399.1 1301.2,399.6 1300.6,400.2 1299.9,400.7 1299.3,401.1 1298.7,401.6 1298.1,402.1 1297.4,402.5 1296.8,402.9 1296.2,403.3 1295.6,403.7 1294.9,404.0 1294.3,404.4 1293.7,404.7 1293.0,405.0 1292.4,405.3 1291.8,405.6 1291.1,405.8 1290.5,406.0 1289.8,406.3 1289.2,406.5 1288.6,406.6 1287.9,406.8 1287.3,406.9 1286.6,407.0 1286.0,407.1 1285.3,407.2 1284.7,407.3 1284.0,407.3 1283.4,407.3 1282.7,407.3 1282.1,407.3 1281.4,407.3 1280.8,407.2 1280.1,407.1 1279.5,407.0 1278.8,406.9 1278.1,406.8 1277.5,406.6 1276.8,406.4 1276.2,406.2 1275.5,406.0 1274.8,405.8 1274.2,405.5 1273.5,405.2 1272.8,404.9 1272.1,404.6 1271.5,404.2 1270.8,403.9 1270.1,403.5 1269.4,403.1 1268.8,402.7 1268.1,402.2 1267.4,401.7 1266.7,401.2 1266.0,400.7 1265.4,400.2 1265.2,400.0" fill="none" stroke="#1f9a68" stroke-width="1.7" stroke-linecap="round" stroke-linejoin="round"/>
<polyline points="1265.2,400.0 1264.7,399.6 1264.0,399.0 1263.3,398.4 1262.6,397.8 1261.9,397.1 1261.2,396.5 1260.5,395.8 1259.8,395.1 1259.1,394.3 1258.4,393.6 1257.7,392.8 1257.0,392.0 1256.3,391.1 1255.6,390.3 1254.9,389.4 1254.2,388.5 1253.5,387.6 1252.7,386.6 1252.0,385.6 1251.3,384.6 1250.6,383.6 1249.9,382.6 1249.1,381.5 1248.4,380.4 1247.7,379.3 1247.0,378.1 1246.2,377.0 1245.5,375.8 1245.3,375.5" fill="none" stroke="#22c03a" stroke-width="1.7" stroke-linecap="round" stroke-linejoin="round"/>
<polyline points="1245.3,375.5 1244.8,374.5 1244.0,373.3 1243.3,372.0 1242.5,370.7 1241.8,369.4 1241.1,368.1 1240.3,366.7 1239.6,365.3 1238.8,363.9 1238.1,362.4 1237.3,360.9 1236.6,359.4 1235.8,357.9 1235.0,356.3 1234.3,354.7 1233.5,353.1 1232.7,351.5 1232.0,349.8 1231.2,348.1 1230.4,346.4 1229.7,344.6 1229.1,343.4" fill="none" stroke="#3f52cc" stroke-width="1.7" stroke-linecap="round" stroke-linejoin="round"/>
<polyline points="1229.1,343.4 1228.9,342.8 1228.1,341.0 1227.3,339.2 1226.5,337.3 1225.7,335.4 1225.0,333.5 1224.2,331.5 1223.4,329.6 1222.6,327.5 1221.8,325.5 1221.0,323.4 1220.2,321.3 1219.4,319.2 1218.6,317.0 1217.7,314.8 1216.9,312.6 1216.1,310.4 1215.3,308.1 1214.6,306.2" fill="none" stroke="#43e9a9" stroke-width="1.7" stroke-linecap="round" stroke-linejoin="round"/>
<polyline points="1214.6,306.2 1214.5,305.7 1213.7,303.4 1212.8,301.0 1212.0,298.6 1211.2,296.1 1210.3,293.7 1209.5,291.2 1208.7,288.6 1207.8,286.0 1207.0,283.4 1206.1,280.8 1205.3,278.1 1204.4,275.4 1203.6,272.6 1202.7,269.9 1201.8,267.0 1201.2,264.9" fill="none" stroke="#43e9a9" stroke-width="1.7" stroke-linecap="round" stroke-linejoin="round"/>
<polyline points="1201.2,264.9 1201.0,264.2 1200.1,261.3 1199.2,258.4 1198.4,255.4 1197.5,252.4 1196.6,249.4 1195.7,246.3 1194.8,243.2 1193.9,240.1 1193.0,236.9" fill="none" stroke="#43e9a9" stroke-width="1.7" stroke-linecap="round" stroke-linejoin="round"/>
<polyline points="1310.5,402.1 1307.8,401.9 1305.0,401.8 1302.2,401.7 1299.4,401.5 1296.7,401.4 1294.0,401.3 1291.3,401.2 1288.6,401.0 1286.0,400.9 1283.4,400.8 1280.8,400.7 1278.2,400.6 1275.6,400.5 1273.1,400.4 1270.6,400.3 1268.1,400.2 1265.7,400.1 1263.2,400.0 1260.8,399.9 1258.4,399.8 1256.0,399.7 1253.7,399.6 1251.3,399.5 1249.0,399.4 1246.7,399.4 1244.4,399.3 1242.2,399.2 1239.9,399.1 1237.7,399.1 1235.5,399.0 1233.3,398.9 1231.1,398.9 1229.0,398.8 1226.9,398.7 1224.7,398.7 1222.6,398.6 1220.6,398.6 1218.5,398.5 1216.4,398.4 1214.4,398.4 1212.4,398.3 1210.4,398.3 1208.4,398.3 1206.4,398.2 1204.5,398.2 1202.5,398.1 1200.6,398.1 1198.7,398.1 1196.8,398.0 1194.9,398.0 1193.0,397.9 1191.2,397.9 1189.3,397.9 1187.5,397.9 1185.7,397.8 1183.9,397.8 1182.1,397.8 1180.3,397.8 1178.5,397.7 1176.8,397.7 1175.1,397.7 1173.3,397.7 1171.6,397.7 1169.9,397.7 1168.2,397.7 1166.5,397.6 1164.9,397.6 1163.2,397.6 1161.6,397.6 1159.9,397.6 1158.3,397.6 1156.7,397.6 1155.1,397.6 1153.5,397.6 1152.0,397.6 1150.4,397.6 1148.8,397.6 1147.3,397.6 1145.8,397.6 1144.2,397.6 1142.7,397.6 1141.2,397.7 1139.7,397.7 1138.2,397.7 1136.8,397.7 1135.3,397.7 1133.8,397.7 1132.4,397.7 1130.9,397.8 1129.5,397.8 1128.1,397.8 1126.7,397.8 1125.3,397.8 1123.9,397.9 1122.5,397.9 1121.1,397.9 1119.8,397.9 1118.4,398.0 1117.1,398.0 1115.7,398.0 1114.4,398.0 1113.0,398.1 1111.7,398.1 1110.4,398.1 1109.1,398.2 1107.8,398.2 1106.5,398.2 1105.3,398.3 1104.0,398.3 1102.7,398.4 1101.5,398.4 1100.2,398.4 1099.0,398.5 1097.7,398.5 1096.5,398.6 1095.3,398.6 1094.1,398.6 1092.9,398.7 1091.7,398.7 1090.5,398.8 1089.3,398.8 1088.1,398.9 1086.9,398.9 1085.8,399.0 1084.6,399.0 1083.4,399.1 1082.3,399.1 1081.1,399.2 1080.0,399.2 1078.9,399.3 1077.8,399.3 1076.6,399.4 1075.5,399.4 1074.4,399.5 1073.3,399.6 1072.2,399.6 1071.1,399.7 1070.0,399.7 1069.0,399.8 1067.9,399.9 1066.8,399.9 1065.8,400.0 1064.7,400.0 1063.7,400.1 1062.6,400.2 1061.6,400.2 1060.5,400.3 1059.5,400.4 1058.5,400.4 1057.5,400.5 1056.5,400.6 1055.4,400.6 1054.4,400.7 1053.4,400.8 1052.4,400.9 1051.5,400.9 1050.5,401.0 1049.5,401.1 1048.5,401.1 1047.5,401.2 1046.6,401.3 1045.6,401.4 1044.7,401.4 1043.7,401.5 1042.8,401.6 1041.8,401.7 1040.9,401.8 1039.9,401.8 1039.0,401.9 1038.1,402.0 1037.2,402.1 1036.2,402.1 1035.3,402.2 1034.4,402.3 1033.5,402.4 1032.6,402.5 1031.7,402.6 1030.8,402.6 1029.9,402.7 1029.0,402.8 1028.2,402.9 1027.3,403.0 1026.4,403.1 1025.5,403.2 1024.7,403.2 1023.8,403.3 1022.9,403.4 1022.1,403.5 1021.2,403.6 1020.4,403.7 1019.5,403.8 1018.7,403.9 1017.8,404.0 1017.0,404.0 1016.2,404.1 1015.4,404.2 1014.5,404.3 1013.7,404.4 1012.9,404.5 1012.1,404.6 1011.3,404.7 1010.5,404.8 1009.6,404.9 1008.8,405.0 1008.0,405.1 1007.2,405.2 1006.5,405.3 1005.7,405.4 1004.9,405.5 1004.1,405.6 1003.3,405.7 1002.5,405.8 1001.8,405.9 1001.0,406.0 1000.2,406.1 999.5,406.2 998.7,406.3 997.9,406.4 997.2,406.5 996.4,406.6 995.7,406.7 994.9,406.8 994.2,406.9 993.4,407.0 992.7,407.1 991.9,407.2 991.2,407.3 990.5,407.4 989.7,407.5 989.0,407.6 988.3,407.7 987.6,407.8 986.8,408.0 986.1,408.1 985.4,408.2 984.7,408.3 984.0,408.4 983.3,408.5 982.6,408.6 981.9,408.7 981.2,408.8 980.5,408.9 979.8,409.0 979.1,409.2 978.4,409.3 977.7,409.4 977.0,409.5 976.3,409.6 975.6,409.7 975.0,409.8 974.3,409.9 973.6,410.1 972.9,410.2 972.3,410.3 971.6,410.4 970.9,410.5 970.3,410.6 969.6,410.8 968.9,410.9 968.3,411.0 967.6,411.1 967.0,411.2 966.3,411.3 965.7,411.5 965.0,411.6 964.4,411.7 963.7,411.8 963.1,411.9 962.4,412.0 961.8,412.2 961.2,412.3 960.5,412.4 959.9,412.5 959.2,412.7 958.6,412.8 958.0,412.9 957.4,413.0 956.7,413.1 956.1,413.3 955.5,413.4 954.9,413.5 954.3,413.6 953.6,413.8 953.0,413.9 952.4,414.0 951.8,414.1 951.2,414.2 950.6,414.4 950.0,414.5 949.4,414.6 948.8,414.8 948.2,414.9 947.6,415.0 947.0,415.1 946.4,415.3 945.8,415.4 945.2,415.5 944.6,415.6 944.0,415.8 943.4,415.9 942.8,416.0 942.2,416.2 941.7,416.3 941.1,416.4 940.5,416.5 939.9,416.7 939.3,416.8 938.8,416.9 938.2,417.1 937.6,417.2 937.0,417.3 936.5,417.5 935.9,417.6 935.3,417.7 934.7,417.8 934.2,418.0 933.6,418.1 933.1,418.2 932.5,418.4 931.9,418.5 931.4,418.6 930.8,418.8 930.3,418.9 929.7,419.0 929.1,419.2 928.6,419.3 928.0,419.5 927.5,419.6 926.9,419.7 926.4,419.9 925.8,420.0 925.3,420.1 924.8,420.3 924.2,420.4 923.7,420.5 923.1,420.7 922.6,420.8 922.1,420.9 921.5,421.1 921.0,421.2 920.4,421.4 919.9,421.5 919.4,421.6 918.8,421.8 918.3,421.9 917.8,422.1 917.3,422.2 916.7,422.3 916.2,422.5 915.7,422.6 915.2,422.8 914.6,422.9 914.1,423.0 913.6,423.2 913.1,423.3 912.6,423.5 912.0,423.6 911.5,423.7 911.0,423.9 910.5,424.0 910.0,424.2 909.5,424.3 908.9,424.5 908.4,424.6 907.9,424.7 907.4,424.9 906.9,425.0 906.4,425.2 905.9,425.3 905.4,425.5 904.9,425.6 904.4,425.8 903.9,425.9 903.4,426.0 902.9,426.2 902.4,426.3 901.9,426.5 901.4,426.6 900.9,426.8 900.4,426.9 899.9,427.1 899.4,427.2 898.9,427.4 898.4,427.5 897.9,427.7 897.4,427.8 896.9,427.9 896.4,428.1 896.0,428.2 895.5,428.4 895.0,428.5 894.5,428.7 894.0,428.8 893.5,429.0 893.0,429.1 892.6,429.3 892.1,429.4 891.6,429.6 891.1,429.7 890.6,429.9 890.2,430.0 889.7,430.2 889.2,430.3 888.7,430.5 888.2,430.6 887.8,430.8 887.3,430.9 886.8,431.1 886.4,431.2 885.9,431.4 885.4,431.5 884.9,431.7 884.5,431.9 884.0,432.0 883.5,432.2 883.1,432.3 882.6,432.5 882.1,432.6 881.7,432.8 881.2,432.9 880.7,433.1 880.3,433.2 879.8,433.4 879.3,433.5 878.9,433.7 878.4,433.9 877.9,434.0 877.5,434.2 877.0,434.3 876.6,434.5 876.1,434.6 875.7,434.8 875.2,434.9 874.7,435.1 874.3,435.3 873.8,435.4 873.4,435.6 872.9,435.7 872.5,435.9 872.0,436.0 871.6,436.2 871.1,436.4 870.6,436.5 870.2,436.7 869.7,436.8 869.3,437.0 868.8,437.1 868.4,437.3 868.0,437.5 867.5,437.6 867.1,437.8 866.6,437.9 866.2,438.1 865.7,438.3 865.3,438.4 864.8,438.6 864.4,438.7 863.9,438.9 863.5,439.1 863.1,439.2 862.6,439.4 862.2,439.5 861.7,439.7 861.3,439.9 860.8,440.0 860.4,440.2 860.0,440.4 859.5,440.5 859.1,440.7 858.7,440.8 858.2,441.0 857.8,441.2 857.3,441.3 856.9,441.5 856.5,441.7 856.0,441.8 855.6,442.0 855.2,442.1 854.7,442.3 854.3,442.5 853.9,442.6" fill="none" stroke="#21b744" stroke-width="1.5" stroke-linecap="round" stroke-linejoin="round"/>
<polyline points="1293.6,376.4 1293.3,376.3 1291.1,376.3 1289.0,376.2 1286.9,376.2 1284.8,376.2 1282.7,376.1 1280.7,376.1 1278.6,376.0 1276.6,376.0 1274.6,375.9 1272.5,375.9 1270.5,375.9 1268.5,375.8 1266.6,375.8 1264.6,375.8 1262.6,375.7 1260.7,375.7 1258.8,375.7 1256.8,375.6 1254.9,375.6 1253.0,375.6 1251.1,375.6 1249.3,375.5 1247.4,375.5 1245.5,375.5 1243.7,375.5 1241.9,375.5 1240.0,375.4 1238.2,375.4 1236.4,375.4 1234.6,375.4 1232.9,375.4 1231.1,375.4 1229.3,375.4 1227.6,375.4 1225.8,375.3 1224.1,375.3 1222.4,375.3 1220.7,375.3 1219.0,375.3 1217.3,375.3 1215.6,375.3 1213.9,375.3 1212.2,375.3 1210.6,375.3 1208.9,375.3 1207.3,375.3 1205.7,375.3 1204.0,375.3 1202.4,375.3 1200.8,375.3 1199.2,375.3 1197.6,375.4 1196.1,375.4 1194.5,375.4 1192.9,375.4 1191.4,375.4 1189.8,375.4 1188.3,375.4 1186.8,375.4 1185.2,375.5 1183.7,375.5 1182.2,375.5 1180.7,375.5 1179.2,375.5 1177.7,375.5 1176.3,375.6 1174.8,375.6 1173.3,375.6 1171.9,375.6 1170.4,375.7 1169.0,375.7 1167.6,375.7 1166.1,375.7 1164.7,375.8 1163.3,375.8 1161.9,375.8 1160.5,375.8 1159.1,375.9 1157.7,375.9 1156.3,375.9 1155.0,376.0 1153.6,376.0 1152.2,376.0 1150.9,376.1 1149.5,376.1 1148.2,376.1 1146.9,376.2 1145.5,376.2 1144.2,376.3 1142.9,376.3 1141.6,376.3 1140.3,376.4 1139.0,376.4 1137.7,376.5 1136.4,376.5 1135.1,376.5 1133.9,376.6 1132.6,376.6 1131.3,376.7 1130.1,376.7 1128.8,376.8 1127.6,376.8 1126.4,376.9 1125.1,376.9 1123.9,377.0 1122.7,377.0 1121.5,377.1 1120.2,377.1 1119.0,377.2 1117.8,377.2 1116.6,377.3 1115.4,377.3 1114.3,377.4 1113.1,377.4 1111.9,377.5 1110.7,377.6 1109.6,377.6 1108.4,377.7 1107.2,377.7 1106.1,377.8 1104.9,377.8 1103.8,377.9 1102.7,378.0 1101.5,378.0 1100.4,378.1 1099.3,378.1 1098.2,378.2 1097.0,378.3 1095.9,378.3 1094.8,378.4 1093.7,378.5 1092.6,378.5 1091.5,378.6 1090.4,378.7 1089.4,378.7 1088.3,378.8 1087.2,378.9 1086.1,378.9 1085.1,379.0 1084.0,379.1 1083.0,379.1 1081.9,379.2 1080.8,379.3 1079.8,379.3 1078.8,379.4 1077.7,379.5 1076.7,379.6 1075.7,379.6 1074.6,379.7 1073.6,379.8 1072.6,379.9 1071.6,379.9 1070.6,380.0 1069.6,380.1 1068.6,380.2 1067.6,380.2 1066.6,380.3 1065.6,380.4 1064.6,380.5 1063.6,380.5 1062.6,380.6 1061.6,380.7 1060.7,380.8 1059.7,380.9 1058.7,380.9 1057.8,381.0 1056.8,381.1 1055.8,381.2 1054.9,381.3 1053.9,381.4 1053.0,381.4 1052.0,381.5 1051.1,381.6 1050.2,381.7 1049.2,381.8 1048.3,381.9 1047.4,382.0 1046.4,382.0 1045.5,382.1 1044.6,382.2 1043.7,382.3 1042.8,382.4 1041.9,382.5 1041.0,382.6 1040.1,382.7 1039.2,382.7 1038.3,382.8 1037.4,382.9 1036.5,383.0 1035.6,383.1 1034.7,383.2 1033.8,383.3 1032.9,383.4 1032.1,383.5 1031.2,383.6 1030.3,383.7 1029.4,383.8 1028.6,383.9 1027.7,384.0 1026.9,384.0 1026.0,384.1 1025.1,384.2 1024.3,384.3 1023.4,384.4 1022.6,384.5 1021.7,384.6 1020.9,384.7 1020.1,384.8 1019.2,384.9 1018.4,385.0 1017.6,385.1 1016.7,385.2 1015.9,385.3 1015.1,385.4 1014.3,385.5 1013.4,385.6 1012.6,385.7 1011.8,385.8 1011.0,385.9 1010.2,386.0 1009.4,386.1 1008.6,386.2 1007.8,386.3 1007.0,386.4 1006.2,386.5 1005.4,386.6 1004.6,386.7 1003.8,386.9 1003.0,387.0 1002.2,387.1 1001.4,387.2 1000.7,387.3 999.9,387.4 999.1,387.5 998.3,387.6 997.6,387.7 996.8,387.8 996.0,387.9 995.2,388.0 994.5,388.1 993.7,388.2 993.0,388.4 992.2,388.5 991.4,388.6 990.7,388.7 989.9,388.8 989.2,388.9 988.4,389.0 987.7,389.1 986.9,389.2 986.2,389.4 985.5,389.5 984.7,389.6 984.0,389.7 983.2,389.8 982.5,389.9 981.8,390.0 981.0,390.1 980.3,390.3 979.6,390.4 978.9,390.5 978.1,390.6 977.4,390.7 976.7,390.8 976.0,391.0 975.3,391.1 974.6,391.2 973.9,391.3 973.1,391.4 972.4,391.5 971.7,391.7 971.0,391.8 970.3,391.9 969.6,392.0 968.9,392.1 968.2,392.2 967.5,392.4 966.8,392.5 966.1,392.6 965.4,392.7 964.8,392.8 964.1,393.0 963.4,393.1 962.7,393.2 962.0,393.3 961.3,393.5 960.6,393.6 960.0,393.7 959.3,393.8 958.6,393.9 957.9,394.1 957.3,394.2 956.6,394.3 955.9,394.4 955.3,394.6 954.6,394.7 953.9,394.8 953.3,394.9 952.6,395.1 951.9,395.2 951.3,395.3 950.6,395.4 950.0,395.6 949.3,395.7 948.7,395.8 948.0,395.9 947.4,396.1 946.7,396.2 946.1,396.3 945.4,396.4 944.8,396.6 944.1,396.7 943.5,396.8 942.8,397.0 942.2,397.1 941.6,397.2 940.9,397.3 940.3,397.5 939.6,397.6 939.0,397.7 938.4,397.9 937.7,398.0 937.1,398.1 936.5,398.3 935.9,398.4 935.2,398.5 934.6,398.7 934.0,398.8 933.4,398.9 932.7,399.1 932.1,399.2 931.5,399.3 930.9,399.5 930.3,399.6 929.6,399.7 929.0,399.9 928.4,400.0 927.8,400.1 927.2,400.3 926.6,400.4 926.0,400.5 925.4,400.7 924.8,400.8 924.2,400.9 923.5,401.1 922.9,401.2 922.3,401.3 921.7,401.5" fill="none" stroke="#386aab" stroke-width="1.5" stroke-linecap="round" stroke-linejoin="round"/>
<polyline points="1279.9,343.3 1279.5,343.3 1277.7,343.3 1275.8,343.3 1274.0,343.3 1272.2,343.3 1270.4,343.3 1268.6,343.3 1266.9,343.3 1265.1,343.3 1263.3,343.3 1261.6,343.3 1259.9,343.3 1258.1,343.3 1256.4,343.3 1254.7,343.3 1253.0,343.3 1251.3,343.3 1249.6,343.3 1247.9,343.3 1246.2,343.3 1244.5,343.3 1242.9,343.3 1241.2,343.3 1239.6,343.3 1238.0,343.3 1236.3,343.3 1234.7,343.3 1233.1,343.4 1231.5,343.4 1229.9,343.4 1228.3,343.4 1226.7,343.4 1225.1,343.4 1223.5,343.4 1222.0,343.5 1220.4,343.5 1218.9,343.5 1217.3,343.5 1215.8,343.5 1214.3,343.6 1212.7,343.6 1211.2,343.6 1209.7,343.6 1208.2,343.6 1206.7,343.7 1205.2,343.7 1203.7,343.7 1202.3,343.7 1200.8,343.8 1199.3,343.8 1197.9,343.8 1196.4,343.9 1195.0,343.9 1193.5,343.9 1192.1,343.9 1190.7,344.0 1189.2,344.0 1187.8,344.0 1186.4,344.1 1185.0,344.1 1183.6,344.1 1182.2,344.2 1180.8,344.2 1179.5,344.2 1178.1,344.3 1176.7,344.3 1175.3,344.4 1174.0,344.4 1172.6,344.4 1171.3,344.5 1169.9,344.5 1168.6,344.6 1167.3,344.6 1166.0,344.6 1164.6,344.7 1163.3,344.7 1162.0,344.8 1160.7,344.8 1159.4,344.9 1158.1,344.9 1156.8,345.0 1155.5,345.0 1154.2,345.1 1153.0,345.1 1151.7,345.2 1150.4,345.2 1149.2,345.2 1147.9,345.3 1146.7,345.4 1145.4,345.4 1144.2,345.5 1142.9,345.5 1141.7,345.6 1140.5,345.6 1139.3,345.7 1138.0,345.7 1136.8,345.8 1135.6,345.8 1134.4,345.9 1133.2,345.9 1132.0,346.0 1130.8,346.1 1129.6,346.1 1128.5,346.2 1127.3,346.2 1126.1,346.3 1124.9,346.4 1123.8,346.4 1122.6,346.5 1121.4,346.5 1120.3,346.6 1119.1,346.7 1118.0,346.7 1116.9,346.8 1115.7,346.9 1114.6,346.9 1113.5,347.0 1112.3,347.0 1111.2,347.1 1110.1,347.2 1109.0,347.2 1107.9,347.3 1106.8,347.4 1105.7,347.4 1104.6,347.5 1103.5,347.6 1102.4,347.7 1101.3,347.7 1100.2,347.8 1099.1,347.9 1098.0,347.9 1097.0,348.0 1095.9,348.1 1094.8,348.1 1093.8,348.2 1092.7,348.3 1091.6,348.4 1090.6,348.4 1089.5,348.5 1088.5,348.6 1087.5,348.7 1086.4,348.7 1085.4,348.8 1084.3,348.9 1083.3,349.0 1082.3,349.0 1081.3,349.1 1080.3,349.2 1079.2,349.3 1078.2,349.4 1077.2,349.4 1076.2,349.5 1075.2,349.6 1074.2,349.7 1073.2,349.8 1072.2,349.8 1071.2,349.9 1070.2,350.0 1069.2,350.1 1068.3,350.2 1067.3,350.3 1066.3,350.3 1065.3,350.4 1064.4,350.5 1063.4,350.6 1062.4,350.7 1061.5,350.8 1060.5,350.8 1059.5,350.9 1058.6,351.0 1057.6,351.1 1056.7,351.2 1055.8,351.3 1054.8,351.4 1053.9,351.4 1052.9,351.5 1052.0,351.6 1051.1,351.7 1050.1,351.8 1049.2,351.9 1048.3,352.0 1047.4,352.1 1046.4,352.2 1045.5,352.3 1044.6,352.3 1043.7,352.4 1042.8,352.5 1041.9,352.6 1041.0,352.7 1040.1,352.8 1039.2,352.9 1038.3,353.0 1037.4,353.1 1036.5,353.2 1035.6,353.3 1034.7,353.4 1033.9,353.5 1033.0,353.6 1032.1,353.7 1031.2,353.8 1030.3,353.9 1029.5,354.0 1028.6,354.0 1027.7,354.1 1026.9,354.2 1026.0,354.3 1025.1,354.4 1024.3,354.5 1023.4,354.6 1022.6,354.7 1021.7,354.8 1020.9,354.9 1020.0,355.0 1019.2,355.1 1018.3,355.2 1017.5,355.3 1016.7,355.4 1015.8,355.5 1015.0,355.6 1014.1,355.7 1013.3,355.8 1012.5,356.0 1011.7,356.1 1010.8,356.2 1010.0,356.3 1009.2,356.4 1008.4,356.5 1007.6,356.6 1006.7,356.7 1005.9,356.8 1005.1,356.9 1004.3,357.0 1003.5,357.1 1002.7,357.2 1001.9,357.3 1001.1,357.4 1000.3,357.5 999.5,357.6 998.7,357.7 997.9,357.9 997.1,358.0 996.3,358.1 995.5,358.2 994.8,358.3 994.0,358.4 993.2,358.5 992.4,358.6" fill="none" stroke="#42c7b0" stroke-width="1.5" stroke-linecap="round" stroke-linejoin="round"/>
<polyline points="1267.8,305.4 1267.3,305.4 1265.7,305.5 1264.0,305.5 1262.4,305.5 1260.7,305.5 1259.1,305.5 1257.5,305.5 1255.9,305.5 1254.3,305.6 1252.7,305.6 1251.1,305.6 1249.5,305.6 1247.9,305.6 1246.3,305.7 1244.7,305.7 1243.2,305.7 1241.6,305.7 1240.1,305.7 1238.5,305.8 1237.0,305.8 1235.5,305.8 1233.9,305.8 1232.4,305.9 1230.9,305.9 1229.4,305.9 1227.9,305.9 1226.4,306.0 1224.9,306.0 1223.4,306.0 1221.9,306.1 1220.5,306.1 1219.0,306.1 1217.5,306.1 1216.1,306.2 1214.6,306.2 1213.2,306.2 1211.7,306.3 1210.3,306.3 1208.9,306.3 1207.5,306.4 1206.0,306.4 1204.6,306.5 1203.2,306.5 1201.8,306.5 1200.4,306.6 1199.0,306.6 1197.6,306.6 1196.3,306.7 1194.9,306.7 1193.5,306.8 1192.1,306.8 1190.8,306.8 1189.4,306.9 1188.1,306.9 1186.7,307.0 1185.4,307.0 1184.0,307.1 1182.7,307.1 1181.4,307.2 1180.1,307.2 1178.7,307.2 1177.4,307.3 1176.1,307.3 1174.8,307.4 1173.5,307.4 1172.2,307.5 1170.9,307.5 1169.6,307.6 1168.3,307.6 1167.1,307.7 1165.8,307.7 1164.5,307.8 1163.3,307.8 1162.0,307.9 1160.7,307.9 1159.5,308.0 1158.2,308.0 1157.0,308.1 1155.7,308.2 1154.5,308.2 1153.3,308.3 1152.1,308.3 1150.8,308.4 1149.6,308.4 1148.4,308.5 1147.2,308.5 1146.0,308.6 1144.8,308.7 1143.6,308.7 1142.4,308.8 1141.2,308.8 1140.0,308.9 1138.8,309.0 1137.6,309.0 1136.4,309.1 1135.3,309.1 1134.1,309.2 1132.9,309.3 1131.8,309.3 1130.6,309.4 1129.5,309.5 1128.3,309.5 1127.2,309.6 1126.0,309.7 1124.9,309.7 1123.7,309.8 1122.6,309.9 1121.5,309.9 1120.3,310.0 1119.2,310.1 1118.1,310.1 1117.0,310.2 1115.9,310.3 1114.8,310.3 1113.7,310.4 1112.6,310.5 1111.5,310.5 1110.4,310.6 1109.3,310.7 1108.2,310.7 1107.1,310.8 1106.0,310.9 1104.9,311.0 1103.8,311.0 1102.8,311.1 1101.7,311.2 1100.6,311.3 1099.6,311.3 1098.5,311.4 1097.4,311.5 1096.4,311.6 1095.3,311.6 1094.3,311.7 1093.2,311.8 1092.2,311.9 1091.2,311.9 1090.1,312.0 1089.1,312.1 1088.1,312.2 1087.0,312.2 1086.0,312.3 1085.0,312.4 1084.0,312.5 1082.9,312.6 1081.9,312.6 1080.9,312.7 1079.9,312.8 1078.9,312.9 1077.9,313.0 1076.9,313.0 1075.9,313.1 1074.9,313.2 1073.9,313.3 1072.9,313.4 1071.9,313.5 1070.9,313.5 1069.9,313.6 1069.0,313.7 1068.0,313.8 1067.0,313.9 1066.0,314.0" fill="none" stroke="#43e9a9" stroke-width="1.5" stroke-linecap="round" stroke-linejoin="round"/>
<polyline points="1256.7,263.6 1255.7,263.6 1254.2,263.6 1252.7,263.6 1251.1,263.7 1249.6,263.7 1248.1,263.7 1246.6,263.7 1245.1,263.8 1243.6,263.8 1242.1,263.8 1240.6,263.9 1239.1,263.9 1237.6,263.9 1236.1,264.0 1234.7,264.0 1233.2,264.0 1231.7,264.1 1230.3,264.1 1228.8,264.1 1227.4,264.2 1225.9,264.2 1224.5,264.2 1223.1,264.3 1221.7,264.3 1220.2,264.4 1218.8,264.4 1217.4,264.4 1216.0,264.5 1214.6,264.5 1213.2,264.5 1211.8,264.6 1210.4,264.6 1209.0,264.7 1207.7,264.7 1206.3,264.8 1204.9,264.8 1203.5,264.8 1202.2,264.9 1200.8,264.9 1199.5,265.0 1198.1,265.0 1196.8,265.1 1195.5,265.1 1194.1,265.2 1192.8,265.2 1191.5,265.2 1190.1,265.3 1188.8,265.3 1187.5,265.4 1186.2,265.4 1184.9,265.5 1183.6,265.5 1182.3,265.6 1181.0,265.6 1179.7,265.7 1178.4,265.7 1177.2,265.8 1175.9,265.8 1174.6,265.9 1173.3,265.9 1172.1,266.0 1170.8,266.1 1169.6,266.1 1168.3,266.2 1167.1,266.2 1165.8,266.3 1164.6,266.3 1163.3,266.4 1162.1,266.4 1160.9,266.5 1159.6,266.5 1158.4,266.6 1157.2,266.7 1156.0,266.7 1154.8,266.8 1153.6,266.8 1152.4,266.9 1151.2,267.0 1150.0,267.0 1148.8,267.1 1147.6,267.1 1146.4,267.2 1145.2,267.3 1144.0,267.3 1142.8,267.4" fill="none" stroke="#43e9a9" stroke-width="1.5" stroke-linecap="round" stroke-linejoin="round"/>
<polyline points="1246.2,218.1 1245.9,218.2 1244.4,218.2 1243.0,218.2 1241.5,218.3 1240.1,218.3 1238.6,218.3 1237.2,218.4 1235.7,218.4 1234.3,218.4 1232.9,218.5 1231.5,218.5 1230.0,218.6 1228.6,218.6 1227.2,218.6 1225.8,218.7 1224.4,218.7 1223.0,218.8" fill="none" stroke="#43e9a9" stroke-width="1.5" stroke-linecap="round" stroke-linejoin="round"/>
<text transform="translate(879.42,38.50) scale(1.0522,1)" font-size="41.54" font-family="'Liberation Serif','DejaVu Serif',serif" font-style="italic">N</text>
<text transform="translate(908.27,50.61) scale(0.9584,1)" font-size="29.77" font-family="'Liberation Serif','DejaVu Serif',serif" font-style="italic">O</text>
<text transform="translate(939.19,42.09) scale(0.6382,1)" font-size="57.35" font-family="'Liberation Serif','DejaVu Serif',serif">(</text>
<text transform="translate(956.02,38.50) scale(0.9859,1)" font-size="41.54" font-family="'Liberation Serif','DejaVu Serif',serif">NSGA-II</text>
<text transform="translate(1112.42,42.09) scale(0.6382,1)" font-size="57.35" font-family="'Liberation Serif','DejaVu Serif',serif">)</text>
<text transform="translate(734.37,250.42) scale(0.9927,1)" font-size="29.05" font-family="'Liberation Serif','DejaVu Serif',serif">10</text>
<text transform="translate(763.02,239.19) scale(0.9687,1)" font-size="21.19" font-family="'Liberation Serif','DejaVu Serif',serif">8</text>
<text transform="translate(715.80,455.30) scale(1.0237,1)" font-size="29.00" font-family="'Liberation Serif','DejaVu Serif',serif">2</text>
<text transform="translate(735.23,457.79) scale(1.0000,1)" font-size="30.47" font-family="'Liberation Serif','DejaVu Serif',serif">·</text>
<text transform="translate(749.38,455.42) scale(0.9887,1)" font-size="29.05" font-family="'Liberation Serif','DejaVu Serif',serif">10</text>
<text transform="translate(777.78,444.00) scale(1.0112,1)" font-size="21.23" font-family="'Liberation Serif','DejaVu Serif',serif">7</text>
<text transform="translate(768.30,507.00) scale(1.0373,1)" font-size="28.48" font-family="'Liberation Serif','DejaVu Serif',serif">1</text>
<text transform="translate(1190.27,577.72) scale(1.0129,1)" font-size="28.45" font-family="'Liberation Serif','DejaVu Serif',serif">100</text>
<text transform="translate(1242.25,562.52) scale(0.9989,1)" font-size="28.45" font-family="'Liberation Serif','DejaVu Serif',serif">500</text>
<text transform="translate(1366.00,412.70) scale(0.9837,1)" font-size="27.72" font-family="'Liberation Serif','DejaVu Serif',serif">1</text>
<text transform="translate(1303.68,521.30) scale(0.6234,1)" font-size="64.42" font-family="'Liberation Serif','DejaVu Serif',serif">|</text>
<text transform="translate(1355.58,521.30) scale(0.6234,1)" font-size="64.42" font-family="'Liberation Serif','DejaVu Serif',serif">|</text>
<text transform="translate(1314.87,518.88) scale(1.1328,1)" font-size="41.17" font-family="'DejaVu Math TeX Gyre','Liberation Serif',serif">𝒫</text>
<text transform="translate(969.86,596.50) scale(1.0421,1)" font-size="46.73" font-family="'Liberation Serif','DejaVu Serif',serif" font-style="italic">N</text>
<text transform="translate(1002.59,609.60) scale(1.1200,1)" font-size="31.26" font-family="'Liberation Serif','DejaVu Serif',serif" font-style="italic">i</text>
<text transform="translate(1011.84,609.27) scale(1.0411,1)" font-size="34.05" font-family="'Liberation Serif','DejaVu Serif',serif" font-style="italic">t</text>
<text transform="translate(979.91,665.92) scale(1.1497,1)" font-size="37.50" font-family="'Liberation Serif','DejaVu Serif',serif" font-weight="bold">(b)</text>
</g>
<g id="pc">
<line x1="492.8" y1="1184.8" x2="477.7" y2="831.6" stroke="#c2c2c2" stroke-width="1.25"/>
<line x1="673.8" y1="1056.8" x2="668.9" y2="761.7" stroke="#c2c2c2" stroke-width="1.25"/>
<line x1="1048.3" y1="1098.4" x2="1059.7" y2="784.0" stroke="#c2c2c2" stroke-width="1.25"/>
<line x1="477.7" y1="831.6" x2="668.9" y2="761.7" stroke="#c2c2c2" stroke-width="1.25"/>
<line x1="668.9" y1="761.7" x2="1059.7" y2="784.0" stroke="#c2c2c2" stroke-width="1.25"/>
<line x1="492.8" y1="1184.8" x2="673.8" y2="1056.8" stroke="#c2c2c2" stroke-width="1.25"/>
<line x1="673.8" y1="1056.8" x2="1048.3" y2="1098.4" stroke="#c2c2c2" stroke-width="1.25"/>
<line x1="492.8" y1="1184.8" x2="936.6" y2="1246.6" stroke="#989898" stroke-width="1.5"/>
<line x1="936.6" y1="1246.6" x2="1048.3" y2="1098.4" stroke="#989898" stroke-width="1.5"/>
<polyline points="489.9,1116.9 672.8,999.6 1050.5,1037.7" fill="none" stroke="#151515" stroke-width="1.35" stroke-linejoin="round"/>
<polyline points="486.9,1047.6 671.9,941.6 1052.8,975.9" fill="none" stroke="#151515" stroke-width="1.35" stroke-linejoin="round"/>
<polyline points="483.9,977.0 670.9,882.6 1055.0,913.0" fill="none" stroke="#151515" stroke-width="1.35" stroke-linejoin="round"/>
<polyline points="480.8,905.0 669.9,822.6 1057.3,849.1" fill="none" stroke="#151515" stroke-width="1.35" stroke-linejoin="round"/>
<polyline points="673.8,1056.8 676.0,1057.0 678.2,1057.2 680.4,1057.5 682.6,1057.7 684.8,1058.0 687.0,1058.2 689.2,1058.5 691.4,1058.7 693.6,1059.0 695.8,1059.2 698.0,1059.5 700.2,1059.7 702.4,1059.9 704.6,1060.2 706.9,1060.4 709.1,1060.7 711.3,1060.9 713.5,1061.2 715.7,1061.4 718.0,1061.7 720.2,1061.9 722.4,1062.2 724.6,1062.4 726.9,1062.7 729.1,1062.9 731.3,1063.2 733.6,1063.4 735.8,1063.7 738.1,1063.9 740.3,1064.2 742.6,1064.4 744.8,1064.7 747.0,1064.9 749.3,1065.2 751.6,1065.4 753.8,1065.7 756.1,1065.9 758.3,1066.2 760.6,1066.4 762.8,1066.7 765.1,1066.9 767.4,1067.2 769.6,1067.4 771.9,1067.7 774.2,1067.9 776.5,1068.2 778.7,1068.4 781.0,1068.7 783.3,1068.9 785.6,1069.2 787.8,1069.4 790.1,1069.7 792.4,1070.0 794.7,1070.2 797.0,1070.5 799.3,1070.7 801.6,1071.0 803.9,1071.2 806.2,1071.5 808.5,1071.7 810.8,1072.0 813.1,1072.3 815.4,1072.5 817.7,1072.8 820.0,1073.0 822.3,1073.3 824.6,1073.5 826.9,1073.8 829.2,1074.0 831.6,1074.3 833.9,1074.6 836.2,1074.8 838.5,1075.1 840.9,1075.3 843.2,1075.6 845.5,1075.9 847.8,1076.1 850.2,1076.4 852.5,1076.6 854.8,1076.9 857.2,1077.2 859.5,1077.4 861.9,1077.7 864.2,1077.9 866.6,1078.2 868.9,1078.5 871.3,1078.7 873.6,1079.0 876.0,1079.2 878.3,1079.5 880.7,1079.8 883.0,1080.0 885.4,1080.3 887.8,1080.6 890.1,1080.8 892.5,1081.1 894.9,1081.4 897.3,1081.6 899.6,1081.9 902.0,1082.1 904.4,1082.4 906.8,1082.7 909.1,1082.9 911.5,1083.2 913.9,1083.5 916.3,1083.7 918.7,1084.0 921.1,1084.3 923.5,1084.5 925.9,1084.8 928.3,1085.1 930.7,1085.3 933.1,1085.6 935.5,1085.9 937.9,1086.1 940.3,1086.4 942.7,1086.7 945.1,1086.9 947.5,1087.2 950.0,1087.5 952.4,1087.7 954.8,1088.0 957.2,1088.3 959.7,1088.6 962.1,1088.8 964.5,1089.1 966.9,1089.4 969.4,1089.6 971.8,1089.9 974.2,1090.2 976.7,1090.4 979.1,1090.7 981.6,1091.0 984.0,1091.3 986.5,1091.5 988.9,1091.8 991.4,1092.1 993.8,1092.4 996.3,1092.6 998.7,1092.9 1001.2,1093.2 1003.7,1093.4 1006.1,1093.7 1008.6,1094.0 1011.1,1094.3 1013.5,1094.5 1016.0,1094.8 1018.5,1095.1 1021.0,1095.4 1023.4,1095.6 1025.9,1095.9 1028.4,1096.2 1030.9,1096.5 1033.4,1096.8 1035.9,1097.0 1038.4,1097.3 1040.9,1097.6 1043.3,1097.9 1045.8,1098.1 1048.3,1098.4" fill="none" stroke="#1f9a68" stroke-width="1.45" stroke-linecap="round" stroke-linejoin="round"/>
<polyline points="492.6,1181.8 495.1,1180.2 497.6,1178.7 500.1,1177.2 502.6,1175.7 505.1,1174.2 507.6,1172.6 510.1,1171.1 512.6,1169.6 515.1,1168.1 517.6,1166.5 520.1,1165.0 522.7,1163.5 525.2,1161.9 527.7,1160.4 530.3,1158.8 532.8,1157.3 535.3,1155.7 537.9,1154.2 540.4,1152.6 543.0,1151.1 545.5,1149.5 548.1,1147.9 550.7,1146.4 553.2,1144.8 555.8,1143.2 558.4,1141.7 561.0,1140.1 563.6,1138.5 566.1,1136.9 568.7,1135.4 571.3,1133.8 573.9,1132.2 576.5,1130.6 579.2,1129.0 580.3,1128.3" fill="none" stroke="#1f9a68" stroke-width="1.45" stroke-linecap="round" stroke-linejoin="round"/>
<polyline points="580.3,1128.3 581.8,1127.4 584.4,1125.8 587.0,1124.2 589.6,1122.6 592.3,1121.0 594.9,1119.4 597.5,1117.8 600.2,1116.2 602.8,1114.6 605.5,1113.0 608.1,1111.3 610.8,1109.7 613.4,1108.1 616.1,1106.5 618.8,1104.8 621.5,1103.2 624.1,1101.6 626.8,1099.9 629.5,1098.3 632.2,1096.7 634.9,1095.0 637.6,1093.4 640.3,1091.7 643.0,1090.1 645.7,1088.4 648.4,1086.8 651.2,1085.1 653.9,1083.4 656.6,1081.8 659.4,1080.1 662.1,1078.4 664.8,1076.8 667.6,1075.1 670.3,1073.4 673.1,1071.7 675.9,1070.1 677.2,1069.2" fill="none" stroke="#22c03a" stroke-width="1.45" stroke-linecap="round" stroke-linejoin="round"/>
<polyline points="677.2,1069.2 678.6,1068.4 681.4,1066.7 684.2,1065.0 686.9,1063.3 689.7,1061.6 692.5,1059.9 695.3,1058.2 698.1,1056.5 700.9,1054.8 703.7,1053.1 706.5,1051.4 709.3,1049.6 712.1,1047.9 715.0,1046.2 717.8,1044.5 720.6,1042.8 723.5,1041.0 726.3,1039.3 729.1,1037.6 732.0,1035.8 734.9,1034.1 737.7,1032.3 740.6,1030.6 743.4,1028.8 746.3,1027.1 749.2,1025.3 752.1,1023.6 755.0,1021.8 757.9,1020.1 760.8,1018.3 763.7,1016.5 766.6,1014.7 769.5,1013.0 772.4,1011.2 775.3,1009.4 778.2,1007.6 779.8,1006.7" fill="none" stroke="#3f52cc" stroke-width="1.45" stroke-linecap="round" stroke-linejoin="round"/>
<polyline points="779.8,1006.7 781.2,1005.8 784.1,1004.1 787.0,1002.3 790.0,1000.5 792.9,998.7 795.9,996.9 798.9,995.1 801.8,993.3 804.8,991.4 807.8,989.6 810.7,987.8 813.7,986.0 816.7,984.2 819.7,982.4 822.7,980.5 825.7,978.7 828.7,976.9 831.7,975.0 834.7,973.2 837.8,971.3 840.8,969.5 843.8,967.6 846.9,965.8 849.9,963.9 853.0,962.1 856.0,960.2 859.1,958.3 862.1,956.5 865.2,954.6 868.3,952.7 871.4,950.9 874.4,949.0 877.5,947.1 880.6,945.2 883.7,943.3 886.8,941.4 888.7,940.3" fill="none" stroke="#43e9a9" stroke-width="1.45" stroke-linecap="round" stroke-linejoin="round"/>
<polyline points="888.7,940.3 889.9,939.5 893.1,937.6 896.2,935.7 899.3,933.8 902.4,931.9 905.6,930.0 908.7,928.1 911.9,926.2 915.0,924.2 918.2,922.3 921.3,920.4 924.5,918.5 927.7,916.5 930.9,914.6 934.1,912.6 937.2,910.7 940.4,908.7 943.6,906.8" fill="none" stroke="#43e9a9" stroke-width="1.45" stroke-linecap="round" stroke-linejoin="round"/>
<polyline points="673.8,1056.8 672.9,1057.4 671.9,1058.1 671.0,1058.7 670.0,1059.4 669.1,1060.1 668.1,1060.7 667.2,1061.4 666.2,1062.0 665.3,1062.7 664.3,1063.4 663.4,1064.0 662.4,1064.7 661.4,1065.4 660.5,1066.0 659.5,1066.7 658.5,1067.4 657.6,1068.0 656.6,1068.7 655.6,1069.4 654.6,1070.1 653.7,1070.8 652.7,1071.4 651.7,1072.1 650.7,1072.8 649.7,1073.5 648.7,1074.2 647.7,1074.9 646.8,1075.5 645.8,1076.2 644.8,1076.9 643.8,1077.6 642.8,1078.3 641.7,1079.0 640.7,1079.7 639.7,1080.4 638.7,1081.1 637.7,1081.8 636.7,1082.5 635.7,1083.2 634.6,1083.9 633.6,1084.6 632.6,1085.3 631.6,1086.1 630.5,1086.8 629.5,1087.5 628.5,1088.2 627.4,1088.9 626.4,1089.6 625.3,1090.4 624.3,1091.1 623.2,1091.8 622.2,1092.5 621.1,1093.2 620.1,1094.0 619.0,1094.7 618.0,1095.4 616.9,1096.2 615.8,1096.9 614.8,1097.6 613.7,1098.4 612.6,1099.1 611.6,1099.9 610.5,1100.6 609.4,1101.4 608.3,1102.1 607.2,1102.8 606.1,1103.6 605.1,1104.3 604.0,1105.1 602.9,1105.9 601.8,1106.6 600.7,1107.4 599.6,1108.1 598.5,1108.9 597.4,1109.7 596.2,1110.4 595.1,1111.2 594.0,1112.0 592.9,1112.7 591.8,1113.5 590.7,1114.3 589.5,1115.1 588.4,1115.8 587.3,1116.6 586.1,1117.4 585.0,1118.2 583.9,1119.0 582.7,1119.8 581.6,1120.5 580.4,1121.3 579.3,1122.1 578.1,1122.9 577.0,1123.7 575.8,1124.5 574.6,1125.3 573.5,1126.1 572.3,1126.9 571.1,1127.7 570.0,1128.5 568.8,1129.3 567.6,1130.2 566.4,1131.0 565.2,1131.8 564.1,1132.6 562.9,1133.4 561.7,1134.2 560.5,1135.1 559.3,1135.9 558.1,1136.7 556.9,1137.6 555.7,1138.4 554.5,1139.2 553.2,1140.1 552.0,1140.9 550.8,1141.7 549.6,1142.6 548.4,1143.4 547.1,1144.3 545.9,1145.1 544.7,1146.0 543.4,1146.8 542.2,1147.7 540.9,1148.5 539.7,1149.4 538.4,1150.2 537.2,1151.1 535.9,1152.0 534.7,1152.8 533.4,1153.7 532.1,1154.6 530.9,1155.4 529.6,1156.3 528.3,1157.2 527.1,1158.1 525.8,1159.0 524.5,1159.8 523.2,1160.7 521.9,1161.6 520.6,1162.5 519.3,1163.4 518.0,1164.3 516.7,1165.2 515.4,1166.1 514.1,1167.0 512.8,1167.9 511.5,1168.8 510.1,1169.7 508.8,1170.6 507.5,1171.5 506.1,1172.5 504.8,1173.4 503.5,1174.3 502.1,1175.2 500.8,1176.2 499.4,1177.1 498.1,1178.0 496.7,1178.9 495.4,1179.9 494.0,1180.8 492.6,1181.8" fill="none" stroke="#1f9a68" stroke-width="1.45" stroke-linecap="round" stroke-linejoin="round"/>
<polyline points="1048.3,1098.4 1047.8,1098.7 1047.2,1098.7 1046.7,1098.6 1046.2,1098.4 1045.6,1098.1 1045.1,1097.8 1044.5,1097.5 1044.0,1097.1 1043.5,1096.7 1042.9,1096.2 1042.4,1095.8 1041.8,1095.3 1041.3,1094.7 1040.8,1094.2 1040.2,1093.6 1039.7,1093.0 1039.1,1092.4 1038.6,1091.8 1038.0,1091.1 1037.5,1090.5 1036.9,1089.8 1036.4,1089.1 1035.8,1088.4 1035.3,1087.7 1034.7,1087.0 1034.2,1086.2 1033.6,1085.5 1033.1,1084.7 1032.5,1083.9 1031.9,1083.1 1031.4,1082.3 1030.8,1081.5 1030.3,1080.7 1029.7,1079.8 1029.1,1079.0 1028.6,1078.1 1028.0,1077.2 1027.4,1076.3 1026.9,1075.5 1026.3,1074.6 1025.7,1073.6 1025.1,1072.7 1024.5,1071.8 1024.0,1070.9 1023.6,1070.2" fill="none" stroke="#1f9a68" stroke-width="1.45" stroke-linecap="round" stroke-linejoin="round"/>
<polyline points="1023.6,1070.2 1023.4,1069.9 1022.8,1068.9 1022.2,1068.0 1021.6,1067.0 1021.1,1066.0 1020.5,1065.0 1019.9,1064.0 1019.3,1063.0 1018.7,1062.0 1018.1,1061.0 1017.5,1059.9 1016.9,1058.9 1016.3,1057.8 1015.7,1056.8 1015.1,1055.7 1014.5,1054.6 1013.9,1053.5 1013.3,1052.4 1012.7,1051.3 1012.1,1050.2 1011.5,1049.1 1010.8,1048.0 1010.2,1046.8 1009.6,1045.7 1009.0,1044.5 1008.4,1043.4 1007.7,1042.2 1007.1,1041.0 1006.5,1039.9 1005.9,1038.7 1005.2,1037.5 1004.6,1036.3 1004.0,1035.0 1003.3,1033.8 1002.7,1032.6 1002.0,1031.4 1002.0,1031.2" fill="none" stroke="#22c03a" stroke-width="1.45" stroke-linecap="round" stroke-linejoin="round"/>
<polyline points="1002.0,1031.2 1001.4,1030.1 1000.8,1028.9 1000.1,1027.6 999.5,1026.3 998.8,1025.1 998.2,1023.8 997.5,1022.5 996.9,1021.2 996.2,1019.9 995.5,1018.6 994.9,1017.2 994.2,1015.9 993.6,1014.6 992.9,1013.2 992.2,1011.9 991.5,1010.5 990.9,1009.1 990.2,1007.8 989.5,1006.4 988.8,1005.0 988.2,1003.6 987.5,1002.2 986.8,1000.8 986.1,999.4 985.4,997.9 984.7,996.5 984.0,995.0 983.3,993.6 982.6,992.1 981.9,990.7 981.2,989.2 980.5,987.7 979.8,986.2 979.6,985.8" fill="none" stroke="#3f52cc" stroke-width="1.45" stroke-linecap="round" stroke-linejoin="round"/>
<polyline points="979.6,985.8 979.1,984.7 978.4,983.2 977.7,981.7 976.9,980.2 976.2,978.6 975.5,977.1 974.8,975.5 974.0,974.0 973.3,972.4 972.6,970.8 971.8,969.3 971.1,967.7 970.4,966.1 969.6,964.5 968.9,962.9 968.1,961.2 967.4,959.6 966.6,958.0 965.9,956.3 965.1,954.7 964.4,953.0 963.6,951.3 962.8,949.7 962.1,948.0 961.3,946.3 960.5,944.6 959.7,942.9 959.0,941.1 958.2,939.4 957.4,937.7 956.6,935.9 955.8,934.2 955.8,934.1" fill="none" stroke="#43e9a9" stroke-width="1.45" stroke-linecap="round" stroke-linejoin="round"/>
<polyline points="955.8,934.1 955.0,932.4 954.2,930.6 953.4,928.9 952.6,927.1 951.8,925.3 951.0,923.5 950.2,921.6 949.4,919.8 948.6,918.0 947.8,916.1 947.0,914.3 946.1,912.4 945.3,910.6 944.5,908.7 943.6,906.8" fill="none" stroke="#43e9a9" stroke-width="1.45" stroke-linecap="round" stroke-linejoin="round"/>
<polyline points="658.5,1067.4 660.8,1067.5 663.0,1067.7 665.2,1067.8 667.4,1068.0 669.7,1068.1 671.9,1068.3 674.1,1068.4 676.4,1068.6 678.6,1068.7 680.8,1068.9 683.1,1069.0 685.3,1069.2 687.6,1069.3 689.8,1069.5 692.1,1069.6 694.3,1069.8 696.6,1069.9 698.8,1070.1 701.1,1070.2 703.3,1070.4 705.6,1070.5 707.9,1070.7 710.1,1070.8 712.4,1071.0 714.7,1071.2 716.9,1071.3 719.2,1071.5 721.5,1071.6 723.7,1071.8 726.0,1071.9 728.3,1072.1 730.6,1072.2 732.9,1072.4 735.2,1072.5 737.4,1072.7 739.7,1072.8 742.0,1073.0 744.3,1073.1 746.6,1073.3 748.9,1073.5 751.2,1073.6 753.5,1073.8 755.8,1073.9 758.1,1074.1 760.4,1074.2 762.7,1074.4 765.0,1074.5 767.3,1074.7 769.7,1074.9 772.0,1075.0 774.3,1075.2 776.6,1075.3 778.9,1075.5 781.3,1075.6 783.6,1075.8 785.9,1075.9 788.3,1076.1 790.6,1076.3 792.9,1076.4 795.3,1076.6 797.6,1076.7 799.9,1076.9 802.3,1077.0 804.6,1077.2 807.0,1077.4 809.3,1077.5 811.7,1077.7 814.0,1077.8 816.4,1078.0 818.7,1078.2 821.1,1078.3 823.5,1078.5 825.8,1078.6 828.2,1078.8 830.6,1078.9 832.9,1079.1 835.3,1079.3 837.7,1079.4 840.0,1079.6 842.4,1079.7 844.8,1079.9 847.2,1080.1 849.6,1080.2 852.0,1080.4 854.3,1080.5 856.7,1080.7 859.1,1080.9 861.5,1081.0 863.9,1081.2 866.3,1081.4 868.7,1081.5 871.1,1081.7 873.5,1081.8 875.9,1082.0 878.4,1082.2 880.8,1082.3 883.2,1082.5 885.6,1082.7 888.0,1082.8 890.4,1083.0 892.9,1083.1 895.3,1083.3 897.7,1083.5 900.1,1083.6 902.6,1083.8 905.0,1084.0 907.4,1084.1 909.9,1084.3 912.3,1084.4 914.8,1084.6 917.2,1084.8 919.6,1084.9 922.1,1085.1 924.5,1085.3 927.0,1085.4 929.4,1085.6 931.9,1085.8 934.4,1085.9 936.8,1086.1 939.3,1086.3 941.8,1086.4 944.2,1086.6 946.7,1086.8 949.2,1086.9 951.6,1087.1 954.1,1087.3 956.6,1087.4 959.1,1087.6 961.6,1087.8 964.0,1087.9 966.5,1088.1 969.0,1088.3 971.5,1088.4 974.0,1088.6 976.5,1088.8 979.0,1088.9 981.5,1089.1 984.0,1089.3 986.5,1089.4 989.0,1089.6 991.5,1089.8 994.1,1089.9 996.6,1090.1 999.1,1090.3 1001.6,1090.5 1004.1,1090.6 1006.7,1090.8 1009.2,1091.0 1011.7,1091.1 1014.2,1091.3 1016.8,1091.5 1019.3,1091.6 1021.8,1091.8 1024.4,1092.0 1026.9,1092.2 1029.5,1092.3 1032.0,1092.5 1034.6,1092.7 1037.1,1092.8 1039.7,1093.0" fill="none" stroke="#1f9a68" stroke-width="1.7" stroke-linecap="round" stroke-linejoin="round"/>
<polyline points="709.1,1060.7 708.2,1061.3 707.3,1061.9 706.3,1062.5 705.4,1063.1 704.5,1063.6 703.6,1064.2 702.7,1064.8 701.8,1065.3 700.8,1065.9 699.9,1066.5 699.0,1067.0 698.1,1067.6 697.1,1068.1 696.2,1068.7 695.3,1069.2 694.3,1069.8 693.4,1070.3 692.4,1070.9 691.5,1071.4 690.5,1072.0 689.6,1072.5 688.6,1073.1 687.7,1073.6 686.7,1074.2 685.8,1074.7 684.8,1075.3 683.9,1075.8 682.9,1076.4 681.9,1077.0 681.0,1077.5 680.0,1078.1 679.0,1078.6 678.0,1079.2 677.1,1079.7 676.1,1080.3 675.1,1080.8 674.1,1081.4 673.1,1081.9 672.2,1082.5 671.2,1083.0 670.2,1083.6 669.2,1084.2 668.2,1084.7 667.2,1085.3 666.2,1085.8 665.2,1086.4 664.2,1087.0 663.1,1087.5 662.1,1088.1 661.1,1088.7 660.1,1089.2 659.1,1089.8 658.1,1090.3 657.0,1090.9 656.0,1091.5 655.0,1092.0 654.0,1092.6 652.9,1093.2 651.9,1093.8 650.8,1094.3 649.8,1094.9 648.8,1095.5 647.7,1096.0 646.7,1096.6 645.6,1097.2 644.6,1097.8 643.5,1098.3 642.4,1098.9 641.4,1099.5 640.3,1100.1 639.3,1100.7 638.2,1101.2 637.1,1101.8 636.0,1102.4 635.0,1103.0 633.9,1103.6 632.8,1104.2 631.7,1104.8 630.6,1105.4 629.5,1105.9 628.5,1106.5 627.4,1107.1 626.3,1107.7 625.2,1108.3 624.1,1108.9 622.9,1109.5 621.8,1110.1 620.7,1110.7 619.6,1111.3 618.5,1111.9 617.4,1112.5 616.3,1113.1 615.1,1113.7 614.0,1114.3 612.9,1114.9 611.7,1115.5 610.6,1116.1 609.5,1116.8 608.3,1117.4 607.2,1118.0 606.0,1118.6 604.9,1119.2 603.7,1119.8 602.6,1120.4 601.4,1121.1 600.2,1121.7 599.1,1122.3 597.9,1122.9 596.7,1123.6 595.6,1124.2 594.4,1124.8 593.2,1125.4 592.0,1126.1 590.8,1126.7 589.6,1127.3 588.5,1128.0 587.3,1128.6 586.1,1129.2 584.9,1129.9 583.7,1130.5 582.4,1131.2 581.2,1131.8 580.0,1132.4 578.8,1133.1 577.6,1133.7 576.4,1134.4 575.1,1135.0 573.9,1135.7 572.7,1136.3 571.4,1137.0 570.2,1137.6 569.0,1138.3 567.7,1138.9 566.5,1139.6 565.2,1140.3 563.9,1140.9 562.7,1141.6 561.4,1142.3 560.2,1142.9 558.9,1143.6 557.6,1144.3 556.3,1144.9 555.1,1145.6 553.8,1146.3 552.5,1147.0 551.2,1147.6 549.9,1148.3 548.6,1149.0 547.3,1149.7 546.0,1150.4 544.7,1151.0 543.4,1151.7 542.1,1152.4 540.8,1153.1 539.4,1153.8 538.1,1154.5 536.8,1155.2 535.5,1155.9 534.1,1156.6 532.8,1157.3" fill="none" stroke="#1f9a68" stroke-width="1.7" stroke-linecap="round" stroke-linejoin="round"/>
<polyline points="642.8,1078.3 645.0,1078.3 647.3,1078.4 649.5,1078.4 651.8,1078.4 654.0,1078.4 656.3,1078.4 658.6,1078.4 660.8,1078.5 663.1,1078.5 665.4,1078.5 667.6,1078.5 669.9,1078.5 672.2,1078.6 674.5,1078.6 676.7,1078.6 679.0,1078.6 681.3,1078.6 683.6,1078.6 685.9,1078.7 688.2,1078.7 690.5,1078.7 692.8,1078.7 695.1,1078.7 697.4,1078.8 699.7,1078.8 702.0,1078.8 704.3,1078.8 706.6,1078.8 708.9,1078.9 711.2,1078.9 713.5,1078.9 715.8,1078.9 718.1,1078.9 720.5,1078.9 722.8,1079.0 725.1,1079.0 727.4,1079.0 729.8,1079.0 732.1,1079.0 734.4,1079.1 736.8,1079.1 739.1,1079.1 741.4,1079.1 743.8,1079.1 746.1,1079.2 748.5,1079.2 750.8,1079.2 753.2,1079.2 755.5,1079.2 757.9,1079.3 760.2,1079.3 762.6,1079.3 765.0,1079.3 767.3,1079.3 769.7,1079.4 772.0,1079.4 774.4,1079.4 776.8,1079.4 779.2,1079.4 781.5,1079.4 783.9,1079.5 786.3,1079.5 788.7,1079.5 791.1,1079.5 793.5,1079.5 795.8,1079.6 798.2,1079.6 800.6,1079.6 803.0,1079.6 805.4,1079.6 807.8,1079.7 810.2,1079.7 812.6,1079.7 815.0,1079.7 817.4,1079.7 819.9,1079.8 822.3,1079.8 824.7,1079.8 827.1,1079.8 829.5,1079.8 832.0,1079.9 834.4,1079.9 836.8,1079.9 839.2,1079.9 841.7,1079.9 844.1,1080.0 846.5,1080.0 849.0,1080.0 851.4,1080.0 853.9,1080.0 856.3,1080.1 858.8,1080.1 861.2,1080.1 863.7,1080.1 866.1,1080.1 868.6,1080.2 871.0,1080.2 873.5,1080.2 876.0,1080.2 878.4,1080.2 880.9,1080.3 883.4,1080.3 885.8,1080.3 888.3,1080.3 890.8,1080.3 893.3,1080.4 895.8,1080.4 898.2,1080.4 900.7,1080.4 903.2,1080.4 905.7,1080.5 908.2,1080.5 910.7,1080.5 913.2,1080.5 915.7,1080.5 918.2,1080.6 920.7,1080.6 923.2,1080.6 925.7,1080.6 928.3,1080.6 930.8,1080.7 933.3,1080.7 935.8,1080.7 938.3,1080.7 940.9,1080.7 943.4,1080.8 945.9,1080.8 948.5,1080.8 951.0,1080.8 953.5,1080.9 956.1,1080.9 958.6,1080.9 961.2,1080.9 963.7,1080.9 966.3,1081.0 968.8,1081.0 971.4,1081.0 973.9,1081.0 976.5,1081.0 979.0,1081.1 981.6,1081.1 984.2,1081.1 986.8,1081.1 989.3,1081.1 991.9,1081.2 994.5,1081.2 997.1,1081.2 999.6,1081.2 1002.2,1081.2 1004.8,1081.3 1007.4,1081.3 1010.0,1081.3 1012.6,1081.3 1015.2,1081.4 1017.8,1081.4 1020.4,1081.4 1023.0,1081.4 1025.6,1081.4 1028.2,1081.5 1030.8,1081.5" fill="none" stroke="#1f9a68" stroke-width="1.7" stroke-linecap="round" stroke-linejoin="round"/>
<polyline points="744.8,1064.7 743.9,1065.2 743.1,1065.8 742.2,1066.3 741.3,1066.8 740.4,1067.3 739.5,1067.7 738.6,1068.2 737.8,1068.7 736.9,1069.1 736.0,1069.6 735.1,1070.0 734.2,1070.5 733.3,1070.9 732.4,1071.4 731.5,1071.8 730.6,1072.2 729.7,1072.7 728.8,1073.1 727.9,1073.5 726.9,1073.9 726.0,1074.4 725.1,1074.8 724.2,1075.2 723.3,1075.6 722.3,1076.0 721.4,1076.4 720.5,1076.9 719.6,1077.3 718.6,1077.7 717.7,1078.1 716.8,1078.5 715.8,1078.9 714.9,1079.3 713.9,1079.7 713.0,1080.1 712.0,1080.5 711.1,1080.9 710.1,1081.4 709.2,1081.8 708.2,1082.2 707.3,1082.6 706.3,1083.0 705.3,1083.4 704.4,1083.8 703.4,1084.2 702.4,1084.6 701.5,1085.0 700.5,1085.4 699.5,1085.8 698.5,1086.2 697.6,1086.6 696.6,1087.0 695.6,1087.4 694.6,1087.8 693.6,1088.2 692.6,1088.6 691.6,1089.0 690.6,1089.4 689.6,1089.8 688.6,1090.2 687.6,1090.6 686.6,1091.0 685.6,1091.4 684.6,1091.8 683.5,1092.2 682.5,1092.6 681.5,1093.0 680.5,1093.4 679.4,1093.8 678.4,1094.2 677.4,1094.6 676.4,1095.0 675.3,1095.4 674.3,1095.8 673.2,1096.2 672.2,1096.6 671.1,1097.0 670.1,1097.4 669.0,1097.8 668.0,1098.2 666.9,1098.7 665.9,1099.1 664.8,1099.5 663.7,1099.9 662.7,1100.3 661.6,1100.7 660.5,1101.1 659.4,1101.5 658.4,1101.9 657.3,1102.3 656.2,1102.7 655.1,1103.1 654.0,1103.5 652.9,1103.9 651.8,1104.3 650.7,1104.8 649.6,1105.2 648.5,1105.6 647.4,1106.0 646.3,1106.4 645.2,1106.8 644.1,1107.2 642.9,1107.6 641.8,1108.1 640.7,1108.5 639.6,1108.9 638.4,1109.3 637.3,1109.7 636.2,1110.1 635.0,1110.5 633.9,1111.0 632.7,1111.4 631.6,1111.8 630.4,1112.2 629.3,1112.6 628.1,1113.1 627.0,1113.5 625.8,1113.9 624.6,1114.3 623.5,1114.7 622.3,1115.2 621.1,1115.6 619.9,1116.0 618.7,1116.4 617.6,1116.9 616.4,1117.3 615.2,1117.7 614.0,1118.1 612.8,1118.6 611.6,1119.0 610.4,1119.4 609.2,1119.9 608.0,1120.3 606.7,1120.7 605.5,1121.1 604.3,1121.6 603.1,1122.0 601.8,1122.4 600.6,1122.9 599.4,1123.3 598.1,1123.8 596.9,1124.2 595.6,1124.6 594.4,1125.1 593.1,1125.5 591.9,1125.9 590.6,1126.4 589.4,1126.8 588.1,1127.3 586.8,1127.7 585.6,1128.2 584.3,1128.6 583.0,1129.0 581.7,1129.5 580.4,1129.9 579.1,1130.4 577.8,1130.8 576.5,1131.3 575.2,1131.7 573.9,1132.2" fill="none" stroke="#1f9a68" stroke-width="1.7" stroke-linecap="round" stroke-linejoin="round"/>
<polyline points="626.4,1089.6 628.7,1089.5 630.9,1089.4 633.2,1089.2 635.5,1089.1 637.8,1089.0 640.1,1088.8 642.4,1088.7 644.7,1088.6 647.0,1088.5 649.3,1088.3 651.6,1088.2 653.9,1088.1 656.2,1087.9 658.5,1087.8 660.8,1087.7 663.1,1087.5 665.5,1087.4 667.8,1087.3 670.1,1087.1 672.4,1087.0 674.8,1086.9 677.1,1086.7 679.4,1086.6 681.7,1086.5 684.1,1086.3 686.4,1086.2 688.8,1086.1 691.1,1085.9 693.4,1085.8 695.8,1085.7 698.1,1085.5 700.5,1085.4 702.8,1085.3 705.2,1085.1 707.6,1085.0 709.9,1084.8 712.3,1084.7 714.6,1084.6 717.0,1084.4 719.4,1084.3 721.8,1084.2 724.1,1084.0 726.5,1083.9 728.9,1083.8 731.3,1083.6 733.7,1083.5 736.0,1083.4 738.4,1083.2 740.8,1083.1 743.2,1082.9 745.6,1082.8 748.0,1082.7 750.4,1082.5 752.8,1082.4 755.2,1082.3 757.6,1082.1 760.0,1082.0 762.4,1081.8 764.9,1081.7 767.3,1081.6 769.7,1081.4 772.1,1081.3 774.5,1081.1 777.0,1081.0 779.4,1080.9 781.8,1080.7 784.3,1080.6 786.7,1080.5 789.1,1080.3 791.6,1080.2 794.0,1080.0 796.5,1079.9 798.9,1079.8 801.4,1079.6 803.8,1079.5 806.3,1079.3 808.7,1079.2 811.2,1079.1 813.6,1078.9 816.1,1078.8 818.6,1078.6 821.0,1078.5 823.5,1078.3 826.0,1078.2 828.5,1078.1 831.0,1077.9 833.4,1077.8 835.9,1077.6 838.4,1077.5 840.9,1077.3 843.4,1077.2 845.9,1077.1 848.4,1076.9 850.9,1076.8 853.4,1076.6 855.9,1076.5 858.4,1076.3 860.9,1076.2 863.4,1076.1 865.9,1075.9 868.5,1075.8 871.0,1075.6 873.5,1075.5 876.0,1075.3 878.5,1075.2 881.1,1075.0 883.6,1074.9 886.1,1074.8 888.7,1074.6 891.2,1074.5 893.8,1074.3 896.3,1074.2 898.9,1074.0 901.4,1073.9 904.0,1073.7 906.5,1073.6 909.1,1073.4 911.6,1073.3 914.2,1073.2 916.8,1073.0 919.3,1072.9 921.9,1072.7 924.5,1072.6 927.1,1072.4 929.7,1072.3 932.2,1072.1 934.8,1072.0 937.4,1071.8 940.0,1071.7 942.6,1071.5 945.2,1071.4 947.8,1071.2 950.4,1071.1 953.0,1070.9 955.6,1070.8 958.2,1070.6 960.8,1070.5 963.4,1070.3 966.0,1070.2 968.7,1070.0 971.3,1069.9 973.9,1069.7 976.5,1069.6 979.2,1069.4 981.8,1069.3 984.4,1069.1 986.0,1069.0" fill="none" stroke="#1f9a68" stroke-width="1.7" stroke-linecap="round" stroke-linejoin="round"/>
<polyline points="986.0,1069.0 987.1,1069.0 989.7,1068.8 992.4,1068.7 995.0,1068.5 997.7,1068.4 1000.3,1068.2 1003.0,1068.1 1005.6,1067.9 1008.3,1067.8 1011.0,1067.6 1013.6,1067.5 1016.3,1067.3 1019.0,1067.2 1021.6,1067.0" fill="none" stroke="#22c03a" stroke-width="1.7" stroke-linecap="round" stroke-linejoin="round"/>
<polyline points="781.0,1068.7 780.2,1069.2 779.3,1069.7 778.5,1070.1 777.6,1070.5 776.8,1070.9 775.9,1071.3 775.1,1071.7 774.2,1072.1 773.4,1072.4 772.5,1072.8 771.7,1073.1 770.8,1073.4 769.9,1073.8 769.1,1074.1 768.2,1074.4 767.3,1074.7 766.5,1075.0 765.6,1075.3 764.7,1075.6 763.9,1075.9 763.0,1076.2 762.1,1076.5 761.2,1076.8 760.3,1077.0 759.4,1077.3 758.5,1077.6 757.7,1077.9 756.8,1078.1 755.9,1078.4 755.0,1078.7 754.1,1079.0 753.2,1079.2 752.3,1079.5 751.4,1079.7 750.4,1080.0 749.5,1080.3 748.6,1080.5 747.7,1080.8 746.8,1081.0 745.9,1081.3 744.9,1081.5 744.0,1081.8 743.1,1082.0 742.2,1082.2 741.2,1082.5 740.3,1082.7 739.4,1083.0 738.4,1083.2 737.5,1083.5 736.5,1083.7 735.6,1083.9 734.6,1084.2 733.7,1084.4 732.7,1084.6 731.8,1084.9 730.8,1085.1 729.9,1085.3 728.9,1085.6 727.9,1085.8 727.0,1086.0 726.0,1086.2 725.0,1086.5 724.1,1086.7 723.1,1086.9 722.1,1087.1 721.1,1087.4 720.1,1087.6 719.2,1087.8 718.2,1088.0 717.2,1088.2 716.2,1088.5 715.2,1088.7 714.2,1088.9 713.2,1089.1 712.2,1089.3 711.2,1089.6 710.2,1089.8 709.1,1090.0 708.1,1090.2 707.1,1090.4 706.1,1090.6 705.1,1090.8 704.0,1091.0 703.0,1091.3 702.0,1091.5 700.9,1091.7 699.9,1091.9 698.9,1092.1 697.8,1092.3 696.8,1092.5 695.7,1092.7 694.7,1092.9 693.6,1093.1 692.6,1093.4 691.5,1093.6 690.5,1093.8 689.4,1094.0 688.3,1094.2 687.3,1094.4 686.2,1094.6 685.1,1094.8 684.0,1095.0 682.9,1095.2 681.9,1095.4 680.8,1095.6 679.7,1095.8 678.6,1096.0 677.5,1096.2 676.4,1096.4 675.3,1096.6 674.2,1096.8 673.1,1097.0 672.0,1097.2 670.9,1097.4 669.7,1097.6 668.6,1097.8 667.5,1098.0 666.4,1098.2 665.2,1098.4 664.1,1098.6 663.0,1098.8 662.4,1098.9" fill="none" stroke="#1f9a68" stroke-width="1.7" stroke-linecap="round" stroke-linejoin="round"/>
<polyline points="662.4,1098.9 661.8,1099.0 660.7,1099.2 659.5,1099.4 658.4,1099.6 657.2,1099.8 656.1,1100.0 654.9,1100.2 653.8,1100.4 652.6,1100.6 651.4,1100.8 650.3,1101.0 649.1,1101.2 647.9,1101.4 646.7,1101.6 645.6,1101.8 644.4,1102.0 643.2,1102.2 642.0,1102.4 640.8,1102.6 639.6,1102.8 638.4,1103.0 637.2,1103.2 636.0,1103.4 634.8,1103.6 633.5,1103.8 632.3,1103.9 631.1,1104.1 629.9,1104.3 628.6,1104.5 627.4,1104.7 626.2,1104.9 624.9,1105.1 623.7,1105.3 622.4,1105.5 621.2,1105.7 619.9,1105.9 618.6,1106.1 617.4,1106.3 616.1,1106.5" fill="none" stroke="#22c03a" stroke-width="1.7" stroke-linecap="round" stroke-linejoin="round"/>
<polyline points="609.4,1101.4 611.7,1101.1 614.0,1100.8 616.3,1100.5 618.7,1100.2 621.0,1099.9 623.3,1099.6 625.6,1099.3 628.0,1099.0 630.3,1098.7 632.6,1098.4 635.0,1098.1 637.3,1097.8 639.6,1097.5 642.0,1097.2 644.3,1096.9 646.7,1096.6 649.0,1096.3 651.4,1096.0 653.7,1095.7 656.1,1095.4 658.4,1095.1 660.8,1094.8 663.2,1094.5 665.5,1094.2 667.9,1093.9 670.3,1093.6 672.7,1093.3 675.0,1093.0 677.4,1092.7 679.8,1092.4 682.2,1092.1 684.6,1091.8 686.9,1091.5 689.3,1091.2 691.7,1090.9 694.1,1090.6 696.5,1090.3 698.9,1090.0 701.3,1089.7 703.7,1089.4 706.2,1089.1 708.6,1088.8 711.0,1088.5 713.4,1088.1 715.8,1087.8 718.2,1087.5 720.7,1087.2 723.1,1086.9 725.5,1086.6 727.9,1086.3 730.4,1086.0 732.8,1085.7 735.3,1085.4 737.7,1085.1 740.1,1084.7 742.6,1084.4 745.0,1084.1 747.5,1083.8 750.0,1083.5 752.4,1083.2 754.9,1082.9 757.3,1082.6 759.8,1082.3 762.3,1081.9 764.7,1081.6 767.2,1081.3 769.7,1081.0 772.2,1080.7 774.6,1080.4 777.1,1080.0 779.6,1079.7 782.1,1079.4 784.6,1079.1 787.1,1078.8 789.6,1078.5 792.1,1078.1 794.6,1077.8 797.1,1077.5 799.6,1077.2 802.1,1076.9 804.6,1076.6 807.1,1076.2 809.7,1075.9 812.2,1075.6 814.7,1075.3 817.2,1075.0 819.8,1074.6 822.3,1074.3 824.8,1074.0 827.4,1073.7 829.9,1073.3 832.5,1073.0 835.0,1072.7 837.6,1072.4 840.1,1072.1 842.7,1071.7 845.2,1071.4 847.8,1071.1 850.3,1070.8 852.9,1070.4 855.5,1070.1 858.0,1069.8 860.6,1069.4 862.5,1069.2" fill="none" stroke="#1f9a68" stroke-width="1.7" stroke-linecap="round" stroke-linejoin="round"/>
<polyline points="862.5,1069.2 863.2,1069.1 865.8,1068.8 868.4,1068.5 870.9,1068.1 873.5,1067.8 876.1,1067.5 878.7,1067.1 881.3,1066.8 883.9,1066.5 886.5,1066.2 889.1,1065.8 891.7,1065.5 894.3,1065.2 896.9,1064.8 899.6,1064.5 902.2,1064.2 904.8,1063.8 907.4,1063.5 910.0,1063.2 912.7,1062.8 915.3,1062.5 917.9,1062.2 920.6,1061.8 923.2,1061.5 925.9,1061.2 928.5,1060.8 931.2,1060.5 933.8,1060.1 936.5,1059.8 939.1,1059.5 941.8,1059.1 944.5,1058.8 947.1,1058.5 949.8,1058.1 952.5,1057.8 955.2,1057.4 957.8,1057.1 960.5,1056.8 963.2,1056.4 965.9,1056.1 968.6,1055.7 971.3,1055.4 974.0,1055.1 976.7,1054.7 979.4,1054.4 982.1,1054.0 984.8,1053.7 987.5,1053.3 990.2,1053.0 992.9,1052.6 995.7,1052.3 998.4,1051.9 1001.1,1051.6 1003.9,1051.3 1006.6,1050.9 1009.3,1050.6 1012.1,1050.2" fill="none" stroke="#22c03a" stroke-width="1.7" stroke-linecap="round" stroke-linejoin="round"/>
<polyline points="817.7,1072.8 816.9,1073.3 816.1,1073.7 815.3,1074.0 814.5,1074.4 813.7,1074.7 812.8,1075.0 812.0,1075.2 811.2,1075.5 810.4,1075.7 809.6,1076.0 808.8,1076.2 807.9,1076.4 807.1,1076.6 806.3,1076.8 805.5,1077.0 804.6,1077.2 803.8,1077.4 803.0,1077.6 802.1,1077.7 801.3,1077.9 800.4,1078.1 799.6,1078.2 798.8,1078.4 797.9,1078.5 797.1,1078.6 796.2,1078.8 795.4,1078.9 794.5,1079.0 793.6,1079.2 792.8,1079.3 791.9,1079.4 791.1,1079.5 790.2,1079.6 789.3,1079.7 788.5,1079.9 787.6,1080.0 786.7,1080.1 785.8,1080.2 785.0,1080.3 784.1,1080.3 783.2,1080.4 782.3,1080.5 781.4,1080.6 780.5,1080.7 779.6,1080.8 778.8,1080.9 777.9,1080.9 777.0,1081.0 776.1,1081.1 775.2,1081.2 774.3,1081.2 773.3,1081.3 772.4,1081.4 771.5,1081.4 770.6,1081.5 769.7,1081.5 768.8,1081.6 767.8,1081.6 766.9,1081.7 766.0,1081.7 765.1,1081.8 764.1,1081.8 763.2,1081.9 762.3,1081.9 761.3,1082.0 760.4,1082.0 759.4,1082.1 758.5,1082.1 757.5,1082.1 756.6,1082.2 755.6,1082.2 754.7,1082.2 753.7,1082.3 752.8,1082.3 751.8,1082.3 750.8,1082.3 749.9,1082.4 748.9,1082.4 747.9,1082.4 747.0,1082.4 746.0,1082.5 745.0,1082.5 744.0,1082.5 743.0,1082.5 742.0,1082.5 741.0,1082.5 740.0,1082.5 739.0,1082.5 738.0,1082.6 737.0,1082.6 736.0,1082.6 735.0,1082.6 734.0,1082.6 733.0,1082.6 732.0,1082.6 731.3,1082.6" fill="none" stroke="#1f9a68" stroke-width="1.7" stroke-linecap="round" stroke-linejoin="round"/>
<polyline points="731.3,1082.6 731.0,1082.6 729.9,1082.6 728.9,1082.6 727.9,1082.6 726.9,1082.6 725.8,1082.5 724.8,1082.5 723.7,1082.5 722.7,1082.5 721.7,1082.5 720.6,1082.5 719.6,1082.5 718.5,1082.5 717.5,1082.4 716.4,1082.4 715.3,1082.4 714.3,1082.4 713.2,1082.4 712.1,1082.3 711.1,1082.3 710.0,1082.3 708.9,1082.3 707.8,1082.2 706.7,1082.2 705.6,1082.2 704.5,1082.1 703.4,1082.1 702.3,1082.1 701.2,1082.0 700.1,1082.0 699.0,1082.0 697.9,1081.9 696.8,1081.9 695.7,1081.9 694.6,1081.8 693.4,1081.8 692.3,1081.7 691.2,1081.7 690.0,1081.6 688.9,1081.6 687.8,1081.6 686.6,1081.5 685.5,1081.5 684.3,1081.4 683.2,1081.4 682.0,1081.3 680.9,1081.3 679.7,1081.2 678.5,1081.1 677.3,1081.1 676.2,1081.0 675.0,1081.0 673.8,1080.9 672.6,1080.8 671.4,1080.8 670.2,1080.7 669.0,1080.7 667.9,1080.6 666.6,1080.5 665.4,1080.5 664.2,1080.4 663.0,1080.3 661.8,1080.3 660.6,1080.2 659.4,1080.1" fill="none" stroke="#22c03a" stroke-width="1.7" stroke-linecap="round" stroke-linejoin="round"/>
<polyline points="591.8,1113.5 594.1,1113.0 596.5,1112.6 598.8,1112.1 601.2,1111.6 603.5,1111.2 605.9,1110.7 608.2,1110.2 610.6,1109.7 612.9,1109.3 615.3,1108.8 617.7,1108.3 620.0,1107.8 622.4,1107.4 624.8,1106.9 627.2,1106.4 629.5,1105.9 631.9,1105.5 634.3,1105.0 636.7,1104.5 639.1,1104.0 641.5,1103.6 643.9,1103.1 646.3,1102.6 648.7,1102.1 651.1,1101.6 653.5,1101.1 655.9,1100.7 658.3,1100.2 660.7,1099.7 663.1,1099.2 665.6,1098.7 668.0,1098.2 670.4,1097.8 672.8,1097.3 675.3,1096.8 677.7,1096.3 680.1,1095.8 682.6,1095.3 685.0,1094.8 687.5,1094.3 689.9,1093.9 692.4,1093.4 694.8,1092.9 697.3,1092.4 699.7,1091.9 702.2,1091.4 704.6,1090.9 707.1,1090.4 709.6,1089.9 712.1,1089.4 714.5,1088.9 717.0,1088.4 719.5,1087.9 722.0,1087.4 724.5,1086.9 726.9,1086.4 729.4,1085.9 731.9,1085.4 734.4,1084.9 736.9,1084.4 739.4,1083.9 741.9,1083.4 744.4,1082.9 747.0,1082.4 749.5,1081.9 752.0,1081.4 754.5,1080.9 757.0,1080.4 759.5,1079.9 762.1,1079.4 764.6,1078.9 767.1,1078.4 769.7,1077.9 772.2,1077.4 774.8,1076.9 777.3,1076.4 779.9,1075.8 782.4,1075.3 785.0,1074.8 785.9,1074.6" fill="none" stroke="#1f9a68" stroke-width="1.7" stroke-linecap="round" stroke-linejoin="round"/>
<polyline points="785.9,1074.6 787.5,1074.3 790.1,1073.8 792.6,1073.3 795.2,1072.8 797.8,1072.3 800.3,1071.7 802.9,1071.2 805.5,1070.7 808.1,1070.2 810.7,1069.7 813.3,1069.2 815.8,1068.6 818.4,1068.1 821.0,1067.6 823.6,1067.1 826.2,1066.6 828.8,1066.0 831.4,1065.5 834.1,1065.0 836.7,1064.5 839.3,1063.9 841.9,1063.4 844.5,1062.9 847.2,1062.4 849.8,1061.8 852.4,1061.3 855.1,1060.8 857.7,1060.3 860.3,1059.7 863.0,1059.2 865.6,1058.7 868.3,1058.1 870.9,1057.6 873.6,1057.1 876.2,1056.5 878.9,1056.0 881.6,1055.5 884.2,1054.9 886.9,1054.4 889.6,1053.9 892.3,1053.3 895.0,1052.8 897.6,1052.3 900.3,1051.7 903.0,1051.2 905.7,1050.6 908.4,1050.1 911.1,1049.6 913.8,1049.0 916.5,1048.5 919.2,1047.9 921.9,1047.4 924.7,1046.9 927.4,1046.3 930.1,1045.8 932.8,1045.2 935.6,1044.7 938.3,1044.1 941.0,1043.6 943.8,1043.0 946.5,1042.5 949.3,1041.9 952.0,1041.4 954.8,1040.8 957.5,1040.3 960.3,1039.7 963.0,1039.2 965.8,1038.6 968.6,1038.1 971.3,1037.5 974.1,1036.9 976.9,1036.4 979.7,1035.8 982.5,1035.3 985.2,1034.7 988.0,1034.2 990.8,1033.6 993.6,1033.0 996.4,1032.5 999.2,1031.9 1002.0,1031.4" fill="none" stroke="#22c03a" stroke-width="1.7" stroke-linecap="round" stroke-linejoin="round"/>
<polyline points="854.8,1076.9 854.1,1077.4 853.3,1077.7 852.6,1078.0 851.8,1078.2 851.0,1078.5 850.2,1078.6 849.5,1078.8 848.7,1079.0 847.9,1079.1 847.1,1079.2 846.4,1079.3 845.6,1079.4 844.8,1079.5 844.0,1079.6 843.2,1079.7 842.4,1079.7 841.6,1079.8 840.8,1079.8 840.0,1079.9 839.3,1079.9 838.5,1079.9 837.7,1080.0 836.8,1080.0 836.0,1080.0 835.2,1080.0 834.4,1080.0 833.6,1080.0 832.8,1079.9 832.0,1079.9 831.2,1079.9 830.4,1079.9 829.5,1079.8 828.7,1079.8 827.9,1079.8 827.1,1079.7 826.2,1079.7 825.4,1079.6 824.6,1079.5 823.7,1079.5 822.9,1079.4 822.0,1079.4 821.2,1079.3 820.4,1079.2 819.5,1079.1 818.7,1079.0 817.8,1079.0 817.0,1078.9 816.1,1078.8 815.3,1078.7 814.4,1078.6 813.5,1078.5 812.7,1078.4 811.8,1078.3 810.9,1078.1 810.1,1078.0 809.2,1077.9 808.3,1077.8 807.4,1077.7 806.6,1077.5 805.7,1077.4 804.8,1077.3 803.9,1077.2 803.0,1077.0 802.1,1076.9 801.2,1076.7 800.3,1076.6 799.4,1076.4 798.5,1076.3 797.6,1076.1 796.7,1076.0 795.8,1075.8 794.9,1075.7 794.0,1075.5 793.1,1075.3 792.1,1075.2 791.2,1075.0 790.3,1074.8 789.4,1074.7 788.5,1074.5 788.0,1074.4" fill="none" stroke="#1f9a68" stroke-width="1.7" stroke-linecap="round" stroke-linejoin="round"/>
<polyline points="788.0,1074.4 787.5,1074.3 786.6,1074.1 785.6,1073.9 784.7,1073.8 783.8,1073.6 782.8,1073.4 781.9,1073.2 780.9,1073.0 780.0,1072.8 779.0,1072.6 778.1,1072.4 777.1,1072.2 776.1,1072.0 775.2,1071.8 774.2,1071.6 773.2,1071.4 772.3,1071.1 771.3,1070.9 770.3,1070.7 769.3,1070.5 768.3,1070.3 767.4,1070.0 766.4,1069.8 765.4,1069.6 764.4,1069.4 763.4,1069.1 762.4,1068.9 761.4,1068.6 760.4,1068.4 759.4,1068.2 758.3,1067.9 757.3,1067.7 756.3,1067.4 755.3,1067.2 754.3,1066.9 753.2,1066.7 752.2,1066.4 751.2,1066.2 750.1,1065.9 749.1,1065.6 748.1,1065.4 747.0,1065.1 746.0,1064.8 744.9,1064.6 743.9,1064.3 742.8,1064.0 741.7,1063.7 740.7,1063.5 739.6,1063.2 738.5,1062.9 737.5,1062.6 736.4,1062.3 735.3,1062.0 734.2,1061.7 733.1,1061.4 732.0,1061.1 731.0,1060.8 729.9,1060.5 728.8,1060.2 727.7,1059.9 726.5,1059.6 725.4,1059.3 724.3,1059.0 723.2,1058.7 722.3,1058.5" fill="none" stroke="#22c03a" stroke-width="1.7" stroke-linecap="round" stroke-linejoin="round"/>
<polyline points="722.3,1058.5 722.1,1058.4 721.0,1058.1 719.8,1057.8 718.7,1057.4 717.6,1057.1 716.4,1056.8 715.3,1056.5 714.2,1056.1 713.0,1055.8 711.9,1055.5 710.7,1055.1 709.5,1054.8 708.4,1054.5 707.2,1054.1 706.0,1053.8 704.9,1053.4 703.7,1053.1" fill="none" stroke="#3f52cc" stroke-width="1.7" stroke-linecap="round" stroke-linejoin="round"/>
<polyline points="573.5,1126.1 575.8,1125.5 578.2,1124.8 580.6,1124.1 583.0,1123.5 585.4,1122.8 587.7,1122.2 590.1,1121.5 592.5,1120.9 594.9,1120.2 597.3,1119.5 599.7,1118.9 602.1,1118.2 604.5,1117.5 606.9,1116.9 609.3,1116.2 611.7,1115.5 614.2,1114.9 616.6,1114.2 619.0,1113.5 621.4,1112.9 623.8,1112.2 626.3,1111.5 628.7,1110.8 631.1,1110.2 633.6,1109.5 636.0,1108.8 638.5,1108.1 640.9,1107.5 643.4,1106.8 645.8,1106.1 648.3,1105.4 650.7,1104.8 653.2,1104.1 655.6,1103.4 658.1,1102.7 660.6,1102.0 663.1,1101.3 665.5,1100.7 668.0,1100.0 670.5,1099.3 673.0,1098.6 675.5,1097.9 678.0,1097.2 680.5,1096.5 682.9,1095.8 685.4,1095.2 688.0,1094.5 690.5,1093.8 693.0,1093.1 695.5,1092.4 698.0,1091.7 700.5,1091.0 703.0,1090.3 705.6,1089.6 708.1,1088.9 710.6,1088.2 713.1,1087.5 715.7,1086.8 718.2,1086.1 720.8,1085.4 723.3,1084.7 725.9,1084.0 728.4,1083.3 730.3,1082.7" fill="none" stroke="#1f9a68" stroke-width="1.7" stroke-linecap="round" stroke-linejoin="round"/>
<polyline points="730.3,1082.7 731.0,1082.6 733.5,1081.9 736.1,1081.2 738.6,1080.4 741.2,1079.7 743.8,1079.0 746.4,1078.3 748.9,1077.6 751.5,1076.9 754.1,1076.2 756.7,1075.5 759.3,1074.7 761.9,1074.0 764.5,1073.3 767.1,1072.6 769.7,1071.9 772.3,1071.1 774.9,1070.4 777.5,1069.7 780.1,1069.0 782.7,1068.3 785.3,1067.5 788.0,1066.8 790.6,1066.1 793.2,1065.4 795.9,1064.6 798.5,1063.9 801.1,1063.2 803.8,1062.4 806.4,1061.7 809.1,1061.0 811.7,1060.2 814.4,1059.5 817.0,1058.8 819.7,1058.0 822.4,1057.3 825.0,1056.6 827.7,1055.8 830.4,1055.1 833.1,1054.3 835.8,1053.6 838.4,1052.8 841.1,1052.1 843.8,1051.4 846.5,1050.6 849.2,1049.9 851.9,1049.1 854.6,1048.4 857.3,1047.6 860.1,1046.9 862.8,1046.1 865.5,1045.4 868.2,1044.6 870.9,1043.9 873.7,1043.1 876.4,1042.3 879.1,1041.6 881.9,1040.8 884.6,1040.1 887.4,1039.3 890.1,1038.6 892.9,1037.8 895.6,1037.0 898.4,1036.3 901.2,1035.5 903.9,1034.7 904.3,1034.6" fill="none" stroke="#22c03a" stroke-width="1.7" stroke-linecap="round" stroke-linejoin="round"/>
<polyline points="904.3,1034.6 906.7,1034.0 909.5,1033.2 912.3,1032.4 915.1,1031.7 917.8,1030.9 920.6,1030.1 923.4,1029.3 926.2,1028.6 929.0,1027.8 931.8,1027.0 934.6,1026.2 937.4,1025.5 940.3,1024.7 943.1,1023.9 945.9,1023.1 948.7,1022.4 951.6,1021.6 954.4,1020.8 957.2,1020.0 960.1,1019.2 962.9,1018.4 965.8,1017.6 968.6,1016.9 971.5,1016.1 974.3,1015.3 977.2,1014.5 980.0,1013.7 982.9,1012.9 985.8,1012.1 988.7,1011.3 991.5,1010.5" fill="none" stroke="#3f52cc" stroke-width="1.7" stroke-linecap="round" stroke-linejoin="round"/>
<polyline points="892.5,1081.1 891.8,1081.5 891.1,1081.8 890.3,1082.0 889.6,1082.2 888.9,1082.3 888.1,1082.4 887.4,1082.5 886.7,1082.5 885.9,1082.5 885.2,1082.5 884.5,1082.5 883.7,1082.5 883.0,1082.5 882.3,1082.4 881.5,1082.4 880.8,1082.3 880.0,1082.3 879.3,1082.2 878.5,1082.1 877.8,1082.0 877.0,1081.9 876.2,1081.7 875.5,1081.6 874.7,1081.5 874.0,1081.3 873.2,1081.2 872.4,1081.0 871.7,1080.9 870.9,1080.7 870.1,1080.5 869.4,1080.3 868.6,1080.2 867.8,1080.0 867.0,1079.8 866.2,1079.6 865.5,1079.4 864.7,1079.1 863.9,1078.9 863.1,1078.7 862.3,1078.5 861.5,1078.2 860.7,1078.0 859.9,1077.8 859.1,1077.5 858.3,1077.3 857.5,1077.0 856.7,1076.8 855.9,1076.5 855.1,1076.2 854.3,1076.0 853.5,1075.7 852.6,1075.4 851.8,1075.1 851.0,1074.8 850.2,1074.5 849.3,1074.2 848.5,1073.9 847.7,1073.6 846.9,1073.3 846.0,1073.0 845.2,1072.7 844.3,1072.4 843.5,1072.1 842.7,1071.7 841.8,1071.4 841.0,1071.1 840.1,1070.7 839.3,1070.4 839.0,1070.3" fill="none" stroke="#1f9a68" stroke-width="1.7" stroke-linecap="round" stroke-linejoin="round"/>
<polyline points="839.0,1070.3 838.4,1070.0 837.5,1069.7 836.7,1069.3 835.8,1069.0 835.0,1068.6 834.1,1068.3 833.2,1067.9 832.4,1067.5 831.5,1067.2 830.6,1066.8 829.7,1066.4 828.8,1066.0 828.0,1065.7 827.1,1065.3 826.2,1064.9 825.3,1064.5 824.4,1064.1 823.5,1063.7 822.6,1063.3 821.7,1062.9 820.8,1062.5 819.9,1062.0 819.0,1061.6 818.1,1061.2 817.1,1060.8 816.2,1060.4 815.3,1059.9 814.4,1059.5 813.5,1059.1 812.5,1058.6 811.6,1058.2 810.7,1057.7 809.7,1057.3 808.8,1056.8 807.9,1056.4 806.9,1055.9 806.0,1055.5 805.0,1055.0 804.1,1054.5 803.1,1054.1 802.1,1053.6 801.2,1053.1 800.2,1052.6 799.2,1052.2 798.3,1051.7 797.3,1051.2 796.3,1050.7 795.4,1050.2 794.4,1049.7 793.4,1049.2 792.4,1048.7 791.4,1048.2 790.4,1047.7 789.4,1047.2 788.4,1046.6 788.1,1046.5" fill="none" stroke="#22c03a" stroke-width="1.7" stroke-linecap="round" stroke-linejoin="round"/>
<polyline points="788.1,1046.5 787.4,1046.1 786.4,1045.6 785.4,1045.1 784.4,1044.6 783.4,1044.0 782.4,1043.5 781.3,1042.9 780.3,1042.4 779.3,1041.9 778.3,1041.3 777.2,1040.8 776.2,1040.2 775.2,1039.7 774.1,1039.1 773.1,1038.5 772.0,1038.0 771.0,1037.4 769.9,1036.8 768.8,1036.2 767.8,1035.7 766.7,1035.1 765.6,1034.5 764.6,1033.9 763.5,1033.3 762.4,1032.7 761.3,1032.1 760.3,1031.5 759.2,1030.9 758.1,1030.3 757.0,1029.7 755.9,1029.1 754.8,1028.5 753.7,1027.9 752.6,1027.2 751.4,1026.6 750.3,1026.0 749.2,1025.3" fill="none" stroke="#3f52cc" stroke-width="1.7" stroke-linecap="round" stroke-linejoin="round"/>
<polyline points="554.5,1139.2 556.9,1138.4 559.3,1137.5 561.7,1136.7 564.1,1135.8 566.5,1134.9 568.9,1134.1 571.3,1133.2 573.7,1132.4 576.2,1131.5 578.6,1130.6 581.0,1129.8 583.4,1128.9 585.9,1128.0 588.3,1127.2 590.8,1126.3 593.2,1125.4 595.7,1124.6 598.1,1123.7 600.6,1122.8 603.0,1121.9 605.5,1121.1 607.9,1120.2 610.4,1119.3 612.9,1118.4 615.3,1117.6 617.8,1116.7 620.3,1115.8 622.8,1114.9 625.3,1114.0 627.8,1113.1 630.2,1112.3 632.7,1111.4 635.2,1110.5 637.7,1109.6 640.2,1108.7 642.7,1107.8 645.3,1106.9 647.8,1106.0 650.3,1105.1 652.8,1104.2 655.3,1103.3 657.9,1102.4 660.4,1101.5 662.9,1100.6 665.5,1099.7 668.0,1098.8 670.5,1097.9 673.1,1097.0 675.6,1096.1 678.2,1095.2 680.7,1094.3 683.3,1093.4 685.8,1092.5" fill="none" stroke="#1f9a68" stroke-width="1.7" stroke-linecap="round" stroke-linejoin="round"/>
<polyline points="685.8,1092.5 685.9,1092.5 688.4,1091.6 691.0,1090.7 693.6,1089.7 696.1,1088.8 698.7,1087.9 701.3,1087.0 703.9,1086.1 706.5,1085.2 709.1,1084.2 711.7,1083.3 714.3,1082.4 716.9,1081.5 719.5,1080.5 722.1,1079.6 724.7,1078.7 727.3,1077.7 729.9,1076.8 732.6,1075.9 735.2,1074.9 737.8,1074.0 740.4,1073.1 743.1,1072.1 745.7,1071.2 748.4,1070.3 751.0,1069.3 753.7,1068.4 756.3,1067.4 759.0,1066.5 761.6,1065.5 764.3,1064.6 767.0,1063.6 769.6,1062.7 772.3,1061.7 775.0,1060.8 777.7,1059.8 780.4,1058.9 783.0,1057.9 785.7,1057.0 788.4,1056.0 791.1,1055.0 793.8,1054.1 796.5,1053.1 799.2,1052.2 802.0,1051.2 804.7,1050.2 807.4,1049.3 810.1,1048.3 812.9,1047.3 815.6,1046.3 818.3,1045.4 821.1,1044.4 823.8,1043.4 826.6,1042.4 829.3,1041.5 830.8,1040.9" fill="none" stroke="#22c03a" stroke-width="1.7" stroke-linecap="round" stroke-linejoin="round"/>
<polyline points="830.8,1040.9 832.1,1040.5 834.8,1039.5 837.6,1038.5 840.3,1037.5 843.1,1036.6 845.9,1035.6 848.7,1034.6 851.4,1033.6 854.2,1032.6 857.0,1031.6 859.8,1030.6 862.6,1029.6 865.4,1028.6 868.2,1027.6 871.0,1026.6 873.8,1025.6 876.6,1024.6 879.4,1023.6 882.3,1022.6 885.1,1021.6 887.9,1020.6 890.7,1019.6 893.6,1018.6 896.4,1017.6 899.3,1016.6 902.1,1015.6 905.0,1014.6 907.8,1013.5 910.7,1012.5 913.5,1011.5 916.4,1010.5 919.3,1009.5 922.2,1008.4 925.0,1007.4 927.9,1006.4 930.8,1005.4 933.7,1004.3 936.6,1003.3 939.5,1002.3 942.4,1001.2 945.3,1000.2 948.2,999.2 951.1,998.1 954.1,997.1 957.0,996.1 959.9,995.0 962.8,994.0 965.8,992.9 968.7,991.9 971.6,990.8 974.6,989.8 977.5,988.7 980.5,987.7" fill="none" stroke="#3f52cc" stroke-width="1.7" stroke-linecap="round" stroke-linejoin="round"/>
<polyline points="930.7,1085.3 930.0,1085.7 929.3,1085.9 928.6,1086.1 927.9,1086.1 927.3,1086.2 926.6,1086.2 925.9,1086.1 925.2,1086.1 924.5,1086.0 923.8,1085.9 923.1,1085.8 922.4,1085.6 921.7,1085.5 921.0,1085.3 920.3,1085.1 919.6,1084.9 918.9,1084.7 918.2,1084.5 917.5,1084.3 916.8,1084.0 916.1,1083.8 915.4,1083.5 914.7,1083.3 914.0,1083.0 913.3,1082.7 912.6,1082.4 911.8,1082.1 911.1,1081.8 910.4,1081.5 909.7,1081.2 908.9,1080.8 908.2,1080.5 907.5,1080.1 906.8,1079.8 906.0,1079.4 905.3,1079.1 904.5,1078.7 903.8,1078.3 903.1,1077.9 902.3,1077.5 901.6,1077.1 900.8,1076.7 900.1,1076.3 899.3,1075.9 898.6,1075.5 897.8,1075.0 897.1,1074.6 896.3,1074.2 895.6,1073.7 894.8,1073.3 894.0,1072.8 893.3,1072.4 892.5,1071.9 891.7,1071.4 891.0,1071.0 890.2,1070.5 889.4,1070.0 888.6,1069.5 887.8,1069.0 887.1,1068.5 887.0,1068.5" fill="none" stroke="#1f9a68" stroke-width="1.7" stroke-linecap="round" stroke-linejoin="round"/>
<polyline points="887.0,1068.5 886.3,1068.0 885.5,1067.5 884.7,1067.0 883.9,1066.5 883.1,1066.0 882.3,1065.4 881.5,1064.9 880.7,1064.4 879.9,1063.8 879.1,1063.3 878.3,1062.7 877.5,1062.2 876.7,1061.6 875.9,1061.1 875.0,1060.5 874.2,1059.9 873.4,1059.4 872.6,1058.8 871.8,1058.2 870.9,1057.6 870.1,1057.0 869.3,1056.4 868.4,1055.8 867.6,1055.2 866.8,1054.6 865.9,1054.0 865.1,1053.4 864.2,1052.8 863.4,1052.1 862.5,1051.5 861.7,1050.9 860.8,1050.2 859.9,1049.6 859.1,1048.9 858.2,1048.3 857.3,1047.6 856.5,1047.0 855.6,1046.3 854.7,1045.6 853.8,1045.0 853.0,1044.3 852.1,1043.6 851.2,1042.9 850.3,1042.2 849.4,1041.5 848.5,1040.8 847.6,1040.1 846.7,1039.4 846.5,1039.3" fill="none" stroke="#22c03a" stroke-width="1.7" stroke-linecap="round" stroke-linejoin="round"/>
<polyline points="846.5,1039.3 845.8,1038.7 844.9,1038.0 844.0,1037.3 843.1,1036.6 842.2,1035.8 841.3,1035.1 840.4,1034.4 839.4,1033.6 838.5,1032.9 837.6,1032.1 836.7,1031.4 835.7,1030.6 834.8,1029.9 833.9,1029.1 832.9,1028.3 832.0,1027.6 831.0,1026.8 830.1,1026.0 829.1,1025.2 828.2,1024.4 827.2,1023.6 826.2,1022.8 825.3,1022.0 824.3,1021.2 823.3,1020.4 822.4,1019.6 821.4,1018.8 820.4,1018.0 819.4,1017.1 818.4,1016.3 817.4,1015.5 816.4,1014.6 815.4,1013.8 814.5,1012.9 813.4,1012.1 812.4,1011.2 811.4,1010.3 810.4,1009.5 809.4,1008.6 808.4,1007.7 807.4,1006.9 806.3,1006.0 805.3,1005.1 804.3,1004.2 803.2,1003.3 802.9,1003.0" fill="none" stroke="#3f52cc" stroke-width="1.7" stroke-linecap="round" stroke-linejoin="round"/>
<polyline points="802.9,1003.0 802.2,1002.4 801.2,1001.5 800.1,1000.6 799.1,999.6 798.0,998.7 797.0,997.8 795.9,996.9" fill="none" stroke="#43e9a9" stroke-width="1.7" stroke-linecap="round" stroke-linejoin="round"/>
<polyline points="534.7,1152.8 537.1,1151.8 539.5,1150.7 542.0,1149.6 544.4,1148.6 546.8,1147.5 549.3,1146.4 551.7,1145.4 554.2,1144.3 556.6,1143.2 559.1,1142.2 561.6,1141.1 564.0,1140.0 566.5,1138.9 569.0,1137.8 571.4,1136.8 573.9,1135.7 576.4,1134.6 578.9,1133.5 581.4,1132.4 583.8,1131.3 586.3,1130.2 588.8,1129.1 591.3,1128.0 593.8,1127.0 596.3,1125.9 598.9,1124.8 601.4,1123.7 603.9,1122.6 606.4,1121.5 608.9,1120.3 611.5,1119.2 614.0,1118.1 616.5,1117.0 619.1,1115.9 621.6,1114.8 624.1,1113.7 626.7,1112.6 629.2,1111.5 631.8,1110.3 634.3,1109.2 636.9,1108.1 639.5,1107.0 642.0,1105.9 644.6,1104.7 647.2,1103.6 647.4,1103.5" fill="none" stroke="#1f9a68" stroke-width="1.7" stroke-linecap="round" stroke-linejoin="round"/>
<polyline points="647.4,1103.5 649.8,1102.5 652.4,1101.3 654.9,1100.2 657.5,1099.1 660.1,1098.0 662.7,1096.8 665.3,1095.7 667.9,1094.5 670.5,1093.4 673.1,1092.3 675.8,1091.1 678.4,1090.0 681.0,1088.8 683.6,1087.7 686.2,1086.5 688.9,1085.4 691.5,1084.2 694.2,1083.1 696.8,1081.9 699.4,1080.7 702.1,1079.6 704.8,1078.4 707.4,1077.3 710.1,1076.1 712.7,1074.9 715.4,1073.8 718.1,1072.6 720.8,1071.4 723.4,1070.2 726.1,1069.1 728.8,1067.9 731.5,1066.7 734.2,1065.5 736.9,1064.4 739.6,1063.2 742.3,1062.0 745.0,1060.8 747.7,1059.6 750.5,1058.4 753.2,1057.2 755.9,1056.0 758.6,1054.8 761.4,1053.7 764.1,1052.5 766.8,1051.3 769.6,1050.1 771.8,1049.1" fill="none" stroke="#22c03a" stroke-width="1.7" stroke-linecap="round" stroke-linejoin="round"/>
<polyline points="771.8,1049.1 772.3,1048.8 775.1,1047.6 777.9,1046.4 780.6,1045.2 783.4,1044.0 786.1,1042.8 788.9,1041.6 791.7,1040.4 794.5,1039.2 797.3,1037.9 800.1,1036.7 802.8,1035.5 805.6,1034.3 808.4,1033.1 811.2,1031.8 814.1,1030.6 816.9,1029.4 819.7,1028.1 822.5,1026.9 825.3,1025.7 828.2,1024.4 831.0,1023.2 833.8,1021.9 836.7,1020.7 839.5,1019.5 842.4,1018.2 845.2,1017.0 848.1,1015.7 850.9,1014.5 853.8,1013.2 856.7,1012.0 859.5,1010.7 862.4,1009.4 865.3,1008.2 868.2,1006.9 871.1,1005.6 874.0,1004.4 876.9,1003.1 879.8,1001.8 882.7,1000.6 885.6,999.3 888.5,998.0 891.4,996.7 894.4,995.5 897.3,994.2 900.2,992.9 903.2,991.6 904.7,990.9" fill="none" stroke="#3f52cc" stroke-width="1.7" stroke-linecap="round" stroke-linejoin="round"/>
<polyline points="904.7,990.9 906.1,990.3 909.0,989.0 912.0,987.7 914.9,986.5 917.9,985.2 920.9,983.9 923.8,982.6 926.8,981.3 929.8,980.0 932.8,978.7 935.8,977.4 938.7,976.0 941.7,974.7 944.7,973.4 947.7,972.1 950.7,970.8 953.8,969.5 956.8,968.2 959.8,966.8 962.8,965.5 965.8,964.2 968.9,962.9" fill="none" stroke="#43e9a9" stroke-width="1.7" stroke-linecap="round" stroke-linejoin="round"/>
<polyline points="969.4,1089.6 968.7,1090.0 968.1,1090.1 967.5,1090.2 966.8,1090.2 966.2,1090.1 965.5,1090.0 964.9,1089.9 964.3,1089.7 963.6,1089.5 963.0,1089.3 962.3,1089.1 961.7,1088.8 961.0,1088.5 960.4,1088.2 959.7,1087.9 959.1,1087.6 958.4,1087.3 957.8,1086.9 957.1,1086.5 956.5,1086.2 955.8,1085.8 955.1,1085.4 954.5,1085.0 953.8,1084.5 953.2,1084.1 952.5,1083.7 951.8,1083.2 951.2,1082.7 950.5,1082.3 949.8,1081.8 949.1,1081.3 948.5,1080.8 947.8,1080.3 947.1,1079.8 946.4,1079.3 945.7,1078.7 945.1,1078.2 944.4,1077.7 943.7,1077.1 943.0,1076.5 942.3,1076.0 941.6,1075.4 940.9,1074.8 940.2,1074.2 939.5,1073.6 938.8,1073.0 938.1,1072.4 937.4,1071.8 936.7,1071.2 936.0,1070.6 935.3,1069.9 934.6,1069.3 933.9,1068.7 933.3,1068.2" fill="none" stroke="#1f9a68" stroke-width="1.7" stroke-linecap="round" stroke-linejoin="round"/>
<polyline points="933.3,1068.2 933.1,1068.0 932.4,1067.3 931.7,1066.7 931.0,1066.0 930.3,1065.3 929.5,1064.7 928.8,1064.0 928.1,1063.3 927.3,1062.6 926.6,1061.9 925.9,1061.2 925.1,1060.4 924.4,1059.7 923.7,1059.0 922.9,1058.3 922.2,1057.5 921.4,1056.8 920.7,1056.0 919.9,1055.3 919.2,1054.5 918.4,1053.7 917.6,1053.0 916.9,1052.2 916.1,1051.4 915.3,1050.6 914.6,1049.8 913.8,1049.0 913.0,1048.2 912.3,1047.4 911.5,1046.6 910.7,1045.8 909.9,1044.9 909.1,1044.1 908.4,1043.3 907.6,1042.4 906.8,1041.6 906.0,1040.7 905.2,1039.9 904.4,1039.0 903.6,1038.1 902.8,1037.3 902.0,1036.4 901.2,1035.5 900.6,1034.9" fill="none" stroke="#22c03a" stroke-width="1.7" stroke-linecap="round" stroke-linejoin="round"/>
<polyline points="900.6,1034.9 900.4,1034.6 899.6,1033.7 898.7,1032.8 897.9,1031.9 897.1,1031.0 896.3,1030.1 895.5,1029.2 894.6,1028.2 893.8,1027.3 893.0,1026.4 892.1,1025.4 891.3,1024.5 890.4,1023.5 889.6,1022.6 888.8,1021.6 887.9,1020.6 887.1,1019.6 886.2,1018.7 885.4,1017.7 884.5,1016.7 883.6,1015.7 882.8,1014.7 881.9,1013.7 881.0,1012.7 880.2,1011.7 879.3,1010.6 878.4,1009.6 877.5,1008.6 876.6,1007.5 875.8,1006.5 874.9,1005.4 874.0,1004.4 873.1,1003.3 872.2,1002.3 871.3,1001.2 870.4,1000.1 869.5,999.0 868.6,997.9 867.7,996.8 866.7,995.7 865.9,994.8" fill="none" stroke="#3f52cc" stroke-width="1.7" stroke-linecap="round" stroke-linejoin="round"/>
<polyline points="865.9,994.8 865.8,994.6 864.9,993.5 864.0,992.4 863.0,991.3 862.1,990.2 861.2,989.0 860.2,987.9 859.3,986.7 858.4,985.6 857.4,984.4 856.5,983.3 855.5,982.1 854.6,980.9 853.6,979.8 852.6,978.6 851.7,977.4 850.7,976.2 849.7,975.0 848.8,973.8 847.8,972.6 846.8,971.3 845.8,970.1 844.8,968.9 843.8,967.6" fill="none" stroke="#43e9a9" stroke-width="1.7" stroke-linecap="round" stroke-linejoin="round"/>
<polyline points="514.1,1167.0 516.5,1165.7 519.0,1164.4 521.5,1163.2 523.9,1161.9 526.4,1160.6 528.9,1159.3 531.3,1158.0 533.8,1156.7 536.3,1155.4 538.8,1154.1 541.3,1152.8 543.8,1151.5 546.3,1150.2 548.8,1148.9 551.3,1147.6 553.8,1146.3 556.3,1145.0 558.8,1143.7 561.3,1142.3 563.9,1141.0 566.4,1139.7 568.9,1138.4 571.4,1137.1 574.0,1135.7 576.5,1134.4 579.1,1133.1 581.6,1131.7 584.2,1130.4 586.7,1129.1 589.3,1127.7 591.8,1126.4 594.4,1125.1 597.0,1123.7 599.5,1122.4 602.1,1121.0 604.7,1119.7 607.3,1118.3 609.9,1117.0 612.5,1115.6 612.8,1115.5" fill="none" stroke="#1f9a68" stroke-width="1.7" stroke-linecap="round" stroke-linejoin="round"/>
<polyline points="612.8,1115.5 615.1,1114.3 617.7,1112.9 620.3,1111.6 622.9,1110.2 625.5,1108.8 628.1,1107.5 630.7,1106.1 633.3,1104.7 636.0,1103.4 638.6,1102.0 641.2,1100.6 643.9,1099.2 646.5,1097.9 649.2,1096.5 651.8,1095.1 654.5,1093.7 657.1,1092.3 659.8,1090.9 662.4,1089.5 665.1,1088.1 667.8,1086.7 670.5,1085.3 673.1,1083.9 675.8,1082.5 678.5,1081.1 681.2,1079.7 683.9,1078.3 686.6,1076.9 689.3,1075.5 692.0,1074.1 694.7,1072.7 697.5,1071.3 700.2,1069.8 702.9,1068.4 705.6,1067.0 708.4,1065.6 711.1,1064.1 713.8,1062.7 716.6,1061.3 719.3,1059.8 721.7,1058.6" fill="none" stroke="#22c03a" stroke-width="1.7" stroke-linecap="round" stroke-linejoin="round"/>
<polyline points="721.7,1058.6 722.1,1058.4 724.8,1057.0 727.6,1055.5 730.4,1054.1 733.1,1052.6 735.9,1051.2 738.7,1049.7 741.5,1048.3 744.3,1046.8 747.1,1045.4 749.9,1043.9 752.7,1042.4 755.5,1041.0 758.3,1039.5 761.1,1038.0 763.9,1036.6 766.7,1035.1 769.5,1033.6 772.4,1032.1 775.2,1030.7 778.0,1029.2 780.9,1027.7 783.7,1026.2 786.6,1024.7 789.4,1023.2 792.3,1021.7 795.2,1020.2 798.0,1018.7 800.9,1017.2 803.8,1015.7 806.7,1014.2 809.6,1012.7 812.4,1011.2 815.3,1009.7 818.2,1008.2 821.1,1006.7 824.0,1005.2 827.0,1003.6 829.9,1002.1 832.8,1000.6 835.7,999.1 837.5,998.1" fill="none" stroke="#3f52cc" stroke-width="1.7" stroke-linecap="round" stroke-linejoin="round"/>
<polyline points="837.5,998.1 838.7,997.5 841.6,996.0 844.5,994.5 847.5,992.9 850.4,991.4 853.4,989.8 856.3,988.3 859.3,986.7 862.3,985.2 865.2,983.6 868.2,982.1 871.2,980.5 874.2,979.0 877.2,977.4 880.2,975.8 883.2,974.3 886.2,972.7 889.2,971.1 892.2,969.6 895.2,968.0 898.2,966.4 901.3,964.8 904.3,963.2 907.3,961.7 910.4,960.1 913.4,958.5 916.5,956.9 919.5,955.3 922.6,953.7 925.7,952.1 928.7,950.5 931.8,948.9 934.9,947.3 938.0,945.7 941.1,944.0 944.2,942.4 947.3,940.8 950.4,939.2 953.5,937.6 956.6,935.9" fill="none" stroke="#43e9a9" stroke-width="1.7" stroke-linecap="round" stroke-linejoin="round"/>
<polyline points="1008.6,1094.0 1008.0,1094.3 1007.4,1094.4 1006.8,1094.4 1006.2,1094.3 1005.6,1094.1 1005.0,1093.9 1004.4,1093.7 1003.9,1093.4 1003.3,1093.1 1002.7,1092.7 1002.1,1092.4 1001.5,1092.0 1000.9,1091.6 1000.3,1091.2 999.7,1090.7 999.1,1090.3 998.5,1089.8 997.9,1089.3 997.3,1088.8 996.7,1088.3 996.1,1087.8 995.5,1087.2 994.9,1086.7 994.2,1086.1 993.6,1085.5 993.0,1084.9 992.4,1084.3 991.8,1083.7 991.2,1083.1 990.6,1082.4 989.9,1081.8 989.3,1081.1 988.7,1080.5 988.1,1079.8 987.5,1079.1 986.8,1078.4 986.2,1077.7 985.6,1077.0 984.9,1076.3 984.3,1075.6 983.7,1074.8 983.0,1074.1 982.4,1073.3 981.8,1072.6 981.1,1071.8 980.5,1071.0 979.8,1070.2 979.2,1069.4 978.7,1068.9" fill="none" stroke="#1f9a68" stroke-width="1.7" stroke-linecap="round" stroke-linejoin="round"/>
<polyline points="978.7,1068.9 978.5,1068.6 977.9,1067.8 977.2,1067.0 976.6,1066.2 975.9,1065.4 975.3,1064.5 974.6,1063.7 973.9,1062.8 973.3,1062.0 972.6,1061.1 971.9,1060.2 971.3,1059.3 970.6,1058.4 969.9,1057.5 969.3,1056.6 968.6,1055.7 967.9,1054.8 967.2,1053.9 966.5,1053.0 965.9,1052.0 965.2,1051.1 964.5,1050.1 963.8,1049.2 963.1,1048.2 962.4,1047.2 961.7,1046.3 961.0,1045.3 960.3,1044.3 959.6,1043.3 958.9,1042.3 958.2,1041.3 957.5,1040.3 956.8,1039.3 956.1,1038.2 955.4,1037.2 954.7,1036.1 953.9,1035.1 953.2,1034.0 952.5,1033.0 952.1,1032.4" fill="none" stroke="#22c03a" stroke-width="1.7" stroke-linecap="round" stroke-linejoin="round"/>
<polyline points="952.1,1032.4 951.8,1031.9 951.0,1030.8 950.3,1029.8 949.6,1028.7 948.9,1027.6 948.1,1026.5 947.4,1025.4 946.6,1024.3 945.9,1023.1 945.2,1022.0 944.4,1020.9 943.7,1019.7 942.9,1018.6 942.2,1017.4 941.4,1016.3 940.6,1015.1 939.9,1013.9 939.1,1012.8 938.3,1011.6 937.6,1010.4 936.8,1009.2 936.0,1008.0 935.3,1006.8 934.5,1005.6 933.7,1004.3 932.9,1003.1 932.1,1001.9 931.3,1000.6 930.6,999.4 929.8,998.1 929.0,996.9 928.2,995.6 927.4,994.3 926.6,993.0 925.8,991.7 925.0,990.4 924.3,989.3" fill="none" stroke="#3f52cc" stroke-width="1.7" stroke-linecap="round" stroke-linejoin="round"/>
<polyline points="924.3,989.3 924.1,989.1 923.3,987.8 922.5,986.5 921.7,985.2 920.9,983.9 920.0,982.5 919.2,981.2 918.4,979.8 917.6,978.5 916.7,977.1 915.9,975.7 915.0,974.4 914.2,973.0 913.4,971.6 912.5,970.2 911.6,968.8 910.8,967.4 909.9,966.0 909.1,964.5 908.2,963.1 907.3,961.7 906.5,960.2 905.6,958.8 904.7,957.3 903.8,955.8 903.0,954.3 902.1,952.9 901.2,951.4 900.3,949.9 899.4,948.4 898.5,946.9 897.6,945.3 896.7,943.8 895.8,942.3 894.9,940.7 894.3,939.7" fill="none" stroke="#43e9a9" stroke-width="1.7" stroke-linecap="round" stroke-linejoin="round"/>
<polyline points="894.3,939.7 894.0,939.2 893.1,937.6" fill="none" stroke="#43e9a9" stroke-width="1.7" stroke-linecap="round" stroke-linejoin="round"/>
<polyline points="1023.6,1070.2 1021.7,1070.2 1019.3,1070.1 1016.9,1070.0 1014.6,1069.9 1012.3,1069.8 1010.0,1069.8 1007.7,1069.7 1005.4,1069.6 1003.2,1069.5 1001.0,1069.5 998.8,1069.4 996.6,1069.3 994.5,1069.3 992.3,1069.2 990.2,1069.2 988.1,1069.1 986.0,1069.0 984.0,1069.0 981.9,1068.9 979.9,1068.9 977.9,1068.8 975.9,1068.8 973.9,1068.7 972.0,1068.7 970.0,1068.7 968.1,1068.6 966.2,1068.6 964.3,1068.6 962.4,1068.5 960.6,1068.5 958.7,1068.5 956.9,1068.4 955.1,1068.4 953.3,1068.4 951.5,1068.4 949.7,1068.3 948.0,1068.3 946.2,1068.3 944.5,1068.3 942.8,1068.3 941.1,1068.2 939.4,1068.2 937.7,1068.2 936.0,1068.2 934.4,1068.2 932.7,1068.2 931.1,1068.2 929.5,1068.2 927.9,1068.2 926.3,1068.2 924.7,1068.2 923.2,1068.2 921.6,1068.2 920.0,1068.2 918.5,1068.2 917.0,1068.2 915.5,1068.2 914.0,1068.2 912.5,1068.2 911.0,1068.2 909.5,1068.2 908.1,1068.2 906.6,1068.2 905.2,1068.2 903.7,1068.3 902.3,1068.3 900.9,1068.3 899.5,1068.3 898.1,1068.3 896.7,1068.3 895.3,1068.4 894.0,1068.4 892.6,1068.4 891.3,1068.4 889.9,1068.5 888.6,1068.5 887.3,1068.5 886.0,1068.5 884.7,1068.6 883.4,1068.6 882.1,1068.6 880.8,1068.6 879.5,1068.7 878.3,1068.7 877.0,1068.7 875.7,1068.8 874.5,1068.8 873.3,1068.9 872.0,1068.9 870.8,1068.9 869.6,1069.0 868.4,1069.0 867.2,1069.0 866.0,1069.1 864.8,1069.1 863.7,1069.2 862.5,1069.2 861.3,1069.3 860.2,1069.3 859.0,1069.3 857.9,1069.4 856.7,1069.4 855.6,1069.5 854.5,1069.5 853.4,1069.6 852.2,1069.6 851.1,1069.7 850.0,1069.7 848.9,1069.8 847.9,1069.8 846.8,1069.9 845.7,1069.9 844.6,1070.0 843.6,1070.1 842.5,1070.1 841.4,1070.2 840.4,1070.2 839.4,1070.3 838.3,1070.3 837.3,1070.4 836.3,1070.5 835.2,1070.5 834.2,1070.6 833.2,1070.6 832.2,1070.7 831.2,1070.8 830.2,1070.8 829.2,1070.9 828.2,1071.0 827.2,1071.0 826.3,1071.1 825.3,1071.2 824.3,1071.2 823.4,1071.3 822.4,1071.4 821.5,1071.4 820.5,1071.5 819.6,1071.6 818.6,1071.6 817.7,1071.7 816.8,1071.8 815.8,1071.8 814.9,1071.9 814.0,1072.0 813.1,1072.1 812.2,1072.1 811.3,1072.2 810.4,1072.3 809.5,1072.4 808.6,1072.4 807.7,1072.5 806.8,1072.6 805.9,1072.7 805.0,1072.7 804.2,1072.8 803.3,1072.9 802.4,1073.0 801.6,1073.1 800.7,1073.1 799.9,1073.2 799.0,1073.3 798.2,1073.4 797.3,1073.5 796.5,1073.5 795.6,1073.6 794.8,1073.7 794.0,1073.8 793.1,1073.9 792.3,1074.0 791.5,1074.0 790.7,1074.1 789.9,1074.2 789.1,1074.3 788.3,1074.4 787.4,1074.5 786.6,1074.6 785.9,1074.6 785.1,1074.7 784.3,1074.8 783.5,1074.9 782.7,1075.0 781.9,1075.1 781.1,1075.2 780.4,1075.3 779.6,1075.4 778.8,1075.4 778.0,1075.5 777.3,1075.6 776.5,1075.7 775.8,1075.8 775.0,1075.9 774.3,1076.0 773.5,1076.1 772.8,1076.2 772.0,1076.3 771.3,1076.4 770.5,1076.5 769.8,1076.6 769.1,1076.7 768.3,1076.8 767.6,1076.9 766.9,1077.0 766.1,1077.1 765.4,1077.1 764.7,1077.2 764.0,1077.3 763.3,1077.4 762.6,1077.5 761.9,1077.6 761.2,1077.7 760.4,1077.8 759.7,1077.9 759.0,1078.0 758.3,1078.1 757.7,1078.2 757.0,1078.3 756.3,1078.4 755.6,1078.5 754.9,1078.6 754.2,1078.7 753.5,1078.9 752.9,1079.0 752.2,1079.1 751.5,1079.2 750.8,1079.3 750.2,1079.4 749.5,1079.5 748.8,1079.6 748.2,1079.7 747.5,1079.8 746.8,1079.9 746.2,1080.0 745.5,1080.1 744.9,1080.2 744.2,1080.3 743.6,1080.4 742.9,1080.5 742.3,1080.6 741.6,1080.8 741.0,1080.9 740.3,1081.0 739.7,1081.1 739.1,1081.2 738.4,1081.3 737.8,1081.4 737.2,1081.5 736.5,1081.6 735.9,1081.7 735.3,1081.8 734.6,1082.0 734.0,1082.1 733.4,1082.2 732.8,1082.3 732.2,1082.4 731.6,1082.5 730.9,1082.6 730.3,1082.7 729.7,1082.9 729.1,1083.0 728.5,1083.1 727.9,1083.2 727.3,1083.3 726.7,1083.4 726.1,1083.5 725.5,1083.7 724.9,1083.8 724.3,1083.9 723.7,1084.0 723.1,1084.1 722.5,1084.2 721.9,1084.4 721.3,1084.5 720.7,1084.6 720.1,1084.7 719.6,1084.8 719.0,1084.9 718.4,1085.1 717.8,1085.2 717.2,1085.3 716.7,1085.4 716.1,1085.5 715.5,1085.6 714.9,1085.8 714.4,1085.9 713.8,1086.0 713.2,1086.1 712.7,1086.2 712.1,1086.4 711.5,1086.5 711.0,1086.6 710.4,1086.7 709.8,1086.8 709.3,1087.0 708.7,1087.1 708.2,1087.2 707.6,1087.3 707.0,1087.5 706.5,1087.6 705.9,1087.7 705.4,1087.8 704.8,1087.9 704.3,1088.1 703.7,1088.2 703.2,1088.3 702.7,1088.4 702.1,1088.6 701.6,1088.7 701.0,1088.8 700.5,1088.9 699.9,1089.1 699.4,1089.2 698.9,1089.3 698.3,1089.4 697.8,1089.6 697.3,1089.7 696.7,1089.8 696.2,1089.9 695.7,1090.1 695.1,1090.2 694.6,1090.3 694.1,1090.5 693.6,1090.6 693.0,1090.7 692.5,1090.8 692.0,1091.0 691.5,1091.1 690.9,1091.2 690.4,1091.3 689.9,1091.5 689.4,1091.6 688.9,1091.7 688.3,1091.9 687.8,1092.0 687.3,1092.1 686.8,1092.3 686.3,1092.4 685.8,1092.5 685.3,1092.6 684.8,1092.8 684.2,1092.9 683.7,1093.0 683.2,1093.2 682.7,1093.3 682.2,1093.4 681.7,1093.6 681.2,1093.7 680.7,1093.8 680.2,1094.0 679.7,1094.1 679.2,1094.2 678.7,1094.4 678.2,1094.5 677.7,1094.6 677.2,1094.8 676.7,1094.9 676.2,1095.0 675.7,1095.2 675.2,1095.3 674.8,1095.4 674.3,1095.6 673.8,1095.7 673.3,1095.8 672.8,1096.0 672.3,1096.1 671.8,1096.2 671.3,1096.4 670.8,1096.5 670.4,1096.6 669.9,1096.8 669.4,1096.9 668.9,1097.0 668.4,1097.2 667.9,1097.3 667.5,1097.5 667.0,1097.6 666.5,1097.7 666.0,1097.9 665.6,1098.0 665.1,1098.1 664.6,1098.3 664.1,1098.4 663.6,1098.6 663.2,1098.7 662.7,1098.8 662.2,1099.0 661.8,1099.1 661.3,1099.3 660.8,1099.4 660.3,1099.5 659.9,1099.7 659.4,1099.8 658.9,1099.9 658.5,1100.1 658.0,1100.2 657.5,1100.4 657.1,1100.5 656.6,1100.7 656.1,1100.8 655.7,1100.9 655.2,1101.1 654.8,1101.2 654.3,1101.4 653.8,1101.5 653.4,1101.6 652.9,1101.8 652.5,1101.9 652.0,1102.1 651.5,1102.2 651.1,1102.3 650.6,1102.5 650.2,1102.6 649.7,1102.8 649.3,1102.9 648.8,1103.1 648.4,1103.2 647.9,1103.4 647.4,1103.5 647.0,1103.6 646.5,1103.8 646.1,1103.9 645.6,1104.1 645.2,1104.2 644.7,1104.4 644.3,1104.5 643.8,1104.7 643.4,1104.8 643.0,1104.9 642.5,1105.1 642.1,1105.2 641.6,1105.4 641.2,1105.5 640.7,1105.7 640.3,1105.8 639.8,1106.0 639.4,1106.1 638.9,1106.3 638.5,1106.4 638.1,1106.5 637.6,1106.7 637.2,1106.8 636.7,1107.0 636.3,1107.1 635.9,1107.3 635.4,1107.4 635.0,1107.6 634.6,1107.7 634.1,1107.9 633.7,1108.0 633.2,1108.2 632.8,1108.3 632.4,1108.5 631.9,1108.6 631.5,1108.8 631.1,1108.9 630.6,1109.1 630.2,1109.2 629.8,1109.4 629.3,1109.5 628.9,1109.7 628.5,1109.8 628.0,1110.0 627.6,1110.1 627.2,1110.3 626.7,1110.4 626.3,1110.6 625.9,1110.7 625.5,1110.9 625.0,1111.0 624.6,1111.2 624.2,1111.3 623.8,1111.5 623.3,1111.6 622.9,1111.8 622.5,1111.9 622.0,1112.1 621.6,1112.2 621.2,1112.4 620.8,1112.5 620.3,1112.7 619.9,1112.8 619.5,1113.0 619.1,1113.2 618.7,1113.3 618.2,1113.5 617.8,1113.6 617.4,1113.8 617.0,1113.9 616.6,1114.1 616.1,1114.2 615.7,1114.4 615.3,1114.5 614.9,1114.7 614.5,1114.8 614.0,1115.0 613.6,1115.2 613.2,1115.3 612.8,1115.5 612.4,1115.6 611.9,1115.8 611.5,1115.9 611.1,1116.1 610.7,1116.2 610.3,1116.4 609.9,1116.6 609.5,1116.7 609.0,1116.9 608.6,1117.0 608.2,1117.2 607.8,1117.3 607.4,1117.5 607.0,1117.7 606.6,1117.8 606.1,1118.0 605.7,1118.1 605.3,1118.3 604.9,1118.4 604.5,1118.6 604.1,1118.8 603.7,1118.9 603.3,1119.1 602.9,1119.2 602.4,1119.4 602.0,1119.6 601.6,1119.7 601.2,1119.9 600.8,1120.0 600.4,1120.2 600.0,1120.3 599.6,1120.5 599.2,1120.7 598.8,1120.8 598.4,1121.0 598.0,1121.1 597.6,1121.3 597.1,1121.5 596.7,1121.6 596.3,1121.8 595.9,1121.9 595.5,1122.1 595.1,1122.3 594.7,1122.4 594.3,1122.6 593.9,1122.8 593.5,1122.9 593.1,1123.1 592.7,1123.2 592.3,1123.4 591.9,1123.6 591.5,1123.7 591.1,1123.9 590.7,1124.0 590.3,1124.2 589.9,1124.4 589.5,1124.5 589.1,1124.7 588.7,1124.9 588.3,1125.0 587.9,1125.2 587.5,1125.4 587.1,1125.5 586.7,1125.7 586.3,1125.8 585.9,1126.0 585.5,1126.2 585.1,1126.3 584.7,1126.5 584.3,1126.7 583.9,1126.8 583.5,1127.0 583.1,1127.2 582.7,1127.3 582.3,1127.5 581.9,1127.7 581.5,1127.8 581.1,1128.0 580.7,1128.2 580.3,1128.3" fill="none" stroke="#21b744" stroke-width="1.5" stroke-linecap="round" stroke-linejoin="round"/>
<polyline points="1002.0,1031.2 1001.5,1031.2 1000.0,1031.2 998.6,1031.2 997.1,1031.3 995.7,1031.3 994.2,1031.3 992.8,1031.3 991.4,1031.4 990.0,1031.4 988.6,1031.4 987.2,1031.4 985.8,1031.5 984.4,1031.5 983.1,1031.5 981.7,1031.5 980.3,1031.6 979.0,1031.6 977.6,1031.6 976.3,1031.7 975.0,1031.7 973.6,1031.7 972.3,1031.8 971.0,1031.8 969.7,1031.8 968.4,1031.9 967.1,1031.9 965.8,1031.9 964.5,1032.0 963.2,1032.0 961.9,1032.1 960.6,1032.1 959.4,1032.1 958.1,1032.2 956.8,1032.2 955.6,1032.3 954.3,1032.3 953.1,1032.3 951.9,1032.4 950.6,1032.4 949.4,1032.5 948.2,1032.5 947.0,1032.6 945.8,1032.6 944.6,1032.7 943.4,1032.7 942.2,1032.7 941.0,1032.8 939.8,1032.8 938.6,1032.9 937.4,1032.9 936.3,1033.0 935.1,1033.0 934.0,1033.1 932.8,1033.1 931.6,1033.2 930.5,1033.2 929.4,1033.3 928.2,1033.4 927.1,1033.4 926.0,1033.5 924.8,1033.5 923.7,1033.6 922.6,1033.6 921.5,1033.7 920.4,1033.7 919.3,1033.8 918.2,1033.9 917.1,1033.9 916.0,1034.0 914.9,1034.0 913.8,1034.1 912.7,1034.2 911.7,1034.2 910.6,1034.3 909.5,1034.3 908.5,1034.4 907.4,1034.5 906.4,1034.5 905.3,1034.6 904.3,1034.6 903.2,1034.7 902.2,1034.8 901.1,1034.8 900.1,1034.9 899.1,1035.0 898.1,1035.0 897.0,1035.1 896.0,1035.2 895.0,1035.2 894.0,1035.3 893.0,1035.4 892.0,1035.4 891.0,1035.5 890.0,1035.6 889.0,1035.7 888.0,1035.7 887.0,1035.8 886.0,1035.9 885.1,1035.9 884.1,1036.0 883.1,1036.1 882.1,1036.1 881.2,1036.2 880.2,1036.3 879.3,1036.4 878.3,1036.4 877.3,1036.5 876.4,1036.6 875.4,1036.7 874.5,1036.7 873.6,1036.8 872.6,1036.9 871.7,1037.0 870.8,1037.0 869.8,1037.1 868.9,1037.2 868.0,1037.3 867.1,1037.4 866.1,1037.4 865.2,1037.5 864.3,1037.6 863.4,1037.7 862.5,1037.8 861.6,1037.8 860.7,1037.9 859.8,1038.0 858.9,1038.1 858.0,1038.2 857.1,1038.2 856.2,1038.3 855.4,1038.4 854.5,1038.5 853.6,1038.6 852.7,1038.7 851.9,1038.7 851.0,1038.8 850.1,1038.9 849.2,1039.0 848.4,1039.1 847.5,1039.2 846.7,1039.2 845.8,1039.3 845.0,1039.4 844.1,1039.5 843.3,1039.6 842.4,1039.7 841.6,1039.8 840.7,1039.9 839.9,1039.9 839.1,1040.0 838.2,1040.1 837.4,1040.2 836.6,1040.3 835.7,1040.4 834.9,1040.5 834.1,1040.6 833.3,1040.7 832.4,1040.7 831.6,1040.8 830.8,1040.9 830.0,1041.0 829.2,1041.1 828.4,1041.2 827.6,1041.3 826.8,1041.4 826.0,1041.5 825.2,1041.6 824.4,1041.7 823.6,1041.8 822.8,1041.9 822.0,1042.0 821.2,1042.0 820.4,1042.1 819.7,1042.2 818.9,1042.3 818.1,1042.4 817.3,1042.5 816.5,1042.6 815.8,1042.7 815.0,1042.8 814.2,1042.9 813.5,1043.0 812.7,1043.1 811.9,1043.2 811.2,1043.3 810.4,1043.4 809.6,1043.5 808.9,1043.6 808.1,1043.7 807.4,1043.8 806.6,1043.9 805.9,1044.0 805.1,1044.1 804.4,1044.2 803.6,1044.3 802.9,1044.4 802.2,1044.5 801.4,1044.6 800.7,1044.7 799.9,1044.8 799.2,1044.9 798.5,1045.0 797.8,1045.1 797.0,1045.2 796.3,1045.3 795.6,1045.4 794.8,1045.5 794.1,1045.6 793.4,1045.7 792.7,1045.8 792.0,1045.9 791.3,1046.0 790.5,1046.2 789.8,1046.3 789.1,1046.4 788.4,1046.5 787.7,1046.6 787.0,1046.7 786.3,1046.8 785.6,1046.9 784.9,1047.0 784.2,1047.1 783.5,1047.2 782.8,1047.3 782.1,1047.4 781.4,1047.5 780.7,1047.6 780.0,1047.8 779.3,1047.9 778.6,1048.0 778.0,1048.1 777.3,1048.2 776.6,1048.3 775.9,1048.4 775.2,1048.5 774.5,1048.6 773.9,1048.7 773.2,1048.9 772.5,1049.0 771.8,1049.1 771.2,1049.2 770.5,1049.3 769.8,1049.4 769.2,1049.5 768.5,1049.6 767.8,1049.7 767.2,1049.9 766.5,1050.0 765.8,1050.1 765.2,1050.2 764.5,1050.3 763.8,1050.4 763.2,1050.5 762.5,1050.6 761.9,1050.8 761.2,1050.9 760.6,1051.0 759.9,1051.1 759.3,1051.2 758.6,1051.3 758.0,1051.5 757.3,1051.6 756.7,1051.7 756.0,1051.8 755.4,1051.9 754.8,1052.0 754.1,1052.1 753.5,1052.3 752.8,1052.4 752.2,1052.5 751.6,1052.6 750.9,1052.7 750.3,1052.9 749.7,1053.0 749.0,1053.1 748.4,1053.2 747.8,1053.3 747.2,1053.4 746.5,1053.6 745.9,1053.7 745.3,1053.8 744.7,1053.9 744.0,1054.0 743.4,1054.2 742.8,1054.3 742.2,1054.4 741.6,1054.5 740.9,1054.6 740.3,1054.8 739.7,1054.9 739.1,1055.0 738.5,1055.1 737.9,1055.2 737.3,1055.4 736.6,1055.5 736.0,1055.6 735.4,1055.7 734.8,1055.9 734.2,1056.0 733.6,1056.1 733.0,1056.2 732.4,1056.3 731.8,1056.5 731.2,1056.6 730.6,1056.7 730.0,1056.8 729.4,1057.0 728.8,1057.1 728.2,1057.2 727.6,1057.3 727.0,1057.5 726.4,1057.6 725.8,1057.7 725.2,1057.8 724.6,1058.0 724.1,1058.1 723.5,1058.2 722.9,1058.3 722.3,1058.5 721.7,1058.6 721.1,1058.7 720.5,1058.8 719.9,1059.0 719.4,1059.1 718.8,1059.2 718.2,1059.4 717.6,1059.5 717.0,1059.6 716.5,1059.7 715.9,1059.9 715.3,1060.0 714.7,1060.1 714.2,1060.3 713.6,1060.4 713.0,1060.5 712.4,1060.6 711.9,1060.8 711.3,1060.9 710.7,1061.0 710.1,1061.2 709.6,1061.3 709.0,1061.4 708.4,1061.5 707.9,1061.7 707.3,1061.8 706.7,1061.9 706.2,1062.1 705.6,1062.2 705.0,1062.3 704.5,1062.5 703.9,1062.6 703.4,1062.7 702.8,1062.9 702.2,1063.0 701.7,1063.1 701.1,1063.3 700.6,1063.4 700.0,1063.5 699.4,1063.7 698.9,1063.8 698.3,1063.9 697.8,1064.1 697.2,1064.2 696.7,1064.3 696.1,1064.5 695.6,1064.6 695.0,1064.7 694.5,1064.9 693.9,1065.0 693.4,1065.1 692.8,1065.3 692.3,1065.4 691.7,1065.5 691.2,1065.7 690.6,1065.8 690.1,1065.9 689.5,1066.1 689.0,1066.2 688.5,1066.3 687.9,1066.5 687.4,1066.6 686.8,1066.8 686.3,1066.9 685.8,1067.0 685.2,1067.2 684.7,1067.3 684.1,1067.4 683.6,1067.6 683.1,1067.7 682.5,1067.8 682.0,1068.0 681.5,1068.1 680.9,1068.3 680.4,1068.4 679.9,1068.5 679.3,1068.7 678.8,1068.8 678.3,1069.0 677.7,1069.1 677.2,1069.2" fill="none" stroke="#386aab" stroke-width="1.5" stroke-linecap="round" stroke-linejoin="round"/>
<polyline points="979.6,985.8 978.9,985.8 977.7,985.9 976.6,986.0 975.5,986.0 974.4,986.1 973.3,986.1 972.2,986.2 971.0,986.3 969.9,986.3 968.8,986.4 967.8,986.4 966.7,986.5 965.6,986.6 964.5,986.6 963.4,986.7 962.3,986.8 961.3,986.8 960.2,986.9 959.1,986.9 958.1,987.0 957.0,987.1 955.9,987.1 954.9,987.2 953.8,987.3 952.8,987.3 951.7,987.4 950.7,987.5 949.6,987.5 948.6,987.6 947.6,987.7 946.5,987.7 945.5,987.8 944.5,987.9 943.5,987.9 942.4,988.0 941.4,988.1 940.4,988.1 939.4,988.2 938.4,988.3 937.4,988.4 936.4,988.4 935.4,988.5 934.4,988.6 933.4,988.6 932.4,988.7 931.4,988.8 930.4,988.9 929.4,988.9 928.4,989.0 927.5,989.1 926.5,989.2 925.5,989.2 924.5,989.3 923.6,989.4 922.6,989.5 921.6,989.5 920.7,989.6 919.7,989.7 918.8,989.8 917.8,989.8 916.9,989.9 915.9,990.0 915.0,990.1 914.0,990.1 913.1,990.2 912.1,990.3 911.2,990.4 910.3,990.5 909.3,990.5 908.4,990.6 907.5,990.7 906.6,990.8 905.6,990.9 904.7,990.9 903.8,991.0 902.9,991.1 902.0,991.2 901.1,991.3 900.1,991.3 899.2,991.4 898.3,991.5 897.4,991.6 896.5,991.7 895.6,991.7 894.7,991.8 893.8,991.9 893.0,992.0 892.1,992.1 891.2,992.2 890.3,992.3 889.4,992.3 888.5,992.4 887.6,992.5 886.8,992.6 885.9,992.7 885.0,992.8 884.1,992.8 883.3,992.9 882.4,993.0 881.5,993.1 880.7,993.2 879.8,993.3 879.0,993.4 878.1,993.5 877.2,993.5 876.4,993.6 875.5,993.7 874.7,993.8 873.8,993.9 873.0,994.0 872.2,994.1 871.3,994.2 870.5,994.3 869.6,994.4 868.8,994.4 868.0,994.5 867.1,994.6 866.3,994.7 865.5,994.8 864.6,994.9 863.8,995.0 863.0,995.1 862.2,995.2 861.3,995.3 860.5,995.4 859.7,995.4 858.9,995.5 858.1,995.6 857.3,995.7 856.5,995.8 855.6,995.9 854.8,996.0 854.0,996.1 853.2,996.2 852.4,996.3 851.6,996.4 850.8,996.5 850.0,996.6 849.2,996.7 848.4,996.8 847.6,996.9 846.9,997.0 846.1,997.1 845.3,997.2 844.5,997.3 843.7,997.4 842.9,997.5 842.1,997.5 841.4,997.6 840.6,997.7 839.8,997.8 839.0,997.9 838.3,998.0 837.5,998.1 836.7,998.2 835.9,998.3 835.2,998.4 834.4,998.5 833.6,998.6 832.9,998.7 832.1,998.8 831.3,998.9 830.6,999.0 829.8,999.1 829.1,999.2 828.3,999.3 827.6,999.4 826.8,999.5 826.1,999.6 825.3,999.7 824.6,999.8 823.8,1000.0 823.1,1000.1 822.3,1000.2 821.6,1000.3 820.8,1000.4 820.1,1000.5 819.3,1000.6 818.6,1000.7 817.9,1000.8 817.1,1000.9 816.4,1001.0 815.7,1001.1 814.9,1001.2 814.2,1001.3 813.5,1001.4 812.7,1001.5 812.0,1001.6 811.3,1001.7 810.6,1001.8 809.8,1001.9 809.1,1002.0 808.4,1002.1 807.7,1002.3 807.0,1002.4 806.2,1002.5 805.5,1002.6 804.8,1002.7 804.1,1002.8 803.4,1002.9 802.7,1003.0 802.0,1003.1 801.3,1003.2 800.6,1003.3 799.8,1003.4 799.1,1003.5 798.4,1003.7 797.7,1003.8 797.0,1003.9 796.3,1004.0 795.6,1004.1 794.9,1004.2 794.2,1004.3 793.5,1004.4 792.8,1004.5 792.1,1004.6 791.5,1004.8 790.8,1004.9 790.1,1005.0 789.4,1005.1 788.7,1005.2 788.0,1005.3 787.3,1005.4 786.6,1005.5 785.9,1005.7 785.3,1005.8 784.6,1005.9 783.9,1006.0 783.2,1006.1 782.5,1006.2 781.8,1006.3 781.2,1006.4 780.5,1006.6 779.8,1006.7" fill="none" stroke="#42c7b0" stroke-width="1.5" stroke-linecap="round" stroke-linejoin="round"/>
<polyline points="955.8,934.1 955.0,934.2 954.0,934.3 953.0,934.3 952.1,934.4 951.1,934.5 950.2,934.6 949.2,934.7 948.3,934.7 947.3,934.8 946.4,934.9 945.4,935.0 944.5,935.0 943.5,935.1 942.6,935.2 941.6,935.3 940.7,935.3 939.8,935.4 938.8,935.5 937.9,935.6 937.0,935.7 936.1,935.7 935.1,935.8 934.2,935.9 933.3,936.0 932.4,936.1 931.5,936.1 930.6,936.2 929.6,936.3 928.7,936.4 927.8,936.5 926.9,936.5 926.0,936.6 925.1,936.7 924.2,936.8 923.3,936.9 922.4,936.9 921.5,937.0 920.6,937.1 919.7,937.2 918.8,937.3 917.9,937.4 917.1,937.4 916.2,937.5 915.3,937.6 914.4,937.7 913.5,937.8 912.6,937.9 911.8,937.9 910.9,938.0 910.0,938.1 909.1,938.2 908.3,938.3 907.4,938.4 906.5,938.5 905.7,938.5 904.8,938.6 903.9,938.7 903.1,938.8 902.2,938.9 901.4,939.0 900.5,939.1 899.6,939.2 898.8,939.2 897.9,939.3 897.1,939.4 896.2,939.5 895.4,939.6 894.6,939.7 893.7,939.8 892.9,939.9 892.0,939.9 891.2,940.0 890.3,940.1 889.5,940.2 888.7,940.3" fill="none" stroke="#43e9a9" stroke-width="1.5" stroke-linecap="round" stroke-linejoin="round"/>
<text transform="translate(555.72,740.00) scale(1.0543,1)" font-size="40.93" font-family="'Liberation Serif','DejaVu Serif',serif" font-style="italic">N</text>
<text transform="translate(586.69,750.89) scale(0.9088,1)" font-size="60.46" font-family="'Liberation Serif','DejaVu Serif',serif">′</text>
<text transform="translate(584.18,752.60) scale(0.9295,1)" font-size="30.36" font-family="'Liberation Serif','DejaVu Serif',serif" font-style="italic">O</text>
<text transform="translate(615.12,744.07) scale(0.6641,1)" font-size="57.46" font-family="'Liberation Serif','DejaVu Serif',serif">(</text>
<text transform="translate(632.22,740.00) scale(0.9986,1)" font-size="40.93" font-family="'Liberation Serif','DejaVu Serif',serif">NSGA-II</text>
<text transform="translate(788.31,744.07) scale(0.6437,1)" font-size="57.46" font-family="'Liberation Serif','DejaVu Serif',serif">)</text>
<text transform="translate(395.80,920.20) scale(1.0237,1)" font-size="29.00" font-family="'Liberation Serif','DejaVu Serif',serif">2</text>
<text transform="translate(414.95,924.03) scale(1.0000,1)" font-size="33.00" font-family="'Liberation Serif','DejaVu Serif',serif">·</text>
<text transform="translate(429.02,920.32) scale(0.9730,1)" font-size="29.05" font-family="'Liberation Serif','DejaVu Serif',serif">10</text>
<text transform="translate(458.23,908.12) scale(1.0858,1)" font-size="18.75" font-family="'Liberation Serif','DejaVu Serif',serif">6</text>
<text transform="translate(440.88,1061.83) scale(1.0308,1)" font-size="27.86" font-family="'Liberation Serif','DejaVu Serif',serif">10</text>
<text transform="translate(469.83,1049.92) scale(1.1214,1)" font-size="18.16" font-family="'Liberation Serif','DejaVu Serif',serif">6</text>
<text transform="translate(468.30,1209.00) scale(1.0373,1)" font-size="28.48" font-family="'Liberation Serif','DejaVu Serif',serif">1</text>
<text transform="translate(890.57,1279.52) scale(1.0129,1)" font-size="28.45" font-family="'Liberation Serif','DejaVu Serif',serif">100</text>
<text transform="translate(941.93,1264.22) scale(0.9934,1)" font-size="28.90" font-family="'Liberation Serif','DejaVu Serif',serif">500</text>
<text transform="translate(1057.80,1121.90) scale(0.9837,1)" font-size="27.72" font-family="'Liberation Serif','DejaVu Serif',serif">1</text>
<text transform="translate(1004.08,1222.98) scale(0.6181,1)" font-size="64.97" font-family="'Liberation Serif','DejaVu Serif',serif">|</text>
<text transform="translate(1055.68,1222.98) scale(0.6181,1)" font-size="64.97" font-family="'Liberation Serif','DejaVu Serif',serif">|</text>
<text transform="translate(1014.97,1220.49) scale(1.1506,1)" font-size="40.53" font-family="'DejaVu Math TeX Gyre','Liberation Serif',serif">𝒫</text>
<text transform="translate(670.35,1298.00) scale(1.0273,1)" font-size="46.73" font-family="'Liberation Serif','DejaVu Serif',serif" font-style="italic">N</text>
<text transform="translate(702.99,1311.60) scale(1.1200,1)" font-size="31.26" font-family="'Liberation Serif','DejaVu Serif',serif" font-style="italic">i</text>
<text transform="translate(712.24,1311.27) scale(1.0411,1)" font-size="34.05" font-family="'Liberation Serif','DejaVu Serif',serif" font-style="italic">t</text>
<text transform="translate(728.81,1367.02) scale(1.1456,1)" font-size="37.50" font-family="'Liberation Serif','DejaVu Serif',serif" font-weight="bold">(c)</text>
</g>
</svg>
</body></html>
